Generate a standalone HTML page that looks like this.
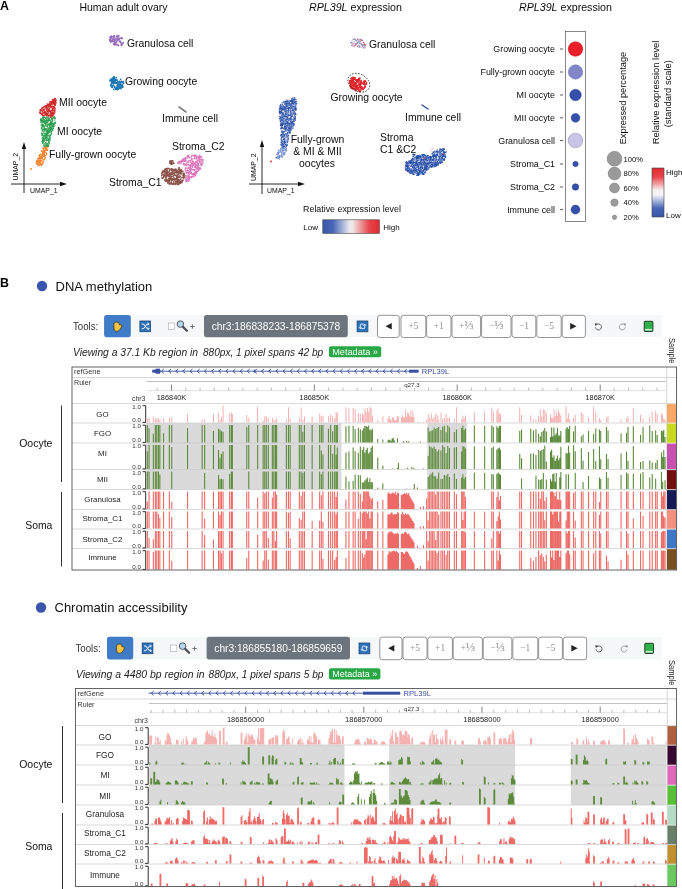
<!DOCTYPE html>
<html><head><meta charset="utf-8"><title>Figure</title>
<style>html,body{margin:0;padding:0;background:#fff}svg{display:block}text{font-family:"Liberation Sans",Arial,sans-serif}</style></head>
<body>
<svg width="682" height="889" viewBox="0 0 682 889">
<rect width="682" height="889" fill="#fff"/>
<g id="panelA">
<text x="0" y="10.3" font-size="12.4" fill="#000" font-weight="bold">A</text>
<text x="123.5" y="11.3" font-size="10.5" text-anchor="middle" fill="#0c0c0c">Human adult ovary</text>
<g fill="#9467bd"><circle cx="113.9" cy="36.7" r="0.9"/><circle cx="118.8" cy="35.8" r="0.9"/><circle cx="117.0" cy="39.0" r="0.9"/><circle cx="109.9" cy="40.6" r="0.9"/><circle cx="109.6" cy="39.8" r="0.9"/><circle cx="115.4" cy="44.1" r="0.9"/><circle cx="110.9" cy="37.5" r="0.9"/><circle cx="118.4" cy="45.4" r="0.9"/><circle cx="117.7" cy="39.4" r="0.9"/><circle cx="121.9" cy="38.2" r="0.9"/><circle cx="111.2" cy="36.3" r="0.9"/><circle cx="113.6" cy="44.0" r="0.9"/><circle cx="111.7" cy="41.4" r="0.9"/><circle cx="118.6" cy="39.1" r="0.9"/><circle cx="117.2" cy="35.7" r="0.9"/><circle cx="109.9" cy="37.3" r="0.9"/><circle cx="119.2" cy="39.7" r="0.9"/><circle cx="113.7" cy="41.4" r="0.9"/><circle cx="115.8" cy="38.3" r="0.9"/><circle cx="120.9" cy="42.7" r="0.9"/><circle cx="112.7" cy="41.3" r="0.9"/><circle cx="116.9" cy="44.6" r="0.9"/><circle cx="119.9" cy="38.2" r="0.9"/><circle cx="115.3" cy="43.3" r="0.9"/><circle cx="111.3" cy="40.4" r="0.9"/><circle cx="120.5" cy="41.3" r="0.9"/><circle cx="122.1" cy="38.5" r="0.9"/><circle cx="119.4" cy="41.5" r="0.9"/><circle cx="117.7" cy="40.0" r="0.9"/><circle cx="121.6" cy="45.4" r="0.9"/><circle cx="116.1" cy="42.3" r="0.9"/><circle cx="121.3" cy="38.1" r="0.9"/><circle cx="114.8" cy="42.4" r="0.9"/><circle cx="111.5" cy="36.3" r="0.9"/><circle cx="110.9" cy="37.7" r="0.9"/><circle cx="114.9" cy="44.6" r="0.9"/><circle cx="110.2" cy="39.9" r="0.9"/><circle cx="117.2" cy="44.7" r="0.9"/><circle cx="121.3" cy="44.5" r="0.9"/><circle cx="113.2" cy="39.6" r="0.9"/><circle cx="114.4" cy="44.7" r="0.9"/><circle cx="111.6" cy="37.6" r="0.9"/><circle cx="112.5" cy="40.3" r="0.9"/><circle cx="117.8" cy="37.9" r="0.9"/><circle cx="114.5" cy="41.2" r="0.9"/><circle cx="123.3" cy="42.6" r="0.9"/><circle cx="116.7" cy="41.8" r="0.9"/><circle cx="122.5" cy="43.6" r="0.9"/><circle cx="122.1" cy="43.8" r="0.9"/><circle cx="114.9" cy="39.4" r="0.9"/><circle cx="110.6" cy="42.0" r="0.9"/><circle cx="112.1" cy="36.8" r="0.9"/><circle cx="114.1" cy="35.6" r="0.9"/><circle cx="110.5" cy="39.0" r="0.9"/><circle cx="118.2" cy="36.6" r="0.9"/><circle cx="112.8" cy="38.8" r="0.9"/><circle cx="114.5" cy="36.4" r="0.9"/><circle cx="116.0" cy="40.3" r="0.9"/><circle cx="114.1" cy="37.9" r="0.9"/><circle cx="116.9" cy="36.6" r="0.9"/></g>
<g fill="#1f77b4"><circle cx="117.4" cy="89.7" r="0.9"/><circle cx="122.1" cy="85.4" r="0.9"/><circle cx="113.7" cy="80.5" r="0.9"/><circle cx="112.3" cy="86.6" r="0.9"/><circle cx="117.5" cy="86.7" r="0.9"/><circle cx="114.6" cy="78.3" r="0.9"/><circle cx="121.9" cy="87.1" r="0.9"/><circle cx="121.5" cy="86.1" r="0.9"/><circle cx="113.2" cy="82.8" r="0.9"/><circle cx="113.6" cy="85.4" r="0.9"/><circle cx="123.4" cy="81.7" r="0.9"/><circle cx="113.1" cy="78.4" r="0.9"/><circle cx="112.8" cy="78.1" r="0.9"/><circle cx="118.7" cy="88.5" r="0.9"/><circle cx="121.8" cy="82.2" r="0.9"/><circle cx="119.1" cy="87.0" r="0.9"/><circle cx="111.2" cy="84.9" r="0.9"/><circle cx="122.7" cy="86.7" r="0.9"/><circle cx="120.5" cy="82.2" r="0.9"/><circle cx="112.5" cy="86.8" r="0.9"/><circle cx="114.7" cy="87.0" r="0.9"/><circle cx="115.6" cy="89.2" r="0.9"/><circle cx="122.7" cy="87.1" r="0.9"/><circle cx="112.0" cy="87.4" r="0.9"/><circle cx="114.9" cy="83.2" r="0.9"/><circle cx="117.4" cy="89.0" r="0.9"/><circle cx="116.1" cy="88.1" r="0.9"/><circle cx="113.5" cy="79.4" r="0.9"/><circle cx="113.4" cy="83.8" r="0.9"/><circle cx="113.6" cy="81.3" r="0.9"/><circle cx="115.0" cy="81.9" r="0.9"/><circle cx="118.2" cy="88.6" r="0.9"/><circle cx="115.9" cy="88.8" r="0.9"/><circle cx="117.0" cy="83.0" r="0.9"/><circle cx="116.2" cy="77.7" r="0.9"/><circle cx="112.4" cy="82.1" r="0.9"/><circle cx="120.2" cy="83.3" r="0.9"/><circle cx="114.6" cy="82.8" r="0.9"/><circle cx="117.8" cy="86.8" r="0.9"/><circle cx="111.5" cy="83.4" r="0.9"/><circle cx="113.5" cy="79.2" r="0.9"/><circle cx="120.8" cy="82.6" r="0.9"/><circle cx="117.9" cy="86.4" r="0.9"/><circle cx="122.8" cy="81.6" r="0.9"/><circle cx="118.6" cy="82.6" r="0.9"/><circle cx="117.2" cy="85.4" r="0.9"/><circle cx="116.3" cy="83.0" r="0.9"/><circle cx="116.7" cy="89.1" r="0.9"/><circle cx="119.8" cy="88.1" r="0.9"/><circle cx="117.8" cy="89.1" r="0.9"/><circle cx="111.7" cy="81.6" r="0.9"/><circle cx="111.0" cy="85.0" r="0.9"/><circle cx="121.0" cy="88.5" r="0.9"/><circle cx="112.2" cy="85.7" r="0.9"/><circle cx="115.6" cy="82.3" r="0.9"/><circle cx="112.3" cy="81.5" r="0.9"/><circle cx="117.2" cy="80.1" r="0.9"/><circle cx="112.7" cy="79.8" r="0.9"/><circle cx="117.8" cy="81.6" r="0.9"/><circle cx="110.3" cy="80.0" r="0.9"/><circle cx="118.7" cy="82.7" r="0.9"/><circle cx="111.5" cy="79.0" r="0.9"/><circle cx="113.8" cy="76.9" r="0.9"/><circle cx="115.9" cy="88.7" r="0.9"/><circle cx="118.0" cy="85.5" r="0.9"/><circle cx="119.6" cy="81.4" r="0.9"/><circle cx="118.9" cy="87.0" r="0.9"/><circle cx="116.4" cy="80.1" r="0.9"/><circle cx="117.7" cy="88.9" r="0.9"/><circle cx="113.8" cy="76.9" r="0.9"/><circle cx="114.4" cy="79.6" r="0.9"/><circle cx="120.6" cy="79.3" r="0.9"/><circle cx="120.3" cy="83.3" r="0.9"/><circle cx="112.7" cy="82.1" r="0.9"/><circle cx="121.5" cy="81.5" r="0.9"/><circle cx="116.9" cy="87.5" r="0.9"/><circle cx="115.5" cy="82.6" r="0.9"/><circle cx="114.8" cy="87.5" r="0.9"/><circle cx="119.9" cy="84.5" r="0.9"/><circle cx="115.7" cy="80.2" r="0.9"/><circle cx="111.0" cy="86.1" r="0.9"/><circle cx="113.6" cy="77.4" r="0.9"/><circle cx="122.2" cy="85.1" r="0.9"/><circle cx="113.9" cy="78.6" r="0.9"/><circle cx="114.1" cy="81.9" r="0.9"/><circle cx="112.2" cy="81.7" r="0.9"/><circle cx="113.7" cy="89.4" r="0.9"/><circle cx="123.6" cy="83.2" r="0.9"/><circle cx="114.3" cy="80.3" r="0.9"/><circle cx="110.0" cy="80.7" r="0.9"/><circle cx="116.6" cy="82.5" r="0.9"/><circle cx="112.8" cy="82.6" r="0.9"/><circle cx="111.3" cy="81.0" r="0.9"/><circle cx="114.3" cy="78.5" r="0.9"/><circle cx="118.2" cy="82.9" r="0.9"/><circle cx="120.5" cy="84.9" r="0.9"/><circle cx="120.0" cy="88.2" r="0.9"/><circle cx="115.5" cy="79.9" r="0.9"/><circle cx="120.1" cy="84.6" r="0.9"/><circle cx="122.5" cy="84.4" r="0.9"/><circle cx="120.3" cy="87.2" r="0.9"/><circle cx="112.0" cy="82.9" r="0.9"/><circle cx="117.1" cy="87.5" r="0.9"/><circle cx="121.3" cy="87.4" r="0.9"/><circle cx="118.2" cy="88.4" r="0.9"/><circle cx="119.6" cy="85.4" r="0.9"/><circle cx="111.9" cy="80.4" r="0.9"/><circle cx="117.8" cy="84.4" r="0.9"/><circle cx="118.8" cy="85.2" r="0.9"/><circle cx="121.2" cy="86.2" r="0.9"/></g>
<g fill="#d02a2a"><circle cx="48.0" cy="108.4" r="0.75"/><circle cx="51.9" cy="102.9" r="0.75"/><circle cx="51.8" cy="102.0" r="0.75"/><circle cx="47.9" cy="105.5" r="0.75"/><circle cx="47.7" cy="111.3" r="0.75"/><circle cx="52.4" cy="110.0" r="0.75"/><circle cx="52.0" cy="103.9" r="0.75"/><circle cx="50.8" cy="111.5" r="0.75"/><circle cx="50.9" cy="103.7" r="0.75"/><circle cx="48.3" cy="107.1" r="0.75"/><circle cx="54.5" cy="101.9" r="0.75"/><circle cx="43.3" cy="109.3" r="0.75"/><circle cx="42.1" cy="108.2" r="0.75"/><circle cx="55.4" cy="100.6" r="0.75"/><circle cx="53.3" cy="107.9" r="0.75"/><circle cx="54.3" cy="111.7" r="0.75"/><circle cx="43.6" cy="115.5" r="0.75"/><circle cx="47.2" cy="103.9" r="0.75"/><circle cx="45.0" cy="114.4" r="0.75"/><circle cx="39.8" cy="112.6" r="0.75"/><circle cx="53.6" cy="100.3" r="0.75"/><circle cx="55.0" cy="111.9" r="0.75"/><circle cx="54.6" cy="103.7" r="0.75"/><circle cx="45.9" cy="105.7" r="0.75"/><circle cx="45.7" cy="106.3" r="0.75"/><circle cx="41.5" cy="114.3" r="0.75"/><circle cx="54.3" cy="113.8" r="0.75"/><circle cx="50.1" cy="115.8" r="0.75"/><circle cx="55.2" cy="108.7" r="0.75"/><circle cx="51.8" cy="106.8" r="0.75"/><circle cx="52.1" cy="110.6" r="0.75"/><circle cx="55.0" cy="100.5" r="0.75"/><circle cx="47.5" cy="104.7" r="0.75"/><circle cx="44.7" cy="112.4" r="0.75"/><circle cx="55.8" cy="103.1" r="0.75"/><circle cx="50.6" cy="103.9" r="0.75"/><circle cx="48.9" cy="105.7" r="0.75"/><circle cx="43.2" cy="115.7" r="0.75"/><circle cx="49.1" cy="115.3" r="0.75"/><circle cx="52.1" cy="106.0" r="0.75"/><circle cx="46.6" cy="108.2" r="0.75"/><circle cx="55.7" cy="100.5" r="0.75"/><circle cx="48.1" cy="110.3" r="0.75"/><circle cx="54.0" cy="102.2" r="0.75"/><circle cx="46.4" cy="106.7" r="0.75"/><circle cx="40.3" cy="111.8" r="0.75"/><circle cx="54.5" cy="107.2" r="0.75"/><circle cx="53.3" cy="114.7" r="0.75"/><circle cx="55.7" cy="102.8" r="0.75"/><circle cx="48.4" cy="111.3" r="0.75"/><circle cx="50.4" cy="112.9" r="0.75"/><circle cx="47.3" cy="108.8" r="0.75"/><circle cx="40.4" cy="113.3" r="0.75"/><circle cx="50.4" cy="103.9" r="0.75"/><circle cx="50.2" cy="111.6" r="0.75"/><circle cx="48.4" cy="109.4" r="0.75"/><circle cx="44.7" cy="107.0" r="0.75"/><circle cx="54.3" cy="107.3" r="0.75"/><circle cx="48.0" cy="111.2" r="0.75"/><circle cx="50.7" cy="116.0" r="0.75"/><circle cx="45.3" cy="106.2" r="0.75"/><circle cx="51.0" cy="101.9" r="0.75"/><circle cx="52.9" cy="112.4" r="0.75"/><circle cx="55.7" cy="104.1" r="0.75"/><circle cx="53.2" cy="102.5" r="0.75"/><circle cx="43.4" cy="112.8" r="0.75"/><circle cx="50.7" cy="116.5" r="0.75"/><circle cx="55.1" cy="104.4" r="0.75"/><circle cx="50.7" cy="105.4" r="0.75"/><circle cx="55.5" cy="100.4" r="0.75"/><circle cx="55.6" cy="102.0" r="0.75"/><circle cx="45.6" cy="114.0" r="0.75"/><circle cx="53.3" cy="106.4" r="0.75"/><circle cx="54.5" cy="98.6" r="0.75"/><circle cx="46.5" cy="113.8" r="0.75"/><circle cx="54.9" cy="103.0" r="0.75"/><circle cx="52.1" cy="115.5" r="0.75"/><circle cx="44.1" cy="112.0" r="0.75"/><circle cx="39.9" cy="112.7" r="0.75"/><circle cx="54.8" cy="110.4" r="0.75"/><circle cx="55.3" cy="98.5" r="0.75"/><circle cx="43.6" cy="107.3" r="0.75"/><circle cx="46.9" cy="107.6" r="0.75"/><circle cx="55.0" cy="101.6" r="0.75"/><circle cx="53.0" cy="112.4" r="0.75"/><circle cx="53.3" cy="113.1" r="0.75"/><circle cx="49.8" cy="104.4" r="0.75"/><circle cx="52.6" cy="99.5" r="0.75"/><circle cx="43.0" cy="112.7" r="0.75"/><circle cx="51.4" cy="106.7" r="0.75"/><circle cx="50.0" cy="111.1" r="0.75"/><circle cx="52.1" cy="114.5" r="0.75"/><circle cx="53.6" cy="103.7" r="0.75"/><circle cx="49.1" cy="105.3" r="0.75"/><circle cx="51.9" cy="101.9" r="0.75"/><circle cx="42.3" cy="115.2" r="0.75"/><circle cx="49.3" cy="104.4" r="0.75"/><circle cx="53.1" cy="110.7" r="0.75"/><circle cx="56.1" cy="100.0" r="0.75"/><circle cx="47.6" cy="114.0" r="0.75"/><circle cx="55.1" cy="105.3" r="0.75"/><circle cx="54.0" cy="106.8" r="0.75"/><circle cx="44.1" cy="113.2" r="0.75"/><circle cx="55.3" cy="100.1" r="0.75"/><circle cx="49.6" cy="110.1" r="0.75"/><circle cx="44.0" cy="109.7" r="0.75"/><circle cx="50.5" cy="102.0" r="0.75"/><circle cx="50.9" cy="101.6" r="0.75"/><circle cx="52.8" cy="108.7" r="0.75"/><circle cx="46.3" cy="108.7" r="0.75"/><circle cx="42.5" cy="111.6" r="0.75"/><circle cx="44.9" cy="109.0" r="0.75"/><circle cx="45.7" cy="106.1" r="0.75"/><circle cx="51.7" cy="102.0" r="0.75"/><circle cx="46.7" cy="114.0" r="0.75"/><circle cx="46.5" cy="115.2" r="0.75"/><circle cx="50.3" cy="115.7" r="0.75"/><circle cx="41.3" cy="110.1" r="0.75"/><circle cx="45.9" cy="107.8" r="0.75"/><circle cx="48.3" cy="116.0" r="0.75"/><circle cx="55.0" cy="105.6" r="0.75"/><circle cx="54.6" cy="110.1" r="0.75"/><circle cx="53.3" cy="101.1" r="0.75"/><circle cx="52.7" cy="102.3" r="0.75"/><circle cx="46.4" cy="114.5" r="0.75"/><circle cx="53.4" cy="101.6" r="0.75"/><circle cx="48.3" cy="105.5" r="0.75"/><circle cx="51.7" cy="115.5" r="0.75"/><circle cx="53.5" cy="100.3" r="0.75"/><circle cx="49.6" cy="108.7" r="0.75"/><circle cx="50.1" cy="104.0" r="0.75"/><circle cx="46.7" cy="109.4" r="0.75"/><circle cx="46.8" cy="110.8" r="0.75"/><circle cx="47.1" cy="106.5" r="0.75"/><circle cx="40.2" cy="110.1" r="0.75"/><circle cx="52.3" cy="113.2" r="0.75"/><circle cx="51.8" cy="113.2" r="0.75"/><circle cx="48.1" cy="105.4" r="0.75"/><circle cx="55.4" cy="100.7" r="0.75"/><circle cx="51.8" cy="113.9" r="0.75"/><circle cx="54.8" cy="101.2" r="0.75"/><circle cx="52.7" cy="116.1" r="0.75"/><circle cx="52.2" cy="101.1" r="0.75"/><circle cx="54.5" cy="103.4" r="0.75"/><circle cx="53.2" cy="100.8" r="0.75"/><circle cx="48.0" cy="115.9" r="0.75"/><circle cx="48.1" cy="104.2" r="0.75"/><circle cx="50.9" cy="115.5" r="0.75"/><circle cx="42.6" cy="113.3" r="0.75"/><circle cx="41.7" cy="108.3" r="0.75"/><circle cx="50.2" cy="105.0" r="0.75"/><circle cx="54.1" cy="108.8" r="0.75"/><circle cx="49.3" cy="115.2" r="0.75"/><circle cx="50.1" cy="105.7" r="0.75"/><circle cx="52.9" cy="103.2" r="0.75"/><circle cx="45.7" cy="112.9" r="0.75"/><circle cx="53.2" cy="102.9" r="0.75"/><circle cx="50.3" cy="117.2" r="0.75"/><circle cx="49.4" cy="110.9" r="0.75"/><circle cx="49.9" cy="106.4" r="0.75"/><circle cx="48.2" cy="115.5" r="0.75"/><circle cx="43.5" cy="109.4" r="0.75"/><circle cx="49.5" cy="102.0" r="0.75"/><circle cx="50.0" cy="107.3" r="0.75"/><circle cx="41.4" cy="110.4" r="0.75"/><circle cx="54.1" cy="113.3" r="0.75"/><circle cx="40.0" cy="110.6" r="0.75"/><circle cx="49.0" cy="104.8" r="0.75"/><circle cx="50.4" cy="106.7" r="0.75"/><circle cx="43.9" cy="115.6" r="0.75"/><circle cx="40.8" cy="113.2" r="0.75"/><circle cx="55.2" cy="100.8" r="0.75"/><circle cx="43.1" cy="109.9" r="0.75"/><circle cx="48.1" cy="110.5" r="0.75"/><circle cx="53.1" cy="101.4" r="0.75"/><circle cx="52.6" cy="112.0" r="0.75"/><circle cx="52.0" cy="107.1" r="0.75"/><circle cx="52.0" cy="106.8" r="0.75"/><circle cx="45.3" cy="112.6" r="0.75"/><circle cx="51.2" cy="114.5" r="0.75"/><circle cx="51.5" cy="103.2" r="0.75"/><circle cx="48.9" cy="106.5" r="0.75"/><circle cx="52.7" cy="108.2" r="0.75"/><circle cx="44.2" cy="110.5" r="0.75"/><circle cx="55.6" cy="102.2" r="0.75"/><circle cx="52.0" cy="116.4" r="0.75"/><circle cx="52.0" cy="104.4" r="0.75"/><circle cx="54.2" cy="104.4" r="0.75"/><circle cx="43.7" cy="115.7" r="0.75"/><circle cx="50.1" cy="111.5" r="0.75"/><circle cx="50.7" cy="117.1" r="0.75"/><circle cx="47.5" cy="114.4" r="0.75"/><circle cx="51.2" cy="114.7" r="0.75"/><circle cx="47.0" cy="112.1" r="0.75"/><circle cx="49.2" cy="104.0" r="0.75"/><circle cx="43.3" cy="110.1" r="0.75"/><circle cx="51.2" cy="110.4" r="0.75"/><circle cx="51.2" cy="112.4" r="0.75"/><circle cx="40.9" cy="109.5" r="0.75"/><circle cx="45.8" cy="113.9" r="0.75"/><circle cx="53.2" cy="115.4" r="0.75"/><circle cx="53.7" cy="113.8" r="0.75"/><circle cx="50.2" cy="114.1" r="0.75"/><circle cx="50.2" cy="103.6" r="0.75"/><circle cx="52.2" cy="102.0" r="0.75"/><circle cx="45.0" cy="106.3" r="0.75"/><circle cx="44.4" cy="112.0" r="0.75"/><circle cx="53.8" cy="110.1" r="0.75"/><circle cx="47.0" cy="113.1" r="0.75"/><circle cx="45.5" cy="111.7" r="0.75"/><circle cx="53.9" cy="99.8" r="0.75"/><circle cx="53.2" cy="101.3" r="0.75"/><circle cx="47.9" cy="113.5" r="0.75"/><circle cx="42.8" cy="107.6" r="0.75"/><circle cx="45.5" cy="114.2" r="0.75"/><circle cx="51.3" cy="107.7" r="0.75"/><circle cx="41.6" cy="110.4" r="0.75"/><circle cx="41.1" cy="113.4" r="0.75"/><circle cx="51.2" cy="113.3" r="0.75"/><circle cx="50.1" cy="104.9" r="0.75"/><circle cx="46.4" cy="105.7" r="0.75"/><circle cx="54.4" cy="99.7" r="0.75"/><circle cx="54.6" cy="107.8" r="0.75"/><circle cx="46.0" cy="115.2" r="0.75"/><circle cx="43.6" cy="107.0" r="0.75"/><circle cx="48.5" cy="112.7" r="0.75"/><circle cx="52.1" cy="110.6" r="0.75"/><circle cx="42.3" cy="114.4" r="0.75"/><circle cx="50.7" cy="112.5" r="0.75"/><circle cx="52.5" cy="109.3" r="0.75"/></g>
<g fill="#2ea052"><circle cx="42.3" cy="130.3" r="0.75"/><circle cx="54.2" cy="123.4" r="0.75"/><circle cx="43.3" cy="125.3" r="0.75"/><circle cx="42.7" cy="120.8" r="0.75"/><circle cx="44.2" cy="126.1" r="0.75"/><circle cx="48.5" cy="121.0" r="0.75"/><circle cx="45.5" cy="121.9" r="0.75"/><circle cx="41.9" cy="127.9" r="0.75"/><circle cx="51.8" cy="129.5" r="0.75"/><circle cx="43.4" cy="135.8" r="0.75"/><circle cx="42.0" cy="122.4" r="0.75"/><circle cx="46.4" cy="117.1" r="0.75"/><circle cx="46.6" cy="140.5" r="0.75"/><circle cx="51.2" cy="131.5" r="0.75"/><circle cx="50.2" cy="130.4" r="0.75"/><circle cx="42.5" cy="134.7" r="0.75"/><circle cx="46.7" cy="139.0" r="0.75"/><circle cx="49.3" cy="139.2" r="0.75"/><circle cx="46.9" cy="123.1" r="0.75"/><circle cx="50.4" cy="130.1" r="0.75"/><circle cx="45.2" cy="135.5" r="0.75"/><circle cx="41.8" cy="129.0" r="0.75"/><circle cx="50.2" cy="123.8" r="0.75"/><circle cx="47.0" cy="130.1" r="0.75"/><circle cx="50.1" cy="128.7" r="0.75"/><circle cx="43.2" cy="136.3" r="0.75"/><circle cx="52.5" cy="128.0" r="0.75"/><circle cx="48.0" cy="146.2" r="0.75"/><circle cx="42.8" cy="140.2" r="0.75"/><circle cx="41.9" cy="133.8" r="0.75"/><circle cx="48.8" cy="138.2" r="0.75"/><circle cx="48.3" cy="135.8" r="0.75"/><circle cx="46.7" cy="145.4" r="0.75"/><circle cx="43.6" cy="137.2" r="0.75"/><circle cx="46.5" cy="139.6" r="0.75"/><circle cx="45.9" cy="117.8" r="0.75"/><circle cx="44.6" cy="128.4" r="0.75"/><circle cx="46.9" cy="137.6" r="0.75"/><circle cx="45.8" cy="124.2" r="0.75"/><circle cx="43.8" cy="139.0" r="0.75"/><circle cx="43.7" cy="140.8" r="0.75"/><circle cx="46.5" cy="122.6" r="0.75"/><circle cx="42.3" cy="140.1" r="0.75"/><circle cx="47.7" cy="133.4" r="0.75"/><circle cx="43.8" cy="145.9" r="0.75"/><circle cx="45.8" cy="135.8" r="0.75"/><circle cx="47.6" cy="125.1" r="0.75"/><circle cx="48.9" cy="119.9" r="0.75"/><circle cx="53.4" cy="127.0" r="0.75"/><circle cx="53.7" cy="124.3" r="0.75"/><circle cx="46.2" cy="123.9" r="0.75"/><circle cx="47.0" cy="121.8" r="0.75"/><circle cx="44.7" cy="123.6" r="0.75"/><circle cx="45.0" cy="130.9" r="0.75"/><circle cx="47.0" cy="135.8" r="0.75"/><circle cx="50.7" cy="127.2" r="0.75"/><circle cx="42.5" cy="141.8" r="0.75"/><circle cx="50.6" cy="123.8" r="0.75"/><circle cx="41.9" cy="120.4" r="0.75"/><circle cx="44.0" cy="140.1" r="0.75"/><circle cx="45.7" cy="120.7" r="0.75"/><circle cx="42.9" cy="143.6" r="0.75"/><circle cx="49.9" cy="140.2" r="0.75"/><circle cx="43.4" cy="137.5" r="0.75"/><circle cx="48.6" cy="139.0" r="0.75"/><circle cx="47.2" cy="143.4" r="0.75"/><circle cx="49.0" cy="124.2" r="0.75"/><circle cx="44.0" cy="120.3" r="0.75"/><circle cx="48.0" cy="117.8" r="0.75"/><circle cx="47.6" cy="120.5" r="0.75"/><circle cx="48.0" cy="131.4" r="0.75"/><circle cx="48.8" cy="142.7" r="0.75"/><circle cx="47.6" cy="133.4" r="0.75"/><circle cx="46.2" cy="129.0" r="0.75"/><circle cx="55.4" cy="118.3" r="0.75"/><circle cx="50.3" cy="135.7" r="0.75"/><circle cx="45.5" cy="146.4" r="0.75"/><circle cx="48.3" cy="131.0" r="0.75"/><circle cx="54.4" cy="117.1" r="0.75"/><circle cx="45.6" cy="142.7" r="0.75"/><circle cx="46.0" cy="130.7" r="0.75"/><circle cx="48.6" cy="139.9" r="0.75"/><circle cx="43.6" cy="129.5" r="0.75"/><circle cx="46.9" cy="133.2" r="0.75"/><circle cx="53.3" cy="125.1" r="0.75"/><circle cx="53.3" cy="128.5" r="0.75"/><circle cx="48.2" cy="124.4" r="0.75"/><circle cx="48.3" cy="146.2" r="0.75"/><circle cx="45.5" cy="125.8" r="0.75"/><circle cx="45.0" cy="134.2" r="0.75"/><circle cx="41.1" cy="125.3" r="0.75"/><circle cx="40.4" cy="121.9" r="0.75"/><circle cx="50.0" cy="135.4" r="0.75"/><circle cx="51.2" cy="134.5" r="0.75"/><circle cx="51.0" cy="122.6" r="0.75"/><circle cx="50.8" cy="130.2" r="0.75"/><circle cx="52.3" cy="119.1" r="0.75"/><circle cx="43.1" cy="117.1" r="0.75"/><circle cx="50.6" cy="127.4" r="0.75"/><circle cx="49.1" cy="124.0" r="0.75"/><circle cx="45.0" cy="129.1" r="0.75"/><circle cx="45.3" cy="129.4" r="0.75"/><circle cx="40.9" cy="119.7" r="0.75"/><circle cx="46.8" cy="119.2" r="0.75"/><circle cx="50.4" cy="122.6" r="0.75"/><circle cx="51.6" cy="123.5" r="0.75"/><circle cx="51.8" cy="121.8" r="0.75"/><circle cx="51.8" cy="118.6" r="0.75"/><circle cx="50.2" cy="138.0" r="0.75"/><circle cx="47.5" cy="144.9" r="0.75"/><circle cx="44.3" cy="145.9" r="0.75"/><circle cx="53.1" cy="118.5" r="0.75"/><circle cx="45.2" cy="138.6" r="0.75"/><circle cx="42.9" cy="142.7" r="0.75"/><circle cx="47.9" cy="117.9" r="0.75"/><circle cx="46.1" cy="133.8" r="0.75"/><circle cx="47.2" cy="137.0" r="0.75"/><circle cx="42.6" cy="140.7" r="0.75"/><circle cx="46.0" cy="136.0" r="0.75"/><circle cx="50.2" cy="129.0" r="0.75"/><circle cx="46.4" cy="140.4" r="0.75"/><circle cx="49.2" cy="125.1" r="0.75"/><circle cx="45.5" cy="134.8" r="0.75"/><circle cx="49.7" cy="125.6" r="0.75"/><circle cx="47.0" cy="143.5" r="0.75"/><circle cx="46.2" cy="137.2" r="0.75"/><circle cx="53.0" cy="124.8" r="0.75"/><circle cx="46.9" cy="134.2" r="0.75"/><circle cx="49.3" cy="124.5" r="0.75"/><circle cx="45.7" cy="118.6" r="0.75"/><circle cx="49.0" cy="140.7" r="0.75"/><circle cx="43.4" cy="139.3" r="0.75"/><circle cx="54.9" cy="123.3" r="0.75"/><circle cx="49.8" cy="137.0" r="0.75"/><circle cx="47.6" cy="122.4" r="0.75"/><circle cx="44.3" cy="139.3" r="0.75"/><circle cx="52.7" cy="130.3" r="0.75"/><circle cx="52.4" cy="123.2" r="0.75"/><circle cx="47.8" cy="134.3" r="0.75"/><circle cx="43.3" cy="122.0" r="0.75"/><circle cx="43.1" cy="137.7" r="0.75"/><circle cx="46.0" cy="133.5" r="0.75"/><circle cx="46.6" cy="132.0" r="0.75"/><circle cx="42.6" cy="117.4" r="0.75"/><circle cx="42.0" cy="135.6" r="0.75"/><circle cx="52.7" cy="120.8" r="0.75"/><circle cx="49.7" cy="126.7" r="0.75"/><circle cx="49.2" cy="124.1" r="0.75"/><circle cx="52.5" cy="129.2" r="0.75"/><circle cx="44.3" cy="117.2" r="0.75"/><circle cx="43.5" cy="121.6" r="0.75"/><circle cx="49.1" cy="143.0" r="0.75"/><circle cx="47.5" cy="145.4" r="0.75"/><circle cx="54.6" cy="118.0" r="0.75"/><circle cx="49.7" cy="128.3" r="0.75"/><circle cx="44.3" cy="133.5" r="0.75"/><circle cx="50.8" cy="128.2" r="0.75"/><circle cx="47.3" cy="121.0" r="0.75"/><circle cx="43.8" cy="117.2" r="0.75"/><circle cx="44.3" cy="126.9" r="0.75"/><circle cx="53.4" cy="117.5" r="0.75"/><circle cx="41.2" cy="120.5" r="0.75"/><circle cx="50.9" cy="125.3" r="0.75"/><circle cx="49.6" cy="139.5" r="0.75"/><circle cx="42.0" cy="126.0" r="0.75"/><circle cx="44.3" cy="119.8" r="0.75"/><circle cx="47.9" cy="121.2" r="0.75"/><circle cx="44.0" cy="120.4" r="0.75"/><circle cx="51.6" cy="122.0" r="0.75"/><circle cx="43.8" cy="145.0" r="0.75"/><circle cx="42.5" cy="129.9" r="0.75"/><circle cx="47.4" cy="126.5" r="0.75"/><circle cx="50.2" cy="120.4" r="0.75"/><circle cx="43.8" cy="117.8" r="0.75"/><circle cx="51.5" cy="133.2" r="0.75"/><circle cx="42.6" cy="143.0" r="0.75"/><circle cx="44.5" cy="128.8" r="0.75"/><circle cx="42.7" cy="124.4" r="0.75"/><circle cx="53.5" cy="126.4" r="0.75"/><circle cx="42.9" cy="131.2" r="0.75"/><circle cx="45.3" cy="144.0" r="0.75"/><circle cx="50.8" cy="122.5" r="0.75"/><circle cx="47.8" cy="124.9" r="0.75"/><circle cx="44.3" cy="122.3" r="0.75"/><circle cx="46.0" cy="146.7" r="0.75"/><circle cx="41.8" cy="125.0" r="0.75"/><circle cx="54.4" cy="117.8" r="0.75"/><circle cx="51.7" cy="125.1" r="0.75"/><circle cx="53.0" cy="126.6" r="0.75"/><circle cx="43.2" cy="129.5" r="0.75"/><circle cx="54.6" cy="122.8" r="0.75"/><circle cx="49.3" cy="120.3" r="0.75"/><circle cx="43.1" cy="139.9" r="0.75"/><circle cx="51.5" cy="122.1" r="0.75"/><circle cx="41.5" cy="118.7" r="0.75"/><circle cx="49.9" cy="131.4" r="0.75"/><circle cx="44.6" cy="122.4" r="0.75"/><circle cx="49.9" cy="137.9" r="0.75"/><circle cx="43.5" cy="118.0" r="0.75"/><circle cx="51.8" cy="128.7" r="0.75"/><circle cx="51.6" cy="117.7" r="0.75"/><circle cx="53.0" cy="126.4" r="0.75"/><circle cx="54.0" cy="124.3" r="0.75"/><circle cx="43.2" cy="141.8" r="0.75"/><circle cx="46.1" cy="121.1" r="0.75"/><circle cx="46.1" cy="134.4" r="0.75"/><circle cx="47.3" cy="132.0" r="0.75"/><circle cx="42.2" cy="138.2" r="0.75"/><circle cx="45.3" cy="138.0" r="0.75"/><circle cx="46.3" cy="139.3" r="0.75"/><circle cx="48.4" cy="132.4" r="0.75"/><circle cx="55.5" cy="122.9" r="0.75"/><circle cx="43.2" cy="119.2" r="0.75"/><circle cx="44.2" cy="141.3" r="0.75"/><circle cx="40.8" cy="119.0" r="0.75"/><circle cx="51.3" cy="122.0" r="0.75"/><circle cx="49.4" cy="132.2" r="0.75"/><circle cx="51.3" cy="119.2" r="0.75"/><circle cx="41.0" cy="119.8" r="0.75"/><circle cx="48.0" cy="131.5" r="0.75"/><circle cx="44.7" cy="119.8" r="0.75"/><circle cx="46.7" cy="120.2" r="0.75"/><circle cx="42.6" cy="133.8" r="0.75"/><circle cx="52.0" cy="121.1" r="0.75"/><circle cx="46.4" cy="129.0" r="0.75"/><circle cx="46.5" cy="145.2" r="0.75"/><circle cx="52.5" cy="126.5" r="0.75"/><circle cx="44.1" cy="126.4" r="0.75"/><circle cx="47.1" cy="146.4" r="0.75"/><circle cx="44.2" cy="129.1" r="0.75"/><circle cx="50.2" cy="127.3" r="0.75"/><circle cx="48.6" cy="118.1" r="0.75"/><circle cx="47.1" cy="131.6" r="0.75"/><circle cx="40.6" cy="120.3" r="0.75"/><circle cx="54.2" cy="117.1" r="0.75"/><circle cx="50.4" cy="124.2" r="0.75"/><circle cx="51.0" cy="124.5" r="0.75"/><circle cx="48.8" cy="144.7" r="0.75"/><circle cx="50.1" cy="123.8" r="0.75"/><circle cx="48.5" cy="129.4" r="0.75"/><circle cx="45.1" cy="136.1" r="0.75"/><circle cx="42.2" cy="134.4" r="0.75"/><circle cx="44.5" cy="130.5" r="0.75"/><circle cx="48.7" cy="120.6" r="0.75"/><circle cx="42.2" cy="120.1" r="0.75"/><circle cx="44.9" cy="128.6" r="0.75"/><circle cx="44.8" cy="123.5" r="0.75"/><circle cx="41.7" cy="132.9" r="0.75"/><circle cx="49.3" cy="136.2" r="0.75"/><circle cx="43.5" cy="138.0" r="0.75"/><circle cx="47.5" cy="133.0" r="0.75"/><circle cx="49.9" cy="130.5" r="0.75"/><circle cx="45.2" cy="123.5" r="0.75"/><circle cx="43.8" cy="131.9" r="0.75"/><circle cx="46.3" cy="134.2" r="0.75"/><circle cx="53.8" cy="123.4" r="0.75"/><circle cx="49.0" cy="131.2" r="0.75"/><circle cx="44.8" cy="146.6" r="0.75"/><circle cx="44.9" cy="139.9" r="0.75"/><circle cx="42.8" cy="118.1" r="0.75"/><circle cx="41.3" cy="128.0" r="0.75"/><circle cx="47.2" cy="138.8" r="0.75"/><circle cx="42.0" cy="123.0" r="0.75"/><circle cx="42.7" cy="126.4" r="0.75"/><circle cx="45.8" cy="136.9" r="0.75"/><circle cx="52.2" cy="130.7" r="0.75"/><circle cx="54.7" cy="119.9" r="0.75"/><circle cx="48.1" cy="145.8" r="0.75"/><circle cx="49.3" cy="129.0" r="0.75"/><circle cx="49.8" cy="127.8" r="0.75"/><circle cx="47.4" cy="130.2" r="0.75"/><circle cx="51.7" cy="125.1" r="0.75"/><circle cx="46.4" cy="133.2" r="0.75"/><circle cx="46.3" cy="126.0" r="0.75"/><circle cx="48.1" cy="129.8" r="0.75"/><circle cx="43.2" cy="125.4" r="0.75"/><circle cx="42.6" cy="133.8" r="0.75"/><circle cx="49.4" cy="118.7" r="0.75"/><circle cx="54.7" cy="126.0" r="0.75"/><circle cx="55.4" cy="122.3" r="0.75"/><circle cx="47.0" cy="144.2" r="0.75"/><circle cx="49.2" cy="131.4" r="0.75"/><circle cx="48.4" cy="132.0" r="0.75"/><circle cx="51.1" cy="128.1" r="0.75"/><circle cx="45.9" cy="134.4" r="0.75"/><circle cx="45.8" cy="145.4" r="0.75"/><circle cx="50.9" cy="132.3" r="0.75"/><circle cx="41.9" cy="127.6" r="0.75"/><circle cx="46.6" cy="133.4" r="0.75"/><circle cx="49.3" cy="143.3" r="0.75"/><circle cx="47.2" cy="135.4" r="0.75"/><circle cx="48.6" cy="141.3" r="0.75"/><circle cx="43.0" cy="125.9" r="0.75"/><circle cx="48.3" cy="119.4" r="0.75"/><circle cx="42.8" cy="125.0" r="0.75"/><circle cx="48.3" cy="131.7" r="0.75"/><circle cx="43.3" cy="121.7" r="0.75"/><circle cx="50.2" cy="134.7" r="0.75"/><circle cx="45.8" cy="146.8" r="0.75"/><circle cx="46.8" cy="140.4" r="0.75"/><circle cx="45.1" cy="137.4" r="0.75"/><circle cx="50.8" cy="122.1" r="0.75"/><circle cx="48.1" cy="133.2" r="0.75"/><circle cx="44.5" cy="136.1" r="0.75"/><circle cx="49.3" cy="128.7" r="0.75"/><circle cx="42.2" cy="120.9" r="0.75"/><circle cx="52.2" cy="119.3" r="0.75"/><circle cx="41.9" cy="121.3" r="0.75"/><circle cx="48.5" cy="141.5" r="0.75"/><circle cx="52.4" cy="126.0" r="0.75"/><circle cx="51.5" cy="127.0" r="0.75"/><circle cx="43.0" cy="124.3" r="0.75"/><circle cx="49.4" cy="126.8" r="0.75"/><circle cx="47.4" cy="128.0" r="0.75"/><circle cx="47.2" cy="135.2" r="0.75"/><circle cx="44.2" cy="117.4" r="0.75"/><circle cx="45.2" cy="143.9" r="0.75"/><circle cx="53.1" cy="125.4" r="0.75"/><circle cx="48.1" cy="145.4" r="0.75"/><circle cx="44.1" cy="128.1" r="0.75"/><circle cx="51.6" cy="122.9" r="0.75"/><circle cx="45.2" cy="143.1" r="0.75"/><circle cx="47.9" cy="140.6" r="0.75"/><circle cx="44.1" cy="121.4" r="0.75"/><circle cx="45.9" cy="121.8" r="0.75"/><circle cx="49.1" cy="119.6" r="0.75"/><circle cx="48.7" cy="128.0" r="0.75"/><circle cx="46.6" cy="118.0" r="0.75"/><circle cx="42.2" cy="141.6" r="0.75"/><circle cx="45.8" cy="123.6" r="0.75"/></g>
<g fill="#f5822a"><circle cx="44.2" cy="154.0" r="0.75"/><circle cx="37.8" cy="161.5" r="0.75"/><circle cx="46.4" cy="149.6" r="0.75"/><circle cx="41.4" cy="164.1" r="0.75"/><circle cx="46.0" cy="150.3" r="0.75"/><circle cx="40.3" cy="161.8" r="0.75"/><circle cx="42.2" cy="151.7" r="0.75"/><circle cx="44.8" cy="152.3" r="0.75"/><circle cx="43.5" cy="151.4" r="0.75"/><circle cx="46.9" cy="149.5" r="0.75"/><circle cx="42.3" cy="158.1" r="0.75"/><circle cx="39.2" cy="162.8" r="0.75"/><circle cx="40.7" cy="160.5" r="0.75"/><circle cx="43.0" cy="153.4" r="0.75"/><circle cx="38.0" cy="164.4" r="0.75"/><circle cx="39.9" cy="160.6" r="0.75"/><circle cx="40.4" cy="157.3" r="0.75"/><circle cx="37.4" cy="161.7" r="0.75"/><circle cx="39.4" cy="155.3" r="0.75"/><circle cx="44.2" cy="154.2" r="0.75"/><circle cx="41.0" cy="160.5" r="0.75"/><circle cx="44.7" cy="152.1" r="0.75"/><circle cx="46.6" cy="154.2" r="0.75"/><circle cx="43.8" cy="150.7" r="0.75"/><circle cx="39.6" cy="154.8" r="0.75"/><circle cx="43.9" cy="150.7" r="0.75"/><circle cx="44.9" cy="152.2" r="0.75"/><circle cx="41.3" cy="161.0" r="0.75"/><circle cx="37.2" cy="163.2" r="0.75"/><circle cx="38.5" cy="165.7" r="0.75"/><circle cx="45.3" cy="148.8" r="0.75"/><circle cx="44.6" cy="155.1" r="0.75"/><circle cx="43.8" cy="156.3" r="0.75"/><circle cx="36.5" cy="161.3" r="0.75"/><circle cx="41.2" cy="157.5" r="0.75"/><circle cx="47.6" cy="149.6" r="0.75"/><circle cx="45.5" cy="147.9" r="0.75"/><circle cx="39.1" cy="158.2" r="0.75"/><circle cx="42.7" cy="152.1" r="0.75"/><circle cx="42.3" cy="156.1" r="0.75"/><circle cx="39.6" cy="165.1" r="0.75"/><circle cx="37.6" cy="158.5" r="0.75"/><circle cx="40.0" cy="163.7" r="0.75"/><circle cx="42.8" cy="162.6" r="0.75"/><circle cx="37.9" cy="160.7" r="0.75"/><circle cx="43.4" cy="156.5" r="0.75"/><circle cx="38.3" cy="161.4" r="0.75"/><circle cx="39.9" cy="156.6" r="0.75"/><circle cx="36.9" cy="161.7" r="0.75"/><circle cx="44.1" cy="152.2" r="0.75"/><circle cx="36.2" cy="162.9" r="0.75"/><circle cx="46.5" cy="153.1" r="0.75"/><circle cx="38.2" cy="160.1" r="0.75"/><circle cx="37.9" cy="163.1" r="0.75"/><circle cx="46.3" cy="153.6" r="0.75"/><circle cx="40.5" cy="158.3" r="0.75"/><circle cx="40.5" cy="164.0" r="0.75"/><circle cx="43.0" cy="159.9" r="0.75"/><circle cx="42.1" cy="157.2" r="0.75"/><circle cx="43.2" cy="148.6" r="0.75"/><circle cx="44.5" cy="150.4" r="0.75"/><circle cx="41.4" cy="150.9" r="0.75"/><circle cx="45.0" cy="147.1" r="0.75"/><circle cx="45.8" cy="155.7" r="0.75"/><circle cx="39.4" cy="160.6" r="0.75"/><circle cx="42.3" cy="155.6" r="0.75"/><circle cx="40.1" cy="156.0" r="0.75"/><circle cx="47.3" cy="150.4" r="0.75"/><circle cx="39.6" cy="156.1" r="0.75"/><circle cx="43.0" cy="154.1" r="0.75"/><circle cx="39.9" cy="156.4" r="0.75"/><circle cx="46.1" cy="148.2" r="0.75"/><circle cx="44.4" cy="159.5" r="0.75"/><circle cx="39.6" cy="158.7" r="0.75"/><circle cx="44.0" cy="153.1" r="0.75"/><circle cx="40.2" cy="165.1" r="0.75"/><circle cx="44.4" cy="156.2" r="0.75"/><circle cx="36.9" cy="160.5" r="0.75"/><circle cx="40.5" cy="158.9" r="0.75"/><circle cx="41.1" cy="157.9" r="0.75"/><circle cx="43.0" cy="155.1" r="0.75"/><circle cx="37.2" cy="164.7" r="0.75"/><circle cx="42.5" cy="152.2" r="0.75"/><circle cx="42.0" cy="158.4" r="0.75"/><circle cx="38.7" cy="158.7" r="0.75"/><circle cx="43.3" cy="148.6" r="0.75"/><circle cx="41.4" cy="164.7" r="0.75"/><circle cx="42.8" cy="161.6" r="0.75"/><circle cx="45.4" cy="149.3" r="0.75"/><circle cx="37.1" cy="164.0" r="0.75"/><circle cx="45.6" cy="149.8" r="0.75"/><circle cx="45.7" cy="148.2" r="0.75"/><circle cx="44.8" cy="155.7" r="0.75"/><circle cx="37.9" cy="162.3" r="0.75"/><circle cx="40.1" cy="162.7" r="0.75"/><circle cx="45.0" cy="147.9" r="0.75"/><circle cx="43.5" cy="149.0" r="0.75"/><circle cx="42.8" cy="163.5" r="0.75"/><circle cx="44.4" cy="152.2" r="0.75"/><circle cx="37.2" cy="163.4" r="0.75"/><circle cx="38.2" cy="158.4" r="0.75"/><circle cx="39.5" cy="161.1" r="0.75"/><circle cx="47.8" cy="147.3" r="0.75"/><circle cx="42.2" cy="164.9" r="0.75"/><circle cx="46.0" cy="147.7" r="0.75"/><circle cx="38.1" cy="163.8" r="0.75"/><circle cx="44.4" cy="155.0" r="0.75"/><circle cx="41.8" cy="150.2" r="0.75"/><circle cx="38.5" cy="165.3" r="0.75"/><circle cx="43.3" cy="147.9" r="0.75"/><circle cx="41.7" cy="158.8" r="0.75"/><circle cx="40.7" cy="154.3" r="0.75"/><circle cx="44.3" cy="152.6" r="0.75"/><circle cx="39.3" cy="157.3" r="0.75"/><circle cx="39.1" cy="158.7" r="0.75"/><circle cx="42.9" cy="162.8" r="0.75"/><circle cx="43.8" cy="160.0" r="0.75"/><circle cx="39.7" cy="162.6" r="0.75"/><circle cx="45.2" cy="157.4" r="0.75"/><circle cx="43.9" cy="154.2" r="0.75"/><circle cx="42.8" cy="155.3" r="0.75"/><circle cx="41.9" cy="154.5" r="0.75"/><circle cx="41.6" cy="156.1" r="0.75"/><circle cx="43.0" cy="153.2" r="0.75"/><circle cx="45.0" cy="158.3" r="0.75"/><circle cx="40.3" cy="162.9" r="0.75"/><circle cx="41.2" cy="164.8" r="0.75"/><circle cx="44.7" cy="151.5" r="0.75"/><circle cx="44.0" cy="151.0" r="0.75"/><circle cx="43.4" cy="148.6" r="0.75"/></g>
<circle cx="31" cy="169" r="0.9" fill="#ff7f0e"/>
<path d="M179 107 L186 112" stroke="#7f7f7f" stroke-width="1.6" stroke-linecap="round"/>
<g fill="#dc74bc"><circle cx="185.6" cy="157.9" r="0.75"/><circle cx="201.1" cy="160.0" r="0.75"/><circle cx="193.8" cy="165.6" r="0.75"/><circle cx="194.6" cy="163.6" r="0.75"/><circle cx="185.4" cy="168.1" r="0.75"/><circle cx="192.5" cy="161.3" r="0.75"/><circle cx="192.9" cy="174.6" r="0.75"/><circle cx="197.0" cy="156.6" r="0.75"/><circle cx="198.2" cy="166.1" r="0.75"/><circle cx="190.9" cy="170.8" r="0.75"/><circle cx="191.3" cy="172.7" r="0.75"/><circle cx="192.6" cy="163.4" r="0.75"/><circle cx="196.3" cy="161.3" r="0.75"/><circle cx="195.5" cy="175.8" r="0.75"/><circle cx="197.2" cy="162.8" r="0.75"/><circle cx="188.6" cy="161.9" r="0.75"/><circle cx="189.2" cy="172.7" r="0.75"/><circle cx="197.2" cy="164.3" r="0.75"/><circle cx="202.9" cy="160.5" r="0.75"/><circle cx="196.7" cy="156.6" r="0.75"/><circle cx="191.3" cy="159.2" r="0.75"/><circle cx="201.6" cy="164.4" r="0.75"/><circle cx="197.3" cy="160.9" r="0.75"/><circle cx="193.5" cy="163.8" r="0.75"/><circle cx="197.9" cy="167.1" r="0.75"/><circle cx="187.2" cy="178.6" r="0.75"/><circle cx="187.4" cy="180.2" r="0.75"/><circle cx="182.5" cy="161.2" r="0.75"/><circle cx="182.7" cy="159.8" r="0.75"/><circle cx="196.8" cy="172.3" r="0.75"/><circle cx="199.7" cy="161.6" r="0.75"/><circle cx="184.0" cy="163.4" r="0.75"/><circle cx="189.5" cy="179.4" r="0.75"/><circle cx="192.5" cy="166.9" r="0.75"/><circle cx="199.6" cy="159.2" r="0.75"/><circle cx="194.7" cy="156.6" r="0.75"/><circle cx="194.9" cy="155.1" r="0.75"/><circle cx="190.0" cy="160.6" r="0.75"/><circle cx="188.0" cy="157.0" r="0.75"/><circle cx="189.9" cy="157.2" r="0.75"/><circle cx="185.9" cy="168.1" r="0.75"/><circle cx="201.0" cy="164.0" r="0.75"/><circle cx="183.8" cy="159.1" r="0.75"/><circle cx="187.4" cy="169.9" r="0.75"/><circle cx="194.9" cy="172.6" r="0.75"/><circle cx="191.0" cy="169.6" r="0.75"/><circle cx="187.2" cy="163.1" r="0.75"/><circle cx="186.8" cy="165.0" r="0.75"/><circle cx="187.4" cy="158.1" r="0.75"/><circle cx="186.6" cy="160.9" r="0.75"/><circle cx="195.0" cy="163.2" r="0.75"/><circle cx="193.8" cy="169.6" r="0.75"/><circle cx="199.3" cy="168.5" r="0.75"/><circle cx="196.3" cy="164.8" r="0.75"/><circle cx="195.5" cy="165.2" r="0.75"/><circle cx="190.6" cy="171.5" r="0.75"/><circle cx="194.6" cy="163.2" r="0.75"/><circle cx="193.3" cy="169.5" r="0.75"/><circle cx="189.1" cy="174.6" r="0.75"/><circle cx="190.4" cy="167.6" r="0.75"/><circle cx="190.5" cy="169.0" r="0.75"/><circle cx="198.2" cy="160.8" r="0.75"/><circle cx="188.8" cy="172.3" r="0.75"/><circle cx="199.7" cy="155.2" r="0.75"/><circle cx="186.7" cy="177.7" r="0.75"/><circle cx="198.3" cy="157.5" r="0.75"/><circle cx="180.6" cy="161.2" r="0.75"/><circle cx="197.9" cy="168.9" r="0.75"/><circle cx="188.6" cy="156.5" r="0.75"/><circle cx="195.1" cy="166.8" r="0.75"/><circle cx="189.3" cy="176.8" r="0.75"/><circle cx="196.8" cy="158.3" r="0.75"/><circle cx="194.7" cy="164.5" r="0.75"/><circle cx="190.4" cy="160.8" r="0.75"/><circle cx="186.4" cy="163.7" r="0.75"/><circle cx="195.7" cy="161.8" r="0.75"/><circle cx="185.2" cy="160.9" r="0.75"/><circle cx="198.8" cy="156.6" r="0.75"/><circle cx="197.7" cy="171.6" r="0.75"/><circle cx="188.3" cy="164.5" r="0.75"/><circle cx="195.5" cy="162.4" r="0.75"/><circle cx="187.4" cy="172.5" r="0.75"/><circle cx="198.1" cy="164.0" r="0.75"/><circle cx="186.8" cy="170.5" r="0.75"/><circle cx="201.2" cy="159.5" r="0.75"/><circle cx="186.4" cy="173.0" r="0.75"/><circle cx="196.7" cy="164.8" r="0.75"/><circle cx="190.5" cy="168.2" r="0.75"/><circle cx="188.8" cy="167.2" r="0.75"/><circle cx="198.9" cy="165.8" r="0.75"/><circle cx="189.1" cy="179.4" r="0.75"/><circle cx="188.2" cy="168.0" r="0.75"/><circle cx="190.2" cy="177.5" r="0.75"/><circle cx="194.4" cy="175.1" r="0.75"/><circle cx="194.7" cy="169.8" r="0.75"/><circle cx="196.6" cy="170.1" r="0.75"/><circle cx="195.5" cy="167.8" r="0.75"/><circle cx="187.7" cy="170.6" r="0.75"/><circle cx="199.8" cy="158.1" r="0.75"/><circle cx="185.4" cy="168.8" r="0.75"/><circle cx="183.8" cy="161.5" r="0.75"/><circle cx="184.9" cy="161.3" r="0.75"/><circle cx="199.4" cy="169.8" r="0.75"/><circle cx="190.1" cy="166.0" r="0.75"/><circle cx="177.9" cy="162.7" r="0.75"/><circle cx="199.4" cy="161.3" r="0.75"/><circle cx="190.8" cy="164.7" r="0.75"/><circle cx="188.9" cy="167.9" r="0.75"/><circle cx="192.1" cy="164.4" r="0.75"/><circle cx="197.9" cy="159.7" r="0.75"/><circle cx="177.9" cy="163.0" r="0.75"/><circle cx="190.7" cy="165.7" r="0.75"/><circle cx="191.6" cy="163.2" r="0.75"/><circle cx="197.9" cy="170.9" r="0.75"/><circle cx="188.6" cy="180.6" r="0.75"/><circle cx="188.4" cy="179.0" r="0.75"/><circle cx="193.6" cy="155.4" r="0.75"/><circle cx="199.5" cy="156.0" r="0.75"/><circle cx="192.4" cy="159.1" r="0.75"/><circle cx="197.9" cy="168.2" r="0.75"/><circle cx="194.5" cy="173.2" r="0.75"/><circle cx="184.4" cy="160.0" r="0.75"/><circle cx="198.9" cy="158.2" r="0.75"/><circle cx="201.0" cy="159.9" r="0.75"/><circle cx="187.6" cy="172.8" r="0.75"/><circle cx="194.8" cy="158.4" r="0.75"/><circle cx="184.3" cy="160.6" r="0.75"/><circle cx="192.0" cy="163.1" r="0.75"/><circle cx="191.5" cy="158.4" r="0.75"/><circle cx="200.8" cy="163.2" r="0.75"/><circle cx="199.0" cy="158.3" r="0.75"/><circle cx="186.6" cy="172.3" r="0.75"/><circle cx="195.9" cy="166.3" r="0.75"/><circle cx="194.6" cy="157.3" r="0.75"/><circle cx="198.6" cy="157.5" r="0.75"/><circle cx="184.3" cy="163.9" r="0.75"/><circle cx="196.5" cy="168.2" r="0.75"/><circle cx="201.3" cy="156.7" r="0.75"/><circle cx="189.4" cy="178.6" r="0.75"/><circle cx="192.5" cy="169.4" r="0.75"/><circle cx="199.1" cy="160.5" r="0.75"/><circle cx="194.0" cy="155.4" r="0.75"/><circle cx="191.4" cy="156.7" r="0.75"/><circle cx="191.2" cy="176.5" r="0.75"/><circle cx="192.4" cy="167.1" r="0.75"/><circle cx="185.9" cy="164.7" r="0.75"/><circle cx="194.2" cy="158.7" r="0.75"/><circle cx="199.8" cy="167.7" r="0.75"/><circle cx="200.0" cy="157.3" r="0.75"/><circle cx="189.7" cy="169.3" r="0.75"/><circle cx="190.0" cy="164.5" r="0.75"/><circle cx="189.5" cy="176.5" r="0.75"/><circle cx="191.7" cy="173.6" r="0.75"/><circle cx="180.6" cy="161.5" r="0.75"/><circle cx="190.3" cy="162.3" r="0.75"/><circle cx="200.3" cy="156.4" r="0.75"/><circle cx="191.9" cy="160.7" r="0.75"/><circle cx="192.4" cy="176.3" r="0.75"/><circle cx="195.5" cy="155.8" r="0.75"/><circle cx="193.0" cy="173.7" r="0.75"/><circle cx="198.3" cy="163.7" r="0.75"/><circle cx="198.1" cy="167.2" r="0.75"/><circle cx="201.6" cy="165.7" r="0.75"/><circle cx="187.4" cy="156.5" r="0.75"/><circle cx="194.6" cy="158.3" r="0.75"/><circle cx="185.7" cy="158.0" r="0.75"/><circle cx="181.8" cy="160.3" r="0.75"/><circle cx="189.3" cy="168.2" r="0.75"/><circle cx="196.6" cy="172.1" r="0.75"/><circle cx="185.8" cy="158.6" r="0.75"/><circle cx="196.4" cy="157.8" r="0.75"/><circle cx="192.3" cy="166.4" r="0.75"/><circle cx="199.8" cy="162.5" r="0.75"/><circle cx="201.8" cy="157.3" r="0.75"/><circle cx="182.7" cy="159.6" r="0.75"/><circle cx="188.7" cy="160.7" r="0.75"/><circle cx="194.8" cy="174.2" r="0.75"/><circle cx="187.0" cy="176.3" r="0.75"/><circle cx="187.3" cy="156.5" r="0.75"/><circle cx="185.6" cy="171.0" r="0.75"/><circle cx="198.2" cy="165.9" r="0.75"/><circle cx="192.6" cy="167.0" r="0.75"/><circle cx="185.5" cy="160.1" r="0.75"/><circle cx="185.9" cy="178.1" r="0.75"/><circle cx="193.0" cy="162.3" r="0.75"/><circle cx="178.8" cy="161.7" r="0.75"/><circle cx="195.2" cy="166.6" r="0.75"/><circle cx="194.1" cy="177.0" r="0.75"/><circle cx="181.4" cy="161.7" r="0.75"/><circle cx="202.1" cy="164.3" r="0.75"/><circle cx="187.0" cy="168.2" r="0.75"/><circle cx="202.9" cy="159.4" r="0.75"/><circle cx="198.7" cy="158.6" r="0.75"/><circle cx="188.6" cy="177.1" r="0.75"/><circle cx="183.2" cy="164.0" r="0.75"/><circle cx="199.5" cy="168.6" r="0.75"/><circle cx="186.6" cy="180.5" r="0.75"/><circle cx="188.4" cy="181.3" r="0.75"/><circle cx="186.2" cy="172.8" r="0.75"/><circle cx="193.4" cy="164.7" r="0.75"/><circle cx="190.4" cy="173.3" r="0.75"/><circle cx="200.7" cy="168.2" r="0.75"/><circle cx="186.2" cy="181.8" r="0.75"/><circle cx="194.8" cy="169.9" r="0.75"/><circle cx="188.5" cy="175.4" r="0.75"/><circle cx="185.2" cy="157.9" r="0.75"/><circle cx="191.9" cy="155.3" r="0.75"/><circle cx="187.0" cy="175.3" r="0.75"/><circle cx="193.6" cy="162.0" r="0.75"/><circle cx="196.9" cy="162.3" r="0.75"/><circle cx="191.0" cy="166.0" r="0.75"/><circle cx="186.7" cy="181.4" r="0.75"/><circle cx="195.4" cy="173.7" r="0.75"/><circle cx="183.9" cy="158.6" r="0.75"/><circle cx="191.9" cy="177.5" r="0.75"/><circle cx="197.7" cy="163.9" r="0.75"/><circle cx="199.9" cy="158.6" r="0.75"/><circle cx="196.2" cy="158.9" r="0.75"/><circle cx="184.4" cy="164.9" r="0.75"/><circle cx="181.5" cy="162.8" r="0.75"/><circle cx="201.7" cy="159.6" r="0.75"/><circle cx="179.4" cy="161.4" r="0.75"/><circle cx="187.0" cy="165.0" r="0.75"/><circle cx="202.2" cy="161.6" r="0.75"/><circle cx="188.5" cy="177.9" r="0.75"/><circle cx="193.5" cy="176.2" r="0.75"/><circle cx="184.9" cy="158.3" r="0.75"/><circle cx="196.7" cy="167.4" r="0.75"/><circle cx="191.4" cy="173.1" r="0.75"/><circle cx="196.6" cy="161.8" r="0.75"/><circle cx="186.2" cy="180.1" r="0.75"/><circle cx="190.6" cy="162.2" r="0.75"/><circle cx="193.3" cy="161.4" r="0.75"/><circle cx="198.6" cy="170.1" r="0.75"/><circle cx="185.9" cy="180.8" r="0.75"/><circle cx="183.6" cy="160.9" r="0.75"/><circle cx="196.6" cy="173.3" r="0.75"/><circle cx="187.5" cy="177.0" r="0.75"/><circle cx="179.5" cy="162.7" r="0.75"/><circle cx="193.4" cy="173.7" r="0.75"/><circle cx="197.2" cy="165.2" r="0.75"/><circle cx="185.6" cy="165.2" r="0.75"/><circle cx="198.0" cy="164.0" r="0.75"/><circle cx="190.7" cy="168.9" r="0.75"/><circle cx="180.1" cy="163.7" r="0.75"/><circle cx="194.3" cy="170.5" r="0.75"/><circle cx="187.3" cy="170.4" r="0.75"/><circle cx="196.6" cy="168.3" r="0.75"/><circle cx="195.3" cy="171.5" r="0.75"/><circle cx="183.8" cy="160.1" r="0.75"/><circle cx="197.9" cy="164.3" r="0.75"/><circle cx="195.2" cy="156.1" r="0.75"/><circle cx="198.9" cy="163.3" r="0.75"/><circle cx="180.2" cy="161.8" r="0.75"/><circle cx="191.3" cy="177.0" r="0.75"/><circle cx="193.3" cy="163.7" r="0.75"/><circle cx="185.3" cy="170.2" r="0.75"/><circle cx="198.1" cy="169.3" r="0.75"/><circle cx="187.8" cy="155.8" r="0.75"/><circle cx="193.3" cy="174.6" r="0.75"/><circle cx="192.1" cy="165.4" r="0.75"/><circle cx="190.2" cy="170.8" r="0.75"/><circle cx="202.2" cy="163.4" r="0.75"/><circle cx="189.3" cy="157.8" r="0.75"/><circle cx="188.6" cy="173.5" r="0.75"/><circle cx="195.4" cy="167.0" r="0.75"/><circle cx="185.6" cy="159.4" r="0.75"/><circle cx="187.3" cy="162.1" r="0.75"/><circle cx="190.3" cy="166.5" r="0.75"/><circle cx="181.8" cy="161.6" r="0.75"/><circle cx="191.5" cy="174.0" r="0.75"/><circle cx="195.8" cy="174.5" r="0.75"/><circle cx="195.8" cy="172.0" r="0.75"/><circle cx="183.5" cy="164.1" r="0.75"/><circle cx="203.0" cy="162.7" r="0.75"/><circle cx="186.0" cy="179.6" r="0.75"/><circle cx="198.0" cy="167.0" r="0.75"/><circle cx="189.2" cy="177.4" r="0.75"/><circle cx="191.5" cy="168.5" r="0.75"/><circle cx="182.1" cy="161.2" r="0.75"/><circle cx="196.1" cy="164.9" r="0.75"/><circle cx="188.9" cy="155.2" r="0.75"/><circle cx="200.2" cy="169.2" r="0.75"/><circle cx="178.4" cy="163.2" r="0.75"/><circle cx="189.4" cy="172.2" r="0.75"/><circle cx="182.0" cy="160.9" r="0.75"/><circle cx="200.7" cy="164.9" r="0.75"/><circle cx="188.7" cy="170.7" r="0.75"/><circle cx="193.5" cy="174.1" r="0.75"/><circle cx="188.2" cy="155.9" r="0.75"/><circle cx="195.8" cy="155.5" r="0.75"/><circle cx="189.1" cy="165.4" r="0.75"/><circle cx="194.5" cy="174.3" r="0.75"/><circle cx="195.0" cy="167.4" r="0.75"/><circle cx="192.5" cy="155.8" r="0.75"/><circle cx="193.4" cy="175.1" r="0.75"/><circle cx="201.0" cy="161.5" r="0.75"/><circle cx="196.7" cy="157.0" r="0.75"/><circle cx="191.3" cy="177.4" r="0.75"/><circle cx="189.9" cy="171.7" r="0.75"/></g>
<g fill="#8c5248"><circle cx="175.6" cy="181.5" r="0.78"/><circle cx="174.4" cy="172.6" r="0.78"/><circle cx="179.3" cy="167.9" r="0.78"/><circle cx="181.3" cy="181.7" r="0.78"/><circle cx="172.2" cy="169.6" r="0.78"/><circle cx="176.9" cy="171.1" r="0.78"/><circle cx="171.5" cy="169.4" r="0.78"/><circle cx="169.6" cy="169.1" r="0.78"/><circle cx="178.9" cy="182.4" r="0.78"/><circle cx="170.0" cy="172.8" r="0.78"/><circle cx="179.7" cy="170.1" r="0.78"/><circle cx="175.9" cy="184.6" r="0.78"/><circle cx="178.0" cy="178.0" r="0.78"/><circle cx="173.7" cy="175.5" r="0.78"/><circle cx="171.0" cy="178.2" r="0.78"/><circle cx="176.9" cy="183.5" r="0.78"/><circle cx="179.0" cy="181.4" r="0.78"/><circle cx="178.6" cy="168.0" r="0.78"/><circle cx="177.7" cy="182.4" r="0.78"/><circle cx="171.6" cy="182.9" r="0.78"/><circle cx="171.8" cy="179.9" r="0.78"/><circle cx="167.2" cy="172.8" r="0.78"/><circle cx="169.5" cy="173.2" r="0.78"/><circle cx="163.3" cy="175.3" r="0.78"/><circle cx="179.4" cy="172.3" r="0.78"/><circle cx="167.1" cy="174.7" r="0.78"/><circle cx="169.1" cy="181.0" r="0.78"/><circle cx="180.0" cy="183.1" r="0.78"/><circle cx="180.5" cy="176.8" r="0.78"/><circle cx="168.7" cy="178.5" r="0.78"/><circle cx="170.0" cy="176.9" r="0.78"/><circle cx="174.0" cy="178.9" r="0.78"/><circle cx="174.2" cy="183.9" r="0.78"/><circle cx="171.0" cy="183.5" r="0.78"/><circle cx="177.9" cy="184.4" r="0.78"/><circle cx="163.2" cy="171.2" r="0.78"/><circle cx="168.0" cy="183.4" r="0.78"/><circle cx="165.3" cy="175.2" r="0.78"/><circle cx="177.8" cy="179.6" r="0.78"/><circle cx="179.3" cy="180.7" r="0.78"/><circle cx="167.1" cy="172.0" r="0.78"/><circle cx="166.1" cy="172.0" r="0.78"/><circle cx="175.5" cy="179.0" r="0.78"/><circle cx="175.6" cy="179.7" r="0.78"/><circle cx="168.4" cy="168.6" r="0.78"/><circle cx="169.9" cy="170.0" r="0.78"/><circle cx="163.8" cy="176.1" r="0.78"/><circle cx="167.7" cy="181.0" r="0.78"/><circle cx="165.4" cy="169.3" r="0.78"/><circle cx="168.4" cy="174.7" r="0.78"/><circle cx="177.9" cy="175.3" r="0.78"/><circle cx="178.8" cy="169.2" r="0.78"/><circle cx="183.8" cy="173.5" r="0.78"/><circle cx="181.3" cy="171.5" r="0.78"/><circle cx="181.9" cy="181.6" r="0.78"/><circle cx="177.4" cy="172.4" r="0.78"/><circle cx="177.2" cy="177.8" r="0.78"/><circle cx="177.2" cy="170.7" r="0.78"/><circle cx="177.0" cy="177.5" r="0.78"/><circle cx="166.5" cy="168.6" r="0.78"/><circle cx="169.9" cy="180.1" r="0.78"/><circle cx="167.2" cy="173.9" r="0.78"/><circle cx="173.8" cy="169.5" r="0.78"/><circle cx="167.1" cy="181.4" r="0.78"/><circle cx="168.0" cy="174.2" r="0.78"/><circle cx="179.7" cy="171.4" r="0.78"/><circle cx="165.8" cy="171.3" r="0.78"/><circle cx="170.4" cy="173.9" r="0.78"/><circle cx="176.7" cy="175.8" r="0.78"/><circle cx="177.3" cy="182.1" r="0.78"/><circle cx="171.7" cy="169.5" r="0.78"/><circle cx="172.3" cy="180.0" r="0.78"/><circle cx="172.7" cy="170.5" r="0.78"/><circle cx="166.7" cy="175.2" r="0.78"/><circle cx="169.8" cy="175.7" r="0.78"/><circle cx="183.9" cy="177.2" r="0.78"/><circle cx="162.8" cy="171.4" r="0.78"/><circle cx="179.2" cy="177.4" r="0.78"/><circle cx="184.1" cy="176.7" r="0.78"/><circle cx="166.9" cy="170.5" r="0.78"/><circle cx="182.2" cy="171.2" r="0.78"/><circle cx="163.0" cy="172.1" r="0.78"/><circle cx="183.6" cy="175.6" r="0.78"/><circle cx="178.9" cy="168.8" r="0.78"/><circle cx="172.1" cy="173.1" r="0.78"/><circle cx="166.0" cy="179.1" r="0.78"/><circle cx="169.9" cy="169.6" r="0.78"/><circle cx="185.1" cy="175.9" r="0.78"/><circle cx="177.0" cy="176.5" r="0.78"/><circle cx="161.6" cy="175.7" r="0.78"/><circle cx="179.1" cy="176.9" r="0.78"/><circle cx="166.7" cy="176.2" r="0.78"/><circle cx="175.8" cy="178.9" r="0.78"/><circle cx="182.0" cy="173.9" r="0.78"/><circle cx="166.6" cy="178.0" r="0.78"/><circle cx="171.8" cy="170.0" r="0.78"/><circle cx="165.7" cy="180.6" r="0.78"/><circle cx="175.3" cy="183.9" r="0.78"/><circle cx="170.8" cy="179.4" r="0.78"/><circle cx="166.7" cy="175.8" r="0.78"/><circle cx="173.5" cy="184.1" r="0.78"/><circle cx="176.2" cy="171.3" r="0.78"/><circle cx="181.4" cy="171.0" r="0.78"/><circle cx="168.9" cy="174.6" r="0.78"/><circle cx="169.4" cy="179.2" r="0.78"/><circle cx="161.6" cy="174.0" r="0.78"/><circle cx="167.3" cy="175.4" r="0.78"/><circle cx="174.8" cy="180.0" r="0.78"/><circle cx="164.4" cy="171.7" r="0.78"/><circle cx="164.7" cy="169.9" r="0.78"/><circle cx="173.8" cy="177.7" r="0.78"/><circle cx="166.7" cy="170.4" r="0.78"/><circle cx="175.3" cy="175.4" r="0.78"/><circle cx="171.0" cy="183.0" r="0.78"/><circle cx="177.2" cy="182.6" r="0.78"/><circle cx="184.1" cy="174.6" r="0.78"/><circle cx="168.1" cy="172.6" r="0.78"/><circle cx="171.3" cy="176.8" r="0.78"/><circle cx="181.8" cy="181.6" r="0.78"/><circle cx="177.0" cy="176.5" r="0.78"/><circle cx="163.9" cy="171.8" r="0.78"/><circle cx="177.1" cy="177.8" r="0.78"/><circle cx="180.6" cy="183.2" r="0.78"/><circle cx="175.0" cy="170.7" r="0.78"/><circle cx="178.0" cy="172.0" r="0.78"/><circle cx="166.8" cy="173.9" r="0.78"/><circle cx="173.8" cy="179.4" r="0.78"/><circle cx="176.3" cy="175.8" r="0.78"/><circle cx="177.5" cy="181.5" r="0.78"/><circle cx="177.6" cy="179.9" r="0.78"/><circle cx="176.9" cy="170.7" r="0.78"/><circle cx="166.7" cy="175.0" r="0.78"/><circle cx="171.0" cy="184.3" r="0.78"/><circle cx="183.1" cy="171.6" r="0.78"/><circle cx="179.0" cy="173.8" r="0.78"/><circle cx="177.3" cy="180.9" r="0.78"/><circle cx="164.1" cy="171.4" r="0.78"/><circle cx="166.3" cy="172.2" r="0.78"/><circle cx="171.0" cy="174.9" r="0.78"/><circle cx="162.9" cy="177.7" r="0.78"/><circle cx="184.1" cy="177.6" r="0.78"/><circle cx="169.7" cy="179.8" r="0.78"/><circle cx="171.7" cy="170.6" r="0.78"/><circle cx="177.6" cy="170.3" r="0.78"/><circle cx="179.8" cy="182.1" r="0.78"/><circle cx="176.7" cy="178.6" r="0.78"/><circle cx="178.3" cy="184.4" r="0.78"/><circle cx="165.8" cy="180.9" r="0.78"/><circle cx="168.4" cy="172.0" r="0.78"/><circle cx="181.1" cy="178.0" r="0.78"/><circle cx="181.8" cy="182.8" r="0.78"/><circle cx="175.4" cy="171.0" r="0.78"/><circle cx="178.8" cy="172.3" r="0.78"/><circle cx="165.2" cy="179.7" r="0.78"/><circle cx="167.5" cy="179.9" r="0.78"/><circle cx="169.2" cy="176.6" r="0.78"/><circle cx="168.8" cy="174.8" r="0.78"/><circle cx="172.7" cy="172.0" r="0.78"/><circle cx="165.0" cy="169.1" r="0.78"/><circle cx="176.3" cy="179.7" r="0.78"/><circle cx="167.4" cy="181.4" r="0.78"/><circle cx="178.9" cy="173.5" r="0.78"/><circle cx="173.0" cy="170.8" r="0.78"/><circle cx="183.8" cy="177.3" r="0.78"/><circle cx="178.0" cy="174.2" r="0.78"/><circle cx="178.6" cy="171.5" r="0.78"/><circle cx="180.5" cy="181.5" r="0.78"/><circle cx="163.3" cy="177.8" r="0.78"/><circle cx="165.7" cy="179.9" r="0.78"/><circle cx="180.7" cy="181.3" r="0.78"/><circle cx="166.7" cy="169.1" r="0.78"/><circle cx="177.3" cy="177.4" r="0.78"/><circle cx="164.4" cy="170.9" r="0.78"/><circle cx="175.3" cy="169.4" r="0.78"/><circle cx="176.5" cy="171.7" r="0.78"/><circle cx="167.3" cy="174.9" r="0.78"/><circle cx="174.1" cy="180.2" r="0.78"/><circle cx="166.4" cy="172.6" r="0.78"/><circle cx="176.7" cy="179.6" r="0.78"/><circle cx="176.1" cy="183.3" r="0.78"/><circle cx="166.0" cy="172.9" r="0.78"/><circle cx="177.2" cy="172.1" r="0.78"/><circle cx="164.9" cy="171.5" r="0.78"/><circle cx="179.9" cy="182.0" r="0.78"/><circle cx="178.5" cy="184.3" r="0.78"/><circle cx="180.5" cy="172.9" r="0.78"/><circle cx="168.7" cy="180.1" r="0.78"/><circle cx="162.4" cy="178.2" r="0.78"/><circle cx="173.6" cy="170.1" r="0.78"/><circle cx="172.3" cy="171.0" r="0.78"/><circle cx="163.9" cy="176.4" r="0.78"/><circle cx="173.8" cy="173.8" r="0.78"/><circle cx="178.5" cy="176.8" r="0.78"/><circle cx="180.0" cy="169.4" r="0.78"/><circle cx="162.7" cy="174.3" r="0.78"/><circle cx="172.8" cy="171.9" r="0.78"/><circle cx="177.4" cy="171.4" r="0.78"/><circle cx="168.8" cy="175.8" r="0.78"/><circle cx="178.5" cy="181.0" r="0.78"/><circle cx="170.1" cy="175.3" r="0.78"/><circle cx="176.2" cy="169.3" r="0.78"/><circle cx="172.2" cy="178.6" r="0.78"/><circle cx="167.8" cy="168.2" r="0.78"/><circle cx="164.2" cy="175.7" r="0.78"/><circle cx="176.2" cy="172.7" r="0.78"/><circle cx="179.9" cy="175.2" r="0.78"/><circle cx="163.1" cy="174.4" r="0.78"/><circle cx="162.3" cy="172.5" r="0.78"/><circle cx="179.8" cy="169.9" r="0.78"/><circle cx="165.0" cy="176.8" r="0.78"/><circle cx="181.4" cy="170.5" r="0.78"/><circle cx="165.3" cy="180.9" r="0.78"/><circle cx="171.4" cy="173.4" r="0.78"/><circle cx="164.0" cy="171.7" r="0.78"/><circle cx="167.4" cy="180.5" r="0.78"/><circle cx="172.6" cy="184.2" r="0.78"/><circle cx="175.8" cy="172.6" r="0.78"/><circle cx="172.4" cy="180.0" r="0.78"/><circle cx="179.0" cy="169.8" r="0.78"/><circle cx="169.3" cy="171.8" r="0.78"/><circle cx="167.3" cy="175.7" r="0.78"/><circle cx="181.9" cy="173.1" r="0.78"/><circle cx="165.2" cy="180.5" r="0.78"/><circle cx="169.4" cy="170.8" r="0.78"/><circle cx="171.3" cy="181.9" r="0.78"/><circle cx="182.1" cy="177.6" r="0.78"/><circle cx="175.9" cy="183.2" r="0.78"/><circle cx="184.3" cy="173.2" r="0.78"/><circle cx="181.8" cy="181.8" r="0.78"/><circle cx="167.5" cy="173.9" r="0.78"/><circle cx="170.2" cy="173.7" r="0.78"/><circle cx="170.3" cy="169.4" r="0.78"/><circle cx="171.1" cy="178.6" r="0.78"/><circle cx="182.7" cy="180.7" r="0.78"/><circle cx="178.8" cy="180.7" r="0.78"/><circle cx="180.9" cy="171.9" r="0.78"/><circle cx="177.1" cy="174.2" r="0.78"/><circle cx="181.6" cy="169.8" r="0.78"/><circle cx="174.2" cy="173.4" r="0.78"/><circle cx="181.1" cy="173.5" r="0.78"/><circle cx="181.7" cy="182.3" r="0.78"/><circle cx="177.6" cy="178.9" r="0.78"/><circle cx="174.4" cy="175.5" r="0.78"/><circle cx="169.3" cy="181.2" r="0.78"/><circle cx="180.2" cy="182.7" r="0.78"/><circle cx="166.2" cy="173.5" r="0.78"/><circle cx="167.1" cy="169.3" r="0.78"/><circle cx="180.5" cy="171.5" r="0.78"/><circle cx="179.2" cy="171.0" r="0.78"/><circle cx="172.3" cy="174.5" r="0.78"/><circle cx="168.6" cy="178.6" r="0.78"/><circle cx="182.9" cy="175.7" r="0.78"/><circle cx="183.0" cy="180.3" r="0.78"/><circle cx="168.6" cy="182.8" r="0.78"/><circle cx="175.0" cy="169.4" r="0.78"/><circle cx="175.4" cy="182.0" r="0.78"/><circle cx="173.7" cy="176.0" r="0.78"/><circle cx="171.2" cy="182.9" r="0.78"/><circle cx="177.3" cy="171.1" r="0.78"/><circle cx="169.9" cy="173.9" r="0.78"/><circle cx="161.9" cy="177.8" r="0.78"/><circle cx="171.6" cy="180.1" r="0.78"/><circle cx="171.5" cy="169.1" r="0.78"/><circle cx="173.8" cy="181.9" r="0.78"/><circle cx="180.3" cy="173.7" r="0.78"/><circle cx="166.4" cy="180.5" r="0.78"/><circle cx="180.6" cy="171.3" r="0.78"/><circle cx="171.6" cy="174.2" r="0.78"/><circle cx="178.4" cy="183.8" r="0.78"/><circle cx="165.9" cy="172.8" r="0.78"/><circle cx="169.1" cy="180.3" r="0.78"/><circle cx="165.6" cy="177.1" r="0.78"/><circle cx="173.3" cy="179.2" r="0.78"/><circle cx="180.5" cy="170.7" r="0.78"/><circle cx="183.3" cy="177.1" r="0.78"/><circle cx="179.6" cy="182.7" r="0.78"/><circle cx="169.9" cy="183.7" r="0.78"/><circle cx="173.3" cy="183.2" r="0.78"/><circle cx="173.5" cy="183.8" r="0.78"/><circle cx="174.7" cy="170.0" r="0.78"/><circle cx="176.5" cy="181.6" r="0.78"/><circle cx="171.4" cy="178.0" r="0.78"/><circle cx="167.3" cy="172.3" r="0.78"/><circle cx="171.3" cy="176.5" r="0.78"/><circle cx="172.5" cy="169.1" r="0.78"/><circle cx="178.6" cy="180.6" r="0.78"/><circle cx="166.8" cy="172.0" r="0.78"/><circle cx="173.7" cy="170.6" r="0.78"/><circle cx="175.8" cy="183.3" r="0.78"/><circle cx="165.9" cy="177.7" r="0.78"/><circle cx="178.7" cy="180.6" r="0.78"/><circle cx="178.4" cy="179.9" r="0.78"/><circle cx="167.7" cy="182.2" r="0.78"/><circle cx="184.1" cy="175.2" r="0.78"/><circle cx="180.5" cy="179.4" r="0.78"/><circle cx="164.5" cy="175.5" r="0.78"/><circle cx="169.2" cy="180.9" r="0.78"/><circle cx="167.0" cy="171.0" r="0.78"/><circle cx="165.0" cy="174.7" r="0.78"/><circle cx="176.1" cy="172.8" r="0.78"/><circle cx="165.0" cy="171.3" r="0.78"/><circle cx="163.1" cy="170.9" r="0.78"/><circle cx="168.7" cy="176.3" r="0.78"/><circle cx="165.5" cy="175.9" r="0.78"/><circle cx="172.9" cy="184.0" r="0.78"/><circle cx="172.5" cy="171.0" r="0.78"/><circle cx="175.5" cy="170.0" r="0.78"/><circle cx="178.2" cy="184.4" r="0.78"/><circle cx="170.9" cy="173.7" r="0.78"/><circle cx="171.4" cy="173.7" r="0.78"/><circle cx="177.9" cy="174.4" r="0.78"/><circle cx="181.8" cy="180.2" r="0.78"/><circle cx="169.7" cy="178.5" r="0.78"/><circle cx="183.5" cy="174.5" r="0.78"/><circle cx="171.6" cy="172.7" r="0.78"/><circle cx="174.6" cy="179.1" r="0.78"/><circle cx="179.0" cy="184.1" r="0.78"/><circle cx="164.6" cy="173.9" r="0.78"/><circle cx="181.9" cy="181.3" r="0.78"/><circle cx="175.5" cy="179.4" r="0.78"/><circle cx="169.3" cy="184.0" r="0.78"/><circle cx="174.5" cy="174.5" r="0.78"/><circle cx="165.5" cy="169.5" r="0.78"/><circle cx="161.7" cy="173.2" r="0.78"/><circle cx="172.8" cy="176.2" r="0.78"/><circle cx="169.9" cy="183.2" r="0.78"/><circle cx="169.6" cy="176.8" r="0.78"/><circle cx="183.8" cy="178.7" r="0.78"/><circle cx="172.7" cy="173.3" r="0.78"/><circle cx="170.5" cy="178.2" r="0.78"/><circle cx="180.3" cy="172.1" r="0.78"/><circle cx="170.1" cy="174.3" r="0.78"/><circle cx="169.9" cy="183.5" r="0.78"/><circle cx="174.2" cy="172.3" r="0.78"/><circle cx="169.1" cy="181.9" r="0.78"/><circle cx="164.9" cy="179.6" r="0.78"/><circle cx="164.6" cy="171.5" r="0.78"/><circle cx="162.4" cy="172.1" r="0.78"/><circle cx="179.0" cy="180.1" r="0.78"/><circle cx="174.5" cy="183.6" r="0.78"/></g>
<g fill="#8c5248"><circle cx="171.4" cy="161.4" r="0.78"/><circle cx="171.2" cy="160.9" r="0.78"/><circle cx="172.8" cy="163.5" r="0.78"/><circle cx="169.9" cy="161.3" r="0.78"/><circle cx="170.2" cy="163.4" r="0.78"/><circle cx="171.4" cy="162.4" r="0.78"/><circle cx="170.5" cy="161.6" r="0.78"/><circle cx="172.8" cy="161.3" r="0.78"/><circle cx="170.2" cy="161.2" r="0.78"/><circle cx="171.0" cy="164.0" r="0.78"/><circle cx="169.6" cy="163.0" r="0.78"/><circle cx="172.6" cy="160.7" r="0.78"/><circle cx="171.5" cy="164.3" r="0.78"/><circle cx="172.1" cy="162.7" r="0.78"/><circle cx="173.6" cy="163.4" r="0.78"/><circle cx="171.0" cy="162.4" r="0.78"/><circle cx="173.8" cy="163.2" r="0.78"/><circle cx="170.0" cy="161.3" r="0.78"/><circle cx="171.2" cy="163.8" r="0.78"/><circle cx="173.2" cy="163.0" r="0.78"/><circle cx="171.3" cy="163.7" r="0.78"/><circle cx="172.1" cy="164.0" r="0.78"/></g>
<text x="127" y="46.9" font-size="10.4" fill="#0c0c0c">Granulosa cell</text>
<text x="125" y="84.9" font-size="10.4" fill="#0c0c0c">Growing oocyte</text>
<text x="59" y="106" font-size="10.4" fill="#0c0c0c">MII oocyte</text>
<text x="57" y="135" font-size="10.4" fill="#0c0c0c">MI oocyte</text>
<text x="49" y="158" font-size="10.4" fill="#0c0c0c">Fully-grown oocyte</text>
<text x="162" y="121.5" font-size="10.4" fill="#0c0c0c">Immune cell</text>
<text x="172" y="150" font-size="10.4" fill="#0c0c0c">Stroma_C2</text>
<text x="109" y="186" font-size="10.4" fill="#0c0c0c">Stroma_C1</text>
<path d="M24 147 V193 M11 184 H62" stroke="#111" stroke-width="0.9" fill="none"/>
<path d="M24 142 l-2.2 7 h4.4z M67 184 l-7 -2.2 v4.4z" fill="#111"/>
<text x="17.5" y="180.5" font-size="6.9" fill="#0c0c0c" transform="rotate(-90 17.5 180.5)">UMAP_2</text>
<text x="30" y="193" font-size="6.9" fill="#0c0c0c">UMAP_1</text>
<text x="355.5" y="11.3" font-size="10.65" text-anchor="middle" fill="#0c0c0c"><tspan font-style="italic">RPL39L</tspan> expression</text>
<g fill="#9aa6cc"><circle cx="365.1" cy="47.3" r="0.75"/><circle cx="359.8" cy="41.2" r="0.75"/><circle cx="360.1" cy="41.8" r="0.75"/><circle cx="353.1" cy="43.0" r="0.75"/><circle cx="357.5" cy="42.9" r="0.75"/><circle cx="358.8" cy="45.6" r="0.75"/><circle cx="358.1" cy="39.2" r="0.75"/><circle cx="355.9" cy="44.6" r="0.75"/></g>
<g fill="#5a70b5"><circle cx="356.1" cy="40.7" r="0.75"/><circle cx="359.1" cy="47.1" r="0.75"/><circle cx="358.8" cy="42.1" r="0.75"/><circle cx="358.7" cy="41.1" r="0.75"/><circle cx="355.8" cy="44.0" r="0.75"/><circle cx="351.9" cy="45.5" r="0.75"/></g>
<g fill="#e08aa0"><circle cx="364.3" cy="45.9" r="0.75"/><circle cx="362.5" cy="46.2" r="0.75"/><circle cx="365.7" cy="44.9" r="0.75"/><circle cx="355.2" cy="45.6" r="0.75"/><circle cx="354.3" cy="44.1" r="0.75"/><circle cx="352.5" cy="45.6" r="0.75"/><circle cx="364.9" cy="48.0" r="0.75"/><circle cx="361.8" cy="40.3" r="0.75"/><circle cx="360.1" cy="43.4" r="0.75"/><circle cx="363.7" cy="44.7" r="0.75"/><circle cx="365.7" cy="44.8" r="0.75"/><circle cx="358.2" cy="41.2" r="0.75"/></g>
<g fill="#c9c6e0"><circle cx="357.8" cy="40.8" r="0.75"/><circle cx="364.7" cy="45.6" r="0.75"/><circle cx="359.3" cy="42.3" r="0.75"/><circle cx="350.7" cy="42.8" r="0.75"/><circle cx="352.7" cy="44.8" r="0.75"/><circle cx="352.8" cy="39.4" r="0.75"/><circle cx="354.4" cy="41.7" r="0.75"/><circle cx="359.4" cy="39.6" r="0.75"/><circle cx="352.1" cy="40.8" r="0.75"/><circle cx="363.3" cy="44.7" r="0.75"/><circle cx="353.0" cy="46.3" r="0.75"/><circle cx="361.5" cy="43.5" r="0.75"/></g>
<g fill="#8a97c4"><circle cx="354.5" cy="39.1" r="0.75"/><circle cx="361.5" cy="40.6" r="0.75"/><circle cx="357.4" cy="42.7" r="0.75"/><circle cx="355.4" cy="39.6" r="0.75"/><circle cx="360.0" cy="43.3" r="0.75"/><circle cx="360.0" cy="43.6" r="0.75"/><circle cx="359.4" cy="46.2" r="0.75"/></g>
<g fill="#d8a8bc"><circle cx="363.8" cy="42.4" r="0.75"/><circle cx="360.4" cy="40.8" r="0.75"/><circle cx="361.4" cy="45.3" r="0.75"/><circle cx="353.1" cy="39.4" r="0.75"/><circle cx="352.4" cy="43.8" r="0.75"/><circle cx="358.8" cy="40.1" r="0.75"/><circle cx="360.9" cy="47.3" r="0.75"/></g>
<g fill="#7f8fc0"><circle cx="361.6" cy="44.5" r="0.75"/><circle cx="351.7" cy="42.9" r="0.75"/><circle cx="362.8" cy="45.6" r="0.75"/><circle cx="362.5" cy="40.5" r="0.75"/><circle cx="365.3" cy="45.7" r="0.75"/><circle cx="362.8" cy="44.8" r="0.75"/><circle cx="351.0" cy="42.3" r="0.75"/><circle cx="363.2" cy="47.8" r="0.75"/><circle cx="354.4" cy="39.5" r="0.75"/><circle cx="360.4" cy="39.6" r="0.75"/></g>
<g fill="#d9555f"><circle cx="361.5" cy="40.1" r="0.75"/><circle cx="356.9" cy="43.7" r="0.75"/><circle cx="357.6" cy="39.2" r="0.75"/><circle cx="354.1" cy="46.1" r="0.75"/><circle cx="364.3" cy="44.1" r="0.75"/><circle cx="363.5" cy="42.4" r="0.75"/><circle cx="357.4" cy="46.2" r="0.75"/><circle cx="365.0" cy="44.9" r="0.75"/></g>
<g fill="#e0262c"><circle cx="358.4" cy="88.0" r="0.9"/><circle cx="352.4" cy="82.5" r="0.9"/><circle cx="353.1" cy="79.4" r="0.9"/><circle cx="353.7" cy="83.3" r="0.9"/><circle cx="353.3" cy="83.5" r="0.9"/><circle cx="361.6" cy="86.6" r="0.9"/><circle cx="350.8" cy="82.5" r="0.9"/><circle cx="358.7" cy="80.6" r="0.9"/><circle cx="355.6" cy="80.0" r="0.9"/><circle cx="360.9" cy="81.3" r="0.9"/><circle cx="349.7" cy="82.7" r="0.9"/><circle cx="352.5" cy="80.2" r="0.9"/><circle cx="360.3" cy="82.1" r="0.9"/><circle cx="359.1" cy="83.2" r="0.9"/><circle cx="350.1" cy="85.4" r="0.9"/><circle cx="350.2" cy="83.0" r="0.9"/><circle cx="362.0" cy="88.6" r="0.9"/><circle cx="353.8" cy="78.7" r="0.9"/><circle cx="363.9" cy="82.5" r="0.9"/><circle cx="351.4" cy="84.7" r="0.9"/><circle cx="356.8" cy="79.8" r="0.9"/><circle cx="365.3" cy="86.5" r="0.9"/><circle cx="353.7" cy="77.9" r="0.9"/><circle cx="353.0" cy="78.4" r="0.9"/><circle cx="354.5" cy="85.4" r="0.9"/><circle cx="364.2" cy="88.0" r="0.9"/><circle cx="359.1" cy="91.0" r="0.9"/><circle cx="363.1" cy="89.4" r="0.9"/><circle cx="358.6" cy="81.0" r="0.9"/><circle cx="352.7" cy="87.6" r="0.9"/><circle cx="351.3" cy="81.7" r="0.9"/><circle cx="360.2" cy="86.6" r="0.9"/><circle cx="356.7" cy="85.6" r="0.9"/><circle cx="349.8" cy="80.7" r="0.9"/><circle cx="351.1" cy="86.1" r="0.9"/><circle cx="357.0" cy="82.0" r="0.9"/><circle cx="357.6" cy="87.3" r="0.9"/><circle cx="364.7" cy="84.7" r="0.9"/><circle cx="358.8" cy="80.7" r="0.9"/><circle cx="353.6" cy="81.1" r="0.9"/><circle cx="361.3" cy="87.7" r="0.9"/><circle cx="364.5" cy="87.3" r="0.9"/><circle cx="355.5" cy="86.5" r="0.9"/><circle cx="356.8" cy="87.8" r="0.9"/><circle cx="353.6" cy="81.9" r="0.9"/><circle cx="355.2" cy="82.6" r="0.9"/><circle cx="356.9" cy="85.7" r="0.9"/><circle cx="354.5" cy="88.7" r="0.9"/><circle cx="355.1" cy="83.6" r="0.9"/><circle cx="362.0" cy="87.8" r="0.9"/><circle cx="352.3" cy="77.6" r="0.9"/><circle cx="355.1" cy="82.7" r="0.9"/><circle cx="351.8" cy="78.5" r="0.9"/><circle cx="360.5" cy="87.4" r="0.9"/><circle cx="350.0" cy="82.8" r="0.9"/><circle cx="353.9" cy="84.2" r="0.9"/><circle cx="352.3" cy="88.5" r="0.9"/><circle cx="354.8" cy="78.0" r="0.9"/><circle cx="352.7" cy="85.3" r="0.9"/><circle cx="359.3" cy="79.7" r="0.9"/><circle cx="350.8" cy="87.3" r="0.9"/><circle cx="357.5" cy="88.4" r="0.9"/><circle cx="359.3" cy="84.3" r="0.9"/><circle cx="357.3" cy="79.8" r="0.9"/><circle cx="353.1" cy="81.3" r="0.9"/><circle cx="356.2" cy="86.5" r="0.9"/><circle cx="356.6" cy="81.3" r="0.9"/><circle cx="353.3" cy="86.1" r="0.9"/><circle cx="358.4" cy="84.8" r="0.9"/><circle cx="354.5" cy="83.5" r="0.9"/><circle cx="361.9" cy="83.5" r="0.9"/><circle cx="357.3" cy="85.6" r="0.9"/><circle cx="352.2" cy="85.6" r="0.9"/><circle cx="364.8" cy="81.0" r="0.9"/><circle cx="364.7" cy="87.1" r="0.9"/><circle cx="356.4" cy="83.3" r="0.9"/><circle cx="365.5" cy="81.6" r="0.9"/><circle cx="355.6" cy="87.4" r="0.9"/><circle cx="350.8" cy="84.4" r="0.9"/><circle cx="351.1" cy="80.6" r="0.9"/><circle cx="358.7" cy="79.5" r="0.9"/><circle cx="356.0" cy="89.6" r="0.9"/><circle cx="359.8" cy="84.9" r="0.9"/><circle cx="353.9" cy="88.2" r="0.9"/><circle cx="360.1" cy="87.5" r="0.9"/><circle cx="364.2" cy="81.9" r="0.9"/><circle cx="351.5" cy="86.8" r="0.9"/><circle cx="351.1" cy="78.6" r="0.9"/><circle cx="358.6" cy="81.8" r="0.9"/><circle cx="353.7" cy="78.8" r="0.9"/><circle cx="350.0" cy="82.0" r="0.9"/><circle cx="365.0" cy="81.1" r="0.9"/><circle cx="358.8" cy="88.8" r="0.9"/><circle cx="352.1" cy="79.0" r="0.9"/><circle cx="363.6" cy="84.0" r="0.9"/><circle cx="361.6" cy="88.3" r="0.9"/><circle cx="360.9" cy="89.9" r="0.9"/><circle cx="354.2" cy="84.5" r="0.9"/><circle cx="361.9" cy="87.7" r="0.9"/><circle cx="351.0" cy="80.4" r="0.9"/><circle cx="354.4" cy="79.2" r="0.9"/><circle cx="361.1" cy="87.9" r="0.9"/><circle cx="354.8" cy="78.0" r="0.9"/><circle cx="364.3" cy="83.9" r="0.9"/><circle cx="358.9" cy="78.6" r="0.9"/><circle cx="350.5" cy="86.0" r="0.9"/><circle cx="359.7" cy="87.0" r="0.9"/><circle cx="353.1" cy="77.4" r="0.9"/><circle cx="363.9" cy="83.3" r="0.9"/><circle cx="353.3" cy="78.9" r="0.9"/><circle cx="354.7" cy="86.1" r="0.9"/><circle cx="359.9" cy="78.1" r="0.9"/><circle cx="355.7" cy="90.6" r="0.9"/><circle cx="361.1" cy="80.8" r="0.9"/><circle cx="359.9" cy="91.5" r="0.9"/><circle cx="350.1" cy="80.6" r="0.9"/><circle cx="360.9" cy="83.7" r="0.9"/><circle cx="359.8" cy="90.1" r="0.9"/><circle cx="355.9" cy="84.7" r="0.9"/><circle cx="355.8" cy="88.9" r="0.9"/><circle cx="353.0" cy="80.3" r="0.9"/><circle cx="366.2" cy="84.2" r="0.9"/><circle cx="351.4" cy="80.9" r="0.9"/><circle cx="356.9" cy="88.7" r="0.9"/><circle cx="357.3" cy="81.6" r="0.9"/><circle cx="357.7" cy="86.0" r="0.9"/><circle cx="362.8" cy="88.8" r="0.9"/><circle cx="361.7" cy="82.4" r="0.9"/><circle cx="351.9" cy="83.9" r="0.9"/><circle cx="351.8" cy="88.2" r="0.9"/><circle cx="353.5" cy="85.1" r="0.9"/><circle cx="354.1" cy="85.5" r="0.9"/><circle cx="364.2" cy="81.1" r="0.9"/><circle cx="354.4" cy="88.7" r="0.9"/><circle cx="351.5" cy="84.8" r="0.9"/><circle cx="359.1" cy="90.4" r="0.9"/><circle cx="366.5" cy="83.0" r="0.9"/><circle cx="357.4" cy="89.4" r="0.9"/><circle cx="361.8" cy="83.0" r="0.9"/><circle cx="354.7" cy="86.3" r="0.9"/><circle cx="356.8" cy="80.4" r="0.9"/><circle cx="350.8" cy="87.6" r="0.9"/><circle cx="359.6" cy="79.1" r="0.9"/><circle cx="360.6" cy="83.8" r="0.9"/><circle cx="364.7" cy="83.1" r="0.9"/><circle cx="365.0" cy="86.3" r="0.9"/><circle cx="350.8" cy="83.0" r="0.9"/><circle cx="360.3" cy="85.5" r="0.9"/><circle cx="351.8" cy="80.9" r="0.9"/><circle cx="353.5" cy="89.0" r="0.9"/></g>
<ellipse cx="358.8" cy="82.7" rx="11.6" ry="8.5" transform="rotate(30 358.8 82.7)" fill="none" stroke="#222" stroke-width="0.8" stroke-dasharray="1.6 1.4"/>
<g fill="#2c4fa4"><circle cx="293.4" cy="99.9" r="0.7"/><circle cx="282.6" cy="107.3" r="0.7"/><circle cx="283.6" cy="139.5" r="0.7"/><circle cx="283.7" cy="106.1" r="0.7"/><circle cx="283.0" cy="109.2" r="0.7"/><circle cx="294.8" cy="118.0" r="0.7"/><circle cx="281.1" cy="135.2" r="0.7"/><circle cx="287.1" cy="121.9" r="0.7"/><circle cx="279.4" cy="108.3" r="0.7"/><circle cx="288.6" cy="108.3" r="0.7"/><circle cx="286.5" cy="128.5" r="0.7"/><circle cx="291.2" cy="126.7" r="0.7"/><circle cx="288.6" cy="135.6" r="0.7"/><circle cx="283.9" cy="139.2" r="0.7"/><circle cx="282.9" cy="145.6" r="0.7"/><circle cx="288.2" cy="102.9" r="0.7"/><circle cx="283.7" cy="121.8" r="0.7"/><circle cx="281.8" cy="106.7" r="0.7"/><circle cx="286.8" cy="129.3" r="0.7"/><circle cx="284.3" cy="116.4" r="0.7"/><circle cx="292.0" cy="123.4" r="0.7"/><circle cx="279.8" cy="111.9" r="0.7"/><circle cx="284.4" cy="136.7" r="0.7"/><circle cx="290.1" cy="129.4" r="0.7"/><circle cx="281.1" cy="120.6" r="0.7"/><circle cx="287.8" cy="119.5" r="0.7"/><circle cx="285.8" cy="107.0" r="0.7"/><circle cx="287.6" cy="133.3" r="0.7"/><circle cx="285.8" cy="123.4" r="0.7"/><circle cx="289.6" cy="130.2" r="0.7"/><circle cx="283.7" cy="144.1" r="0.7"/><circle cx="281.8" cy="116.8" r="0.7"/><circle cx="290.0" cy="115.3" r="0.7"/><circle cx="281.7" cy="110.8" r="0.7"/><circle cx="294.1" cy="103.1" r="0.7"/><circle cx="285.6" cy="137.7" r="0.7"/><circle cx="288.1" cy="129.5" r="0.7"/><circle cx="293.7" cy="125.1" r="0.7"/><circle cx="289.9" cy="100.4" r="0.7"/><circle cx="284.2" cy="146.4" r="0.7"/><circle cx="286.9" cy="126.8" r="0.7"/><circle cx="284.6" cy="146.2" r="0.7"/><circle cx="288.8" cy="130.4" r="0.7"/><circle cx="289.3" cy="107.8" r="0.7"/><circle cx="291.2" cy="111.6" r="0.7"/><circle cx="287.2" cy="113.5" r="0.7"/><circle cx="288.2" cy="101.6" r="0.7"/><circle cx="288.3" cy="114.2" r="0.7"/><circle cx="285.6" cy="113.0" r="0.7"/><circle cx="284.5" cy="109.5" r="0.7"/><circle cx="289.7" cy="127.4" r="0.7"/><circle cx="283.3" cy="119.0" r="0.7"/><circle cx="281.4" cy="124.8" r="0.7"/><circle cx="281.3" cy="138.3" r="0.7"/><circle cx="279.3" cy="110.0" r="0.7"/><circle cx="286.2" cy="105.7" r="0.7"/><circle cx="290.7" cy="112.2" r="0.7"/><circle cx="293.4" cy="106.2" r="0.7"/><circle cx="290.6" cy="123.9" r="0.7"/><circle cx="291.0" cy="125.6" r="0.7"/><circle cx="290.9" cy="117.3" r="0.7"/><circle cx="286.1" cy="116.8" r="0.7"/><circle cx="281.5" cy="123.0" r="0.7"/><circle cx="285.1" cy="125.3" r="0.7"/><circle cx="291.3" cy="100.7" r="0.7"/><circle cx="289.1" cy="105.6" r="0.7"/><circle cx="295.1" cy="120.3" r="0.7"/><circle cx="285.0" cy="127.6" r="0.7"/><circle cx="282.3" cy="124.7" r="0.7"/><circle cx="287.6" cy="141.1" r="0.7"/><circle cx="288.4" cy="104.1" r="0.7"/><circle cx="282.7" cy="143.9" r="0.7"/><circle cx="296.1" cy="108.1" r="0.7"/><circle cx="287.4" cy="119.4" r="0.7"/><circle cx="289.6" cy="129.0" r="0.7"/><circle cx="287.7" cy="104.3" r="0.7"/><circle cx="286.2" cy="142.6" r="0.7"/><circle cx="286.8" cy="106.7" r="0.7"/><circle cx="284.2" cy="131.8" r="0.7"/><circle cx="283.6" cy="134.9" r="0.7"/><circle cx="296.0" cy="110.1" r="0.7"/><circle cx="283.9" cy="118.8" r="0.7"/><circle cx="287.4" cy="125.8" r="0.7"/><circle cx="291.7" cy="107.5" r="0.7"/><circle cx="282.4" cy="113.9" r="0.7"/><circle cx="292.1" cy="121.5" r="0.7"/><circle cx="293.6" cy="99.8" r="0.7"/><circle cx="287.0" cy="100.2" r="0.7"/><circle cx="292.4" cy="122.6" r="0.7"/><circle cx="280.6" cy="108.7" r="0.7"/><circle cx="286.4" cy="114.2" r="0.7"/><circle cx="290.3" cy="118.1" r="0.7"/><circle cx="293.2" cy="118.9" r="0.7"/><circle cx="283.0" cy="147.3" r="0.7"/><circle cx="287.8" cy="122.0" r="0.7"/><circle cx="285.7" cy="101.9" r="0.7"/><circle cx="285.8" cy="113.0" r="0.7"/><circle cx="286.4" cy="145.9" r="0.7"/><circle cx="288.0" cy="123.8" r="0.7"/><circle cx="290.9" cy="122.3" r="0.7"/><circle cx="286.8" cy="122.6" r="0.7"/><circle cx="287.5" cy="136.1" r="0.7"/><circle cx="294.3" cy="112.4" r="0.7"/><circle cx="289.9" cy="118.4" r="0.7"/><circle cx="289.7" cy="131.0" r="0.7"/><circle cx="295.2" cy="114.8" r="0.7"/><circle cx="287.4" cy="102.1" r="0.7"/><circle cx="290.3" cy="127.7" r="0.7"/><circle cx="279.9" cy="112.5" r="0.7"/><circle cx="283.2" cy="139.1" r="0.7"/><circle cx="286.2" cy="142.2" r="0.7"/><circle cx="290.4" cy="126.5" r="0.7"/><circle cx="281.6" cy="134.4" r="0.7"/><circle cx="284.5" cy="143.0" r="0.7"/><circle cx="279.8" cy="111.6" r="0.7"/><circle cx="291.0" cy="104.4" r="0.7"/><circle cx="295.4" cy="105.2" r="0.7"/><circle cx="283.7" cy="134.3" r="0.7"/><circle cx="292.9" cy="128.3" r="0.7"/><circle cx="293.7" cy="102.0" r="0.7"/><circle cx="286.9" cy="142.2" r="0.7"/><circle cx="296.1" cy="104.7" r="0.7"/><circle cx="287.1" cy="140.0" r="0.7"/><circle cx="285.7" cy="123.8" r="0.7"/><circle cx="293.3" cy="99.5" r="0.7"/><circle cx="281.2" cy="139.7" r="0.7"/><circle cx="285.8" cy="144.4" r="0.7"/><circle cx="287.8" cy="139.7" r="0.7"/><circle cx="281.2" cy="142.2" r="0.7"/><circle cx="281.8" cy="112.5" r="0.7"/><circle cx="295.2" cy="99.6" r="0.7"/><circle cx="295.4" cy="110.0" r="0.7"/><circle cx="286.9" cy="123.5" r="0.7"/><circle cx="296.6" cy="103.4" r="0.7"/><circle cx="282.3" cy="133.0" r="0.7"/><circle cx="286.1" cy="104.2" r="0.7"/><circle cx="291.2" cy="119.7" r="0.7"/><circle cx="282.3" cy="128.3" r="0.7"/><circle cx="294.7" cy="107.1" r="0.7"/><circle cx="284.8" cy="134.7" r="0.7"/><circle cx="293.5" cy="124.5" r="0.7"/><circle cx="287.0" cy="101.6" r="0.7"/><circle cx="286.2" cy="106.0" r="0.7"/><circle cx="282.7" cy="144.6" r="0.7"/><circle cx="286.2" cy="103.2" r="0.7"/><circle cx="281.1" cy="117.1" r="0.7"/><circle cx="282.6" cy="126.9" r="0.7"/><circle cx="286.8" cy="114.6" r="0.7"/><circle cx="280.2" cy="118.2" r="0.7"/><circle cx="286.9" cy="119.6" r="0.7"/><circle cx="282.4" cy="141.6" r="0.7"/><circle cx="293.3" cy="112.3" r="0.7"/><circle cx="290.2" cy="101.4" r="0.7"/><circle cx="287.0" cy="118.7" r="0.7"/><circle cx="287.9" cy="117.0" r="0.7"/><circle cx="283.2" cy="132.7" r="0.7"/><circle cx="290.5" cy="123.0" r="0.7"/><circle cx="292.0" cy="101.1" r="0.7"/><circle cx="286.1" cy="104.8" r="0.7"/><circle cx="286.4" cy="103.4" r="0.7"/><circle cx="284.8" cy="139.3" r="0.7"/><circle cx="284.2" cy="141.4" r="0.7"/><circle cx="290.0" cy="128.6" r="0.7"/><circle cx="282.1" cy="109.8" r="0.7"/><circle cx="283.9" cy="124.3" r="0.7"/><circle cx="294.7" cy="118.7" r="0.7"/><circle cx="291.3" cy="101.5" r="0.7"/><circle cx="284.6" cy="107.2" r="0.7"/><circle cx="285.7" cy="130.7" r="0.7"/><circle cx="291.3" cy="120.1" r="0.7"/><circle cx="286.8" cy="116.7" r="0.7"/><circle cx="283.1" cy="112.6" r="0.7"/><circle cx="281.1" cy="135.2" r="0.7"/><circle cx="290.9" cy="126.0" r="0.7"/><circle cx="290.4" cy="109.1" r="0.7"/><circle cx="292.2" cy="98.7" r="0.7"/><circle cx="288.0" cy="123.0" r="0.7"/><circle cx="280.0" cy="112.1" r="0.7"/><circle cx="280.4" cy="107.8" r="0.7"/><circle cx="288.0" cy="112.1" r="0.7"/><circle cx="295.2" cy="117.8" r="0.7"/><circle cx="282.1" cy="107.4" r="0.7"/><circle cx="280.7" cy="104.6" r="0.7"/><circle cx="288.5" cy="135.1" r="0.7"/><circle cx="285.5" cy="104.1" r="0.7"/><circle cx="284.8" cy="118.7" r="0.7"/><circle cx="284.8" cy="140.9" r="0.7"/><circle cx="286.3" cy="134.0" r="0.7"/><circle cx="285.7" cy="147.2" r="0.7"/><circle cx="283.8" cy="120.7" r="0.7"/><circle cx="281.9" cy="135.8" r="0.7"/><circle cx="292.7" cy="103.7" r="0.7"/><circle cx="292.7" cy="100.1" r="0.7"/><circle cx="284.5" cy="115.4" r="0.7"/><circle cx="283.9" cy="108.9" r="0.7"/><circle cx="293.6" cy="125.2" r="0.7"/><circle cx="285.9" cy="128.5" r="0.7"/><circle cx="291.4" cy="118.9" r="0.7"/><circle cx="290.4" cy="115.8" r="0.7"/><circle cx="290.4" cy="125.5" r="0.7"/><circle cx="287.6" cy="115.0" r="0.7"/><circle cx="289.6" cy="132.3" r="0.7"/><circle cx="290.3" cy="130.0" r="0.7"/><circle cx="288.0" cy="119.1" r="0.7"/><circle cx="290.7" cy="127.4" r="0.7"/><circle cx="282.8" cy="147.1" r="0.7"/><circle cx="287.5" cy="142.3" r="0.7"/><circle cx="291.4" cy="103.8" r="0.7"/><circle cx="282.3" cy="143.3" r="0.7"/><circle cx="279.4" cy="112.0" r="0.7"/><circle cx="295.5" cy="106.7" r="0.7"/><circle cx="281.6" cy="118.0" r="0.7"/><circle cx="284.5" cy="135.7" r="0.7"/><circle cx="287.2" cy="142.5" r="0.7"/><circle cx="295.6" cy="114.4" r="0.7"/><circle cx="292.1" cy="108.2" r="0.7"/><circle cx="283.1" cy="136.7" r="0.7"/><circle cx="293.4" cy="110.3" r="0.7"/><circle cx="285.2" cy="134.2" r="0.7"/><circle cx="290.6" cy="111.2" r="0.7"/><circle cx="281.5" cy="115.5" r="0.7"/><circle cx="290.5" cy="114.3" r="0.7"/><circle cx="288.1" cy="118.7" r="0.7"/><circle cx="288.0" cy="115.5" r="0.7"/><circle cx="288.3" cy="138.8" r="0.7"/><circle cx="279.8" cy="118.3" r="0.7"/><circle cx="282.3" cy="122.3" r="0.7"/><circle cx="295.4" cy="109.3" r="0.7"/><circle cx="283.6" cy="132.1" r="0.7"/><circle cx="283.2" cy="109.5" r="0.7"/><circle cx="283.4" cy="106.9" r="0.7"/><circle cx="288.4" cy="103.5" r="0.7"/><circle cx="291.3" cy="122.1" r="0.7"/><circle cx="294.5" cy="115.9" r="0.7"/><circle cx="283.2" cy="123.3" r="0.7"/><circle cx="285.2" cy="101.2" r="0.7"/><circle cx="285.8" cy="112.3" r="0.7"/><circle cx="280.4" cy="121.3" r="0.7"/><circle cx="287.8" cy="121.8" r="0.7"/><circle cx="282.6" cy="122.5" r="0.7"/><circle cx="283.0" cy="135.9" r="0.7"/><circle cx="285.1" cy="104.5" r="0.7"/><circle cx="282.4" cy="125.4" r="0.7"/><circle cx="290.6" cy="115.3" r="0.7"/><circle cx="287.3" cy="110.6" r="0.7"/><circle cx="294.0" cy="106.4" r="0.7"/><circle cx="282.2" cy="107.3" r="0.7"/><circle cx="285.2" cy="126.6" r="0.7"/><circle cx="282.4" cy="134.0" r="0.7"/><circle cx="288.5" cy="121.8" r="0.7"/><circle cx="283.6" cy="143.7" r="0.7"/><circle cx="286.4" cy="125.8" r="0.7"/><circle cx="288.5" cy="110.7" r="0.7"/><circle cx="294.5" cy="109.2" r="0.7"/><circle cx="291.1" cy="110.6" r="0.7"/><circle cx="287.8" cy="115.3" r="0.7"/><circle cx="295.2" cy="119.1" r="0.7"/><circle cx="291.6" cy="122.7" r="0.7"/><circle cx="281.4" cy="136.3" r="0.7"/><circle cx="282.1" cy="136.6" r="0.7"/><circle cx="286.3" cy="141.7" r="0.7"/><circle cx="281.1" cy="144.3" r="0.7"/><circle cx="285.6" cy="101.8" r="0.7"/><circle cx="282.3" cy="123.3" r="0.7"/><circle cx="283.2" cy="108.5" r="0.7"/><circle cx="280.7" cy="121.3" r="0.7"/><circle cx="294.8" cy="107.6" r="0.7"/><circle cx="286.3" cy="135.2" r="0.7"/><circle cx="290.4" cy="104.1" r="0.7"/><circle cx="291.3" cy="120.5" r="0.7"/><circle cx="289.0" cy="107.5" r="0.7"/><circle cx="285.0" cy="143.1" r="0.7"/><circle cx="281.1" cy="135.1" r="0.7"/><circle cx="285.0" cy="123.4" r="0.7"/><circle cx="281.7" cy="131.8" r="0.7"/><circle cx="279.9" cy="110.6" r="0.7"/><circle cx="284.9" cy="129.0" r="0.7"/><circle cx="280.2" cy="109.1" r="0.7"/><circle cx="288.3" cy="123.3" r="0.7"/><circle cx="281.7" cy="110.2" r="0.7"/><circle cx="284.4" cy="128.0" r="0.7"/><circle cx="282.1" cy="102.9" r="0.7"/><circle cx="295.4" cy="108.8" r="0.7"/><circle cx="291.0" cy="119.8" r="0.7"/><circle cx="281.1" cy="106.3" r="0.7"/><circle cx="285.6" cy="114.7" r="0.7"/><circle cx="282.9" cy="133.9" r="0.7"/><circle cx="292.8" cy="103.5" r="0.7"/><circle cx="286.4" cy="122.6" r="0.7"/><circle cx="289.6" cy="119.3" r="0.7"/><circle cx="292.1" cy="100.1" r="0.7"/><circle cx="294.7" cy="97.8" r="0.7"/><circle cx="283.5" cy="144.7" r="0.7"/><circle cx="282.2" cy="122.4" r="0.7"/><circle cx="294.2" cy="119.7" r="0.7"/><circle cx="284.8" cy="107.3" r="0.7"/><circle cx="291.3" cy="119.7" r="0.7"/><circle cx="291.6" cy="107.7" r="0.7"/><circle cx="289.9" cy="126.9" r="0.7"/><circle cx="287.0" cy="141.7" r="0.7"/><circle cx="292.1" cy="105.7" r="0.7"/><circle cx="293.7" cy="112.4" r="0.7"/><circle cx="281.8" cy="115.5" r="0.7"/><circle cx="290.6" cy="105.8" r="0.7"/><circle cx="295.5" cy="113.9" r="0.7"/><circle cx="282.7" cy="147.0" r="0.7"/><circle cx="293.9" cy="103.4" r="0.7"/><circle cx="293.7" cy="123.1" r="0.7"/><circle cx="289.8" cy="103.8" r="0.7"/><circle cx="292.9" cy="110.4" r="0.7"/><circle cx="289.2" cy="130.5" r="0.7"/><circle cx="287.8" cy="124.7" r="0.7"/><circle cx="293.5" cy="120.1" r="0.7"/><circle cx="294.3" cy="112.4" r="0.7"/><circle cx="286.2" cy="136.7" r="0.7"/><circle cx="289.9" cy="133.2" r="0.7"/><circle cx="284.8" cy="110.8" r="0.7"/><circle cx="293.0" cy="101.1" r="0.7"/><circle cx="285.9" cy="126.2" r="0.7"/><circle cx="290.8" cy="114.2" r="0.7"/><circle cx="283.8" cy="128.8" r="0.7"/><circle cx="288.3" cy="111.9" r="0.7"/><circle cx="285.6" cy="123.1" r="0.7"/><circle cx="281.4" cy="145.5" r="0.7"/><circle cx="282.0" cy="115.9" r="0.7"/><circle cx="294.1" cy="98.1" r="0.7"/><circle cx="280.1" cy="106.2" r="0.7"/><circle cx="284.5" cy="138.8" r="0.7"/><circle cx="288.1" cy="104.9" r="0.7"/><circle cx="288.8" cy="111.9" r="0.7"/><circle cx="282.2" cy="119.8" r="0.7"/><circle cx="287.0" cy="106.0" r="0.7"/><circle cx="284.5" cy="103.7" r="0.7"/><circle cx="284.8" cy="109.1" r="0.7"/><circle cx="288.5" cy="127.8" r="0.7"/><circle cx="287.2" cy="135.0" r="0.7"/><circle cx="289.0" cy="128.9" r="0.7"/><circle cx="290.0" cy="104.6" r="0.7"/><circle cx="284.9" cy="141.0" r="0.7"/><circle cx="282.2" cy="144.8" r="0.7"/><circle cx="286.6" cy="145.3" r="0.7"/><circle cx="292.5" cy="110.8" r="0.7"/><circle cx="287.2" cy="130.2" r="0.7"/><circle cx="279.8" cy="112.4" r="0.7"/><circle cx="291.8" cy="102.0" r="0.7"/><circle cx="291.8" cy="124.0" r="0.7"/><circle cx="291.3" cy="115.0" r="0.7"/><circle cx="289.0" cy="127.0" r="0.7"/><circle cx="287.1" cy="103.9" r="0.7"/><circle cx="290.3" cy="132.3" r="0.7"/><circle cx="290.8" cy="118.8" r="0.7"/><circle cx="284.1" cy="143.7" r="0.7"/><circle cx="282.3" cy="143.6" r="0.7"/><circle cx="288.7" cy="103.6" r="0.7"/><circle cx="283.5" cy="131.6" r="0.7"/><circle cx="285.8" cy="141.9" r="0.7"/><circle cx="281.7" cy="140.4" r="0.7"/><circle cx="281.3" cy="128.7" r="0.7"/><circle cx="281.3" cy="127.5" r="0.7"/><circle cx="290.9" cy="113.8" r="0.7"/><circle cx="288.9" cy="125.0" r="0.7"/><circle cx="293.9" cy="117.2" r="0.7"/><circle cx="287.4" cy="101.3" r="0.7"/><circle cx="286.2" cy="108.7" r="0.7"/><circle cx="290.8" cy="130.0" r="0.7"/><circle cx="289.4" cy="124.0" r="0.7"/><circle cx="282.9" cy="118.9" r="0.7"/><circle cx="286.4" cy="122.9" r="0.7"/><circle cx="291.8" cy="124.6" r="0.7"/><circle cx="282.8" cy="109.0" r="0.7"/><circle cx="283.3" cy="114.3" r="0.7"/><circle cx="286.2" cy="111.5" r="0.7"/><circle cx="286.0" cy="134.0" r="0.7"/><circle cx="292.7" cy="126.2" r="0.7"/><circle cx="290.4" cy="105.5" r="0.7"/><circle cx="286.2" cy="101.8" r="0.7"/><circle cx="283.2" cy="115.7" r="0.7"/><circle cx="284.9" cy="126.6" r="0.7"/><circle cx="295.5" cy="116.6" r="0.7"/><circle cx="294.9" cy="113.7" r="0.7"/><circle cx="281.6" cy="137.3" r="0.7"/><circle cx="283.0" cy="122.5" r="0.7"/><circle cx="285.0" cy="124.2" r="0.7"/><circle cx="280.4" cy="124.1" r="0.7"/><circle cx="291.8" cy="116.4" r="0.7"/><circle cx="279.4" cy="111.9" r="0.7"/><circle cx="288.5" cy="120.3" r="0.7"/><circle cx="288.6" cy="109.8" r="0.7"/><circle cx="294.3" cy="119.8" r="0.7"/><circle cx="283.2" cy="105.9" r="0.7"/><circle cx="295.8" cy="114.2" r="0.7"/><circle cx="293.8" cy="121.1" r="0.7"/><circle cx="293.0" cy="109.6" r="0.7"/><circle cx="294.4" cy="99.7" r="0.7"/><circle cx="294.2" cy="112.0" r="0.7"/><circle cx="282.5" cy="131.7" r="0.7"/><circle cx="293.8" cy="124.7" r="0.7"/><circle cx="281.3" cy="119.5" r="0.7"/><circle cx="289.7" cy="131.6" r="0.7"/><circle cx="294.2" cy="113.2" r="0.7"/><circle cx="283.3" cy="102.2" r="0.7"/><circle cx="290.5" cy="108.6" r="0.7"/><circle cx="289.5" cy="102.6" r="0.7"/><circle cx="285.8" cy="119.7" r="0.7"/><circle cx="280.7" cy="125.5" r="0.7"/><circle cx="287.9" cy="100.6" r="0.7"/><circle cx="294.4" cy="101.1" r="0.7"/><circle cx="281.5" cy="141.1" r="0.7"/><circle cx="284.2" cy="101.7" r="0.7"/><circle cx="288.1" cy="122.1" r="0.7"/><circle cx="288.7" cy="137.1" r="0.7"/><circle cx="281.6" cy="108.5" r="0.7"/><circle cx="294.0" cy="113.8" r="0.7"/><circle cx="282.2" cy="120.5" r="0.7"/><circle cx="287.4" cy="117.4" r="0.7"/><circle cx="289.4" cy="123.5" r="0.7"/><circle cx="282.4" cy="147.2" r="0.7"/><circle cx="295.9" cy="103.3" r="0.7"/><circle cx="292.6" cy="114.4" r="0.7"/><circle cx="284.9" cy="107.5" r="0.7"/><circle cx="290.7" cy="106.7" r="0.7"/><circle cx="295.8" cy="107.1" r="0.7"/><circle cx="294.2" cy="99.8" r="0.7"/><circle cx="292.4" cy="115.0" r="0.7"/><circle cx="290.4" cy="128.7" r="0.7"/><circle cx="287.1" cy="126.9" r="0.7"/><circle cx="294.6" cy="120.8" r="0.7"/><circle cx="284.2" cy="142.4" r="0.7"/><circle cx="280.3" cy="119.4" r="0.7"/><circle cx="293.1" cy="123.6" r="0.7"/><circle cx="283.8" cy="116.7" r="0.7"/><circle cx="286.1" cy="108.1" r="0.7"/><circle cx="291.4" cy="127.9" r="0.7"/><circle cx="291.4" cy="123.4" r="0.7"/><circle cx="289.2" cy="105.3" r="0.7"/><circle cx="288.5" cy="129.3" r="0.7"/><circle cx="282.2" cy="108.7" r="0.7"/><circle cx="285.2" cy="130.9" r="0.7"/><circle cx="288.0" cy="139.0" r="0.7"/><circle cx="282.6" cy="112.4" r="0.7"/><circle cx="287.1" cy="144.7" r="0.7"/><circle cx="285.1" cy="116.7" r="0.7"/><circle cx="283.1" cy="144.5" r="0.7"/><circle cx="285.9" cy="101.5" r="0.7"/><circle cx="280.9" cy="124.5" r="0.7"/><circle cx="287.8" cy="141.0" r="0.7"/><circle cx="281.3" cy="142.1" r="0.7"/><circle cx="288.5" cy="128.6" r="0.7"/><circle cx="286.6" cy="109.0" r="0.7"/><circle cx="285.2" cy="129.7" r="0.7"/><circle cx="285.1" cy="120.2" r="0.7"/><circle cx="294.4" cy="108.0" r="0.7"/><circle cx="288.9" cy="130.1" r="0.7"/><circle cx="292.1" cy="100.6" r="0.7"/><circle cx="288.8" cy="115.5" r="0.7"/><circle cx="293.7" cy="121.6" r="0.7"/><circle cx="283.7" cy="113.5" r="0.7"/><circle cx="281.6" cy="122.7" r="0.7"/><circle cx="284.6" cy="127.2" r="0.7"/><circle cx="290.9" cy="130.1" r="0.7"/><circle cx="280.4" cy="121.0" r="0.7"/><circle cx="287.7" cy="103.8" r="0.7"/><circle cx="282.3" cy="124.5" r="0.7"/><circle cx="282.4" cy="127.6" r="0.7"/><circle cx="293.6" cy="124.0" r="0.7"/><circle cx="290.8" cy="106.8" r="0.7"/><circle cx="284.4" cy="142.2" r="0.7"/><circle cx="281.1" cy="119.5" r="0.7"/><circle cx="281.1" cy="125.7" r="0.7"/><circle cx="282.6" cy="117.5" r="0.7"/><circle cx="281.1" cy="118.1" r="0.7"/><circle cx="286.6" cy="123.9" r="0.7"/><circle cx="281.9" cy="141.0" r="0.7"/><circle cx="281.6" cy="136.7" r="0.7"/><circle cx="282.7" cy="106.3" r="0.7"/><circle cx="286.0" cy="120.8" r="0.7"/><circle cx="291.5" cy="113.1" r="0.7"/><circle cx="292.6" cy="102.2" r="0.7"/><circle cx="285.7" cy="144.7" r="0.7"/><circle cx="286.6" cy="146.1" r="0.7"/><circle cx="289.2" cy="125.5" r="0.7"/><circle cx="281.9" cy="131.7" r="0.7"/><circle cx="284.4" cy="107.3" r="0.7"/><circle cx="282.0" cy="117.2" r="0.7"/><circle cx="295.4" cy="118.9" r="0.7"/><circle cx="286.4" cy="110.5" r="0.7"/><circle cx="284.4" cy="146.4" r="0.7"/><circle cx="286.9" cy="134.6" r="0.7"/><circle cx="291.5" cy="99.0" r="0.7"/><circle cx="288.0" cy="122.4" r="0.7"/><circle cx="290.8" cy="105.2" r="0.7"/><circle cx="294.9" cy="119.3" r="0.7"/><circle cx="284.0" cy="114.1" r="0.7"/><circle cx="290.3" cy="101.2" r="0.7"/><circle cx="285.6" cy="104.5" r="0.7"/><circle cx="293.0" cy="113.2" r="0.7"/><circle cx="286.4" cy="127.8" r="0.7"/><circle cx="293.8" cy="104.4" r="0.7"/><circle cx="283.0" cy="113.7" r="0.7"/><circle cx="281.4" cy="125.7" r="0.7"/><circle cx="289.5" cy="123.4" r="0.7"/><circle cx="294.0" cy="108.9" r="0.7"/><circle cx="288.1" cy="107.1" r="0.7"/><circle cx="288.3" cy="108.7" r="0.7"/><circle cx="287.7" cy="105.9" r="0.7"/><circle cx="292.4" cy="124.8" r="0.7"/><circle cx="288.1" cy="132.1" r="0.7"/><circle cx="292.8" cy="101.9" r="0.7"/><circle cx="287.9" cy="108.3" r="0.7"/><circle cx="295.4" cy="103.3" r="0.7"/><circle cx="289.8" cy="108.3" r="0.7"/><circle cx="292.1" cy="108.8" r="0.7"/><circle cx="294.3" cy="111.4" r="0.7"/><circle cx="280.9" cy="111.7" r="0.7"/><circle cx="294.3" cy="109.6" r="0.7"/><circle cx="290.6" cy="128.3" r="0.7"/><circle cx="282.8" cy="137.1" r="0.7"/><circle cx="285.2" cy="111.4" r="0.7"/><circle cx="295.8" cy="99.4" r="0.7"/><circle cx="283.1" cy="109.8" r="0.7"/><circle cx="281.8" cy="136.7" r="0.7"/><circle cx="294.7" cy="102.6" r="0.7"/><circle cx="283.4" cy="146.7" r="0.7"/><circle cx="282.9" cy="141.3" r="0.7"/><circle cx="282.0" cy="112.9" r="0.7"/><circle cx="284.8" cy="116.2" r="0.7"/><circle cx="282.3" cy="104.6" r="0.7"/><circle cx="292.9" cy="121.5" r="0.7"/><circle cx="292.3" cy="102.2" r="0.7"/><circle cx="293.8" cy="103.2" r="0.7"/><circle cx="288.2" cy="121.1" r="0.7"/><circle cx="280.7" cy="113.6" r="0.7"/><circle cx="280.5" cy="117.3" r="0.7"/><circle cx="285.1" cy="108.9" r="0.7"/><circle cx="289.7" cy="125.3" r="0.7"/><circle cx="279.8" cy="113.8" r="0.7"/><circle cx="285.4" cy="128.9" r="0.7"/><circle cx="296.2" cy="109.3" r="0.7"/><circle cx="287.8" cy="107.8" r="0.7"/><circle cx="280.4" cy="105.8" r="0.7"/><circle cx="289.3" cy="107.5" r="0.7"/><circle cx="295.5" cy="101.6" r="0.7"/><circle cx="285.1" cy="109.0" r="0.7"/><circle cx="286.6" cy="122.8" r="0.7"/><circle cx="292.3" cy="111.6" r="0.7"/><circle cx="292.2" cy="116.2" r="0.7"/><circle cx="286.2" cy="121.2" r="0.7"/><circle cx="280.3" cy="119.9" r="0.7"/><circle cx="287.3" cy="116.3" r="0.7"/><circle cx="289.8" cy="118.5" r="0.7"/><circle cx="283.7" cy="124.1" r="0.7"/><circle cx="295.4" cy="101.5" r="0.7"/><circle cx="283.3" cy="113.7" r="0.7"/><circle cx="281.5" cy="112.2" r="0.7"/><circle cx="291.2" cy="115.8" r="0.7"/><circle cx="284.6" cy="126.8" r="0.7"/><circle cx="294.9" cy="112.2" r="0.7"/><circle cx="290.1" cy="110.3" r="0.7"/><circle cx="284.4" cy="116.2" r="0.7"/><circle cx="287.3" cy="137.0" r="0.7"/><circle cx="281.1" cy="123.2" r="0.7"/><circle cx="294.4" cy="112.3" r="0.7"/><circle cx="290.6" cy="121.8" r="0.7"/><circle cx="287.7" cy="132.7" r="0.7"/><circle cx="286.1" cy="113.3" r="0.7"/><circle cx="296.3" cy="101.2" r="0.7"/><circle cx="285.4" cy="109.6" r="0.7"/><circle cx="285.7" cy="116.3" r="0.7"/><circle cx="280.8" cy="128.6" r="0.7"/><circle cx="279.8" cy="116.4" r="0.7"/><circle cx="281.6" cy="114.5" r="0.7"/><circle cx="291.2" cy="101.4" r="0.7"/><circle cx="293.0" cy="106.7" r="0.7"/><circle cx="291.1" cy="106.1" r="0.7"/><circle cx="289.4" cy="115.2" r="0.7"/><circle cx="286.9" cy="145.0" r="0.7"/></g>
<g fill="#6f8fd0"><circle cx="285.3" cy="112.8" r="0.7"/><circle cx="286.0" cy="130.2" r="0.7"/><circle cx="295.8" cy="104.1" r="0.7"/><circle cx="289.9" cy="105.6" r="0.7"/><circle cx="290.1" cy="130.8" r="0.7"/><circle cx="286.9" cy="135.9" r="0.7"/><circle cx="286.3" cy="122.7" r="0.7"/><circle cx="281.0" cy="118.7" r="0.7"/><circle cx="288.9" cy="129.5" r="0.7"/><circle cx="294.0" cy="111.7" r="0.7"/><circle cx="291.7" cy="115.3" r="0.7"/><circle cx="286.6" cy="142.7" r="0.7"/><circle cx="291.3" cy="106.8" r="0.7"/><circle cx="286.3" cy="109.1" r="0.7"/><circle cx="289.7" cy="120.5" r="0.7"/><circle cx="286.6" cy="130.9" r="0.7"/><circle cx="280.6" cy="119.8" r="0.7"/><circle cx="287.3" cy="114.5" r="0.7"/><circle cx="290.9" cy="114.0" r="0.7"/><circle cx="288.4" cy="119.8" r="0.7"/><circle cx="282.8" cy="131.0" r="0.7"/><circle cx="292.8" cy="109.3" r="0.7"/><circle cx="281.6" cy="138.0" r="0.7"/><circle cx="287.3" cy="135.2" r="0.7"/><circle cx="295.2" cy="106.1" r="0.7"/><circle cx="285.7" cy="104.6" r="0.7"/><circle cx="287.2" cy="115.3" r="0.7"/><circle cx="284.3" cy="102.8" r="0.7"/><circle cx="290.5" cy="125.3" r="0.7"/><circle cx="292.9" cy="127.0" r="0.7"/><circle cx="290.3" cy="122.8" r="0.7"/><circle cx="288.0" cy="126.1" r="0.7"/><circle cx="283.0" cy="107.5" r="0.7"/><circle cx="284.9" cy="136.6" r="0.7"/><circle cx="291.5" cy="111.8" r="0.7"/><circle cx="284.1" cy="122.0" r="0.7"/><circle cx="284.1" cy="115.9" r="0.7"/><circle cx="286.4" cy="129.7" r="0.7"/><circle cx="290.2" cy="110.2" r="0.7"/><circle cx="285.3" cy="121.7" r="0.7"/><circle cx="288.3" cy="104.4" r="0.7"/><circle cx="289.5" cy="113.9" r="0.7"/><circle cx="293.1" cy="107.4" r="0.7"/><circle cx="292.9" cy="97.8" r="0.7"/><circle cx="288.7" cy="112.0" r="0.7"/><circle cx="285.2" cy="138.5" r="0.7"/><circle cx="287.3" cy="107.4" r="0.7"/><circle cx="294.7" cy="117.5" r="0.7"/><circle cx="294.3" cy="124.2" r="0.7"/><circle cx="279.8" cy="106.1" r="0.7"/><circle cx="292.2" cy="119.4" r="0.7"/><circle cx="286.9" cy="113.4" r="0.7"/><circle cx="281.1" cy="122.2" r="0.7"/><circle cx="295.3" cy="119.5" r="0.7"/><circle cx="287.0" cy="126.5" r="0.7"/><circle cx="282.9" cy="142.5" r="0.7"/><circle cx="294.5" cy="124.2" r="0.7"/><circle cx="281.7" cy="147.0" r="0.7"/><circle cx="283.8" cy="143.5" r="0.7"/><circle cx="282.4" cy="146.1" r="0.7"/><circle cx="284.3" cy="122.4" r="0.7"/><circle cx="294.6" cy="106.7" r="0.7"/><circle cx="293.1" cy="125.1" r="0.7"/><circle cx="290.0" cy="108.8" r="0.7"/><circle cx="286.5" cy="126.5" r="0.7"/><circle cx="285.7" cy="137.2" r="0.7"/><circle cx="283.1" cy="133.8" r="0.7"/><circle cx="294.1" cy="108.7" r="0.7"/><circle cx="284.7" cy="125.4" r="0.7"/><circle cx="287.0" cy="124.4" r="0.7"/><circle cx="287.2" cy="140.7" r="0.7"/><circle cx="290.5" cy="122.8" r="0.7"/><circle cx="290.0" cy="127.6" r="0.7"/><circle cx="294.5" cy="120.4" r="0.7"/><circle cx="286.4" cy="110.0" r="0.7"/><circle cx="291.5" cy="129.6" r="0.7"/><circle cx="292.6" cy="114.5" r="0.7"/><circle cx="290.1" cy="126.2" r="0.7"/><circle cx="293.7" cy="101.1" r="0.7"/><circle cx="285.2" cy="117.7" r="0.7"/><circle cx="280.1" cy="110.3" r="0.7"/><circle cx="287.1" cy="144.5" r="0.7"/><circle cx="287.5" cy="104.9" r="0.7"/><circle cx="288.6" cy="131.6" r="0.7"/><circle cx="283.3" cy="137.5" r="0.7"/><circle cx="291.2" cy="117.9" r="0.7"/><circle cx="281.9" cy="115.9" r="0.7"/><circle cx="283.3" cy="119.6" r="0.7"/><circle cx="294.1" cy="97.6" r="0.7"/><circle cx="281.8" cy="139.5" r="0.7"/><circle cx="287.6" cy="139.7" r="0.7"/><circle cx="283.1" cy="112.2" r="0.7"/><circle cx="292.2" cy="124.6" r="0.7"/><circle cx="281.9" cy="105.0" r="0.7"/><circle cx="294.4" cy="103.7" r="0.7"/><circle cx="283.6" cy="117.8" r="0.7"/><circle cx="281.7" cy="130.7" r="0.7"/><circle cx="285.7" cy="134.2" r="0.7"/><circle cx="295.7" cy="99.1" r="0.7"/><circle cx="287.4" cy="134.5" r="0.7"/><circle cx="287.8" cy="100.6" r="0.7"/><circle cx="290.1" cy="120.3" r="0.7"/><circle cx="284.6" cy="118.1" r="0.7"/><circle cx="287.8" cy="116.0" r="0.7"/><circle cx="285.6" cy="140.4" r="0.7"/><circle cx="282.6" cy="122.3" r="0.7"/><circle cx="286.2" cy="133.8" r="0.7"/><circle cx="284.7" cy="120.5" r="0.7"/><circle cx="283.2" cy="113.4" r="0.7"/><circle cx="281.4" cy="136.1" r="0.7"/><circle cx="282.3" cy="106.8" r="0.7"/><circle cx="281.7" cy="141.3" r="0.7"/><circle cx="281.9" cy="116.8" r="0.7"/><circle cx="281.1" cy="144.7" r="0.7"/></g>
<g fill="#c8c8e8"><circle cx="285.5" cy="136.8" r="0.7"/><circle cx="286.7" cy="142.0" r="0.7"/><circle cx="292.1" cy="111.8" r="0.7"/><circle cx="281.2" cy="114.6" r="0.7"/><circle cx="288.7" cy="121.7" r="0.7"/><circle cx="289.7" cy="114.1" r="0.7"/><circle cx="291.9" cy="120.6" r="0.7"/><circle cx="286.0" cy="140.8" r="0.7"/><circle cx="294.0" cy="112.1" r="0.7"/><circle cx="285.9" cy="138.4" r="0.7"/></g>
<g fill="#5575c0"><circle cx="280.4" cy="149.0" r="0.7"/><circle cx="278.4" cy="153.3" r="0.7"/><circle cx="279.6" cy="159.1" r="0.7"/><circle cx="284.3" cy="153.0" r="0.7"/><circle cx="279.5" cy="155.5" r="0.7"/><circle cx="283.2" cy="148.2" r="0.7"/><circle cx="279.2" cy="156.6" r="0.7"/><circle cx="282.6" cy="150.2" r="0.7"/><circle cx="278.2" cy="157.5" r="0.7"/><circle cx="277.4" cy="156.1" r="0.7"/><circle cx="277.9" cy="152.4" r="0.7"/><circle cx="283.3" cy="150.0" r="0.7"/><circle cx="284.8" cy="148.0" r="0.7"/><circle cx="283.6" cy="148.0" r="0.7"/><circle cx="281.3" cy="149.0" r="0.7"/><circle cx="279.3" cy="155.8" r="0.7"/><circle cx="280.5" cy="151.8" r="0.7"/><circle cx="284.2" cy="154.3" r="0.7"/><circle cx="283.5" cy="153.0" r="0.7"/><circle cx="282.8" cy="150.2" r="0.7"/><circle cx="277.1" cy="157.7" r="0.7"/><circle cx="281.9" cy="157.2" r="0.7"/><circle cx="276.7" cy="154.4" r="0.7"/><circle cx="283.9" cy="154.7" r="0.7"/><circle cx="277.0" cy="158.0" r="0.7"/><circle cx="286.2" cy="149.7" r="0.7"/><circle cx="284.0" cy="148.4" r="0.7"/><circle cx="278.7" cy="150.4" r="0.7"/><circle cx="277.8" cy="153.7" r="0.7"/><circle cx="283.1" cy="151.1" r="0.7"/><circle cx="279.5" cy="157.4" r="0.7"/></g>
<g fill="#c8c8e8"><circle cx="281.7" cy="152.6" r="0.7"/><circle cx="277.4" cy="154.7" r="0.7"/><circle cx="284.4" cy="149.3" r="0.7"/><circle cx="279.9" cy="156.4" r="0.7"/><circle cx="279.7" cy="150.9" r="0.7"/><circle cx="283.9" cy="151.0" r="0.7"/><circle cx="284.6" cy="153.8" r="0.7"/><circle cx="280.8" cy="151.8" r="0.7"/><circle cx="285.3" cy="149.2" r="0.7"/><circle cx="282.1" cy="155.2" r="0.7"/><circle cx="283.4" cy="149.4" r="0.7"/><circle cx="280.2" cy="149.5" r="0.7"/><circle cx="277.2" cy="153.5" r="0.7"/><circle cx="284.2" cy="150.1" r="0.7"/><circle cx="284.7" cy="147.9" r="0.7"/><circle cx="278.6" cy="158.3" r="0.7"/><circle cx="278.2" cy="156.2" r="0.7"/><circle cx="281.1" cy="157.2" r="0.7"/><circle cx="281.0" cy="149.8" r="0.7"/><circle cx="281.9" cy="148.4" r="0.7"/><circle cx="281.4" cy="148.2" r="0.7"/><circle cx="286.1" cy="151.2" r="0.7"/></g>
<g fill="#6f8fd0"><circle cx="283.5" cy="154.1" r="0.7"/><circle cx="281.1" cy="155.9" r="0.7"/><circle cx="280.3" cy="150.4" r="0.7"/><circle cx="278.6" cy="153.9" r="0.7"/><circle cx="280.8" cy="151.3" r="0.7"/><circle cx="276.3" cy="157.7" r="0.7"/><circle cx="283.0" cy="153.2" r="0.7"/><circle cx="281.9" cy="152.8" r="0.7"/><circle cx="279.8" cy="152.2" r="0.7"/><circle cx="280.7" cy="156.1" r="0.7"/><circle cx="282.3" cy="156.3" r="0.7"/><circle cx="283.9" cy="150.2" r="0.7"/><circle cx="286.4" cy="148.6" r="0.7"/><circle cx="282.7" cy="148.5" r="0.7"/><circle cx="282.1" cy="151.1" r="0.7"/><circle cx="278.3" cy="158.2" r="0.7"/><circle cx="283.9" cy="154.6" r="0.7"/><circle cx="285.1" cy="149.1" r="0.7"/><circle cx="277.4" cy="157.2" r="0.7"/><circle cx="280.9" cy="148.5" r="0.7"/><circle cx="285.3" cy="152.9" r="0.7"/><circle cx="280.7" cy="148.6" r="0.7"/><circle cx="281.4" cy="154.5" r="0.7"/><circle cx="278.1" cy="156.8" r="0.7"/><circle cx="278.5" cy="152.3" r="0.7"/><circle cx="286.1" cy="151.1" r="0.7"/><circle cx="276.0" cy="157.3" r="0.7"/><circle cx="283.7" cy="154.0" r="0.7"/><circle cx="279.4" cy="156.3" r="0.7"/><circle cx="285.7" cy="149.7" r="0.7"/><circle cx="281.7" cy="156.1" r="0.7"/><circle cx="281.8" cy="154.1" r="0.7"/><circle cx="285.7" cy="150.5" r="0.7"/><circle cx="284.4" cy="154.4" r="0.7"/><circle cx="278.2" cy="152.3" r="0.7"/><circle cx="283.4" cy="150.4" r="0.7"/><circle cx="277.7" cy="154.3" r="0.7"/></g>
<circle cx="271" cy="161.5" r="0.9" fill="#e0262c"/>
<path d="M422 105 L428 109" stroke="#2f55a8" stroke-width="1.5" stroke-linecap="round"/>
<g fill="#2850a8"><circle cx="417.3" cy="158.3" r="0.72"/><circle cx="430.9" cy="164.6" r="0.72"/><circle cx="435.7" cy="163.5" r="0.72"/><circle cx="406.6" cy="167.3" r="0.72"/><circle cx="422.2" cy="155.9" r="0.72"/><circle cx="417.1" cy="164.7" r="0.72"/><circle cx="417.6" cy="175.1" r="0.72"/><circle cx="407.3" cy="166.8" r="0.72"/><circle cx="414.1" cy="170.2" r="0.72"/><circle cx="436.2" cy="159.9" r="0.72"/><circle cx="411.3" cy="160.5" r="0.72"/><circle cx="421.5" cy="171.4" r="0.72"/><circle cx="409.3" cy="168.0" r="0.72"/><circle cx="422.8" cy="167.3" r="0.72"/><circle cx="445.5" cy="156.7" r="0.72"/><circle cx="423.6" cy="174.0" r="0.72"/><circle cx="440.1" cy="153.9" r="0.72"/><circle cx="441.5" cy="151.4" r="0.72"/><circle cx="418.4" cy="155.9" r="0.72"/><circle cx="418.2" cy="163.0" r="0.72"/><circle cx="433.9" cy="162.3" r="0.72"/><circle cx="427.8" cy="156.3" r="0.72"/><circle cx="418.1" cy="158.2" r="0.72"/><circle cx="427.1" cy="155.4" r="0.72"/><circle cx="434.1" cy="154.7" r="0.72"/><circle cx="420.2" cy="169.2" r="0.72"/><circle cx="432.3" cy="153.9" r="0.72"/><circle cx="410.1" cy="160.9" r="0.72"/><circle cx="406.2" cy="167.6" r="0.72"/><circle cx="431.5" cy="166.2" r="0.72"/><circle cx="410.0" cy="162.5" r="0.72"/><circle cx="407.9" cy="169.0" r="0.72"/><circle cx="444.1" cy="155.2" r="0.72"/><circle cx="424.5" cy="161.6" r="0.72"/><circle cx="420.7" cy="163.5" r="0.72"/><circle cx="409.7" cy="169.8" r="0.72"/><circle cx="430.7" cy="157.2" r="0.72"/><circle cx="433.8" cy="157.1" r="0.72"/><circle cx="416.4" cy="167.1" r="0.72"/><circle cx="430.9" cy="158.8" r="0.72"/><circle cx="423.8" cy="157.8" r="0.72"/><circle cx="415.0" cy="165.7" r="0.72"/><circle cx="438.7" cy="156.4" r="0.72"/><circle cx="412.3" cy="172.2" r="0.72"/><circle cx="417.4" cy="157.1" r="0.72"/><circle cx="432.3" cy="159.8" r="0.72"/><circle cx="433.9" cy="163.0" r="0.72"/><circle cx="416.8" cy="158.9" r="0.72"/><circle cx="424.6" cy="165.1" r="0.72"/><circle cx="446.2" cy="151.5" r="0.72"/><circle cx="417.7" cy="156.4" r="0.72"/><circle cx="420.3" cy="165.2" r="0.72"/><circle cx="419.2" cy="158.7" r="0.72"/><circle cx="425.1" cy="171.2" r="0.72"/><circle cx="428.6" cy="162.8" r="0.72"/><circle cx="413.5" cy="161.0" r="0.72"/><circle cx="433.9" cy="166.9" r="0.72"/><circle cx="406.5" cy="167.4" r="0.72"/><circle cx="435.3" cy="156.5" r="0.72"/><circle cx="445.4" cy="157.1" r="0.72"/><circle cx="433.6" cy="156.5" r="0.72"/><circle cx="438.3" cy="159.1" r="0.72"/><circle cx="437.5" cy="153.9" r="0.72"/><circle cx="434.3" cy="164.5" r="0.72"/><circle cx="423.7" cy="170.3" r="0.72"/><circle cx="410.0" cy="171.2" r="0.72"/><circle cx="414.8" cy="167.9" r="0.72"/><circle cx="439.5" cy="158.2" r="0.72"/><circle cx="419.6" cy="170.9" r="0.72"/><circle cx="416.8" cy="169.5" r="0.72"/><circle cx="423.2" cy="156.3" r="0.72"/><circle cx="418.1" cy="170.2" r="0.72"/><circle cx="410.2" cy="163.8" r="0.72"/><circle cx="417.0" cy="163.9" r="0.72"/><circle cx="424.1" cy="164.3" r="0.72"/><circle cx="412.5" cy="166.9" r="0.72"/><circle cx="428.0" cy="168.9" r="0.72"/><circle cx="415.7" cy="162.5" r="0.72"/><circle cx="412.7" cy="158.3" r="0.72"/><circle cx="422.8" cy="165.2" r="0.72"/><circle cx="411.9" cy="163.2" r="0.72"/><circle cx="429.6" cy="161.0" r="0.72"/><circle cx="438.1" cy="160.1" r="0.72"/><circle cx="424.4" cy="154.9" r="0.72"/><circle cx="431.5" cy="157.3" r="0.72"/><circle cx="428.7" cy="168.6" r="0.72"/><circle cx="424.5" cy="159.0" r="0.72"/><circle cx="422.7" cy="173.9" r="0.72"/><circle cx="414.0" cy="170.3" r="0.72"/><circle cx="415.9" cy="173.4" r="0.72"/><circle cx="432.2" cy="153.4" r="0.72"/><circle cx="406.9" cy="169.9" r="0.72"/><circle cx="425.4" cy="163.5" r="0.72"/><circle cx="443.9" cy="152.1" r="0.72"/><circle cx="408.8" cy="162.8" r="0.72"/><circle cx="425.0" cy="168.3" r="0.72"/><circle cx="405.7" cy="168.0" r="0.72"/><circle cx="444.0" cy="153.6" r="0.72"/><circle cx="433.5" cy="159.7" r="0.72"/><circle cx="421.7" cy="162.7" r="0.72"/><circle cx="421.5" cy="164.0" r="0.72"/><circle cx="439.0" cy="152.8" r="0.72"/><circle cx="439.8" cy="161.5" r="0.72"/><circle cx="408.1" cy="170.0" r="0.72"/><circle cx="416.5" cy="157.1" r="0.72"/><circle cx="437.3" cy="162.9" r="0.72"/><circle cx="439.9" cy="157.1" r="0.72"/><circle cx="417.9" cy="155.9" r="0.72"/><circle cx="420.8" cy="167.8" r="0.72"/><circle cx="441.2" cy="149.4" r="0.72"/><circle cx="423.0" cy="157.0" r="0.72"/><circle cx="427.7" cy="162.9" r="0.72"/><circle cx="418.3" cy="157.6" r="0.72"/><circle cx="434.7" cy="166.0" r="0.72"/><circle cx="430.3" cy="165.9" r="0.72"/><circle cx="413.8" cy="165.6" r="0.72"/><circle cx="439.8" cy="161.6" r="0.72"/><circle cx="444.1" cy="156.0" r="0.72"/><circle cx="434.8" cy="165.4" r="0.72"/><circle cx="424.6" cy="169.6" r="0.72"/><circle cx="426.2" cy="169.2" r="0.72"/><circle cx="430.8" cy="159.2" r="0.72"/><circle cx="441.9" cy="161.9" r="0.72"/><circle cx="415.7" cy="168.4" r="0.72"/><circle cx="414.2" cy="172.0" r="0.72"/><circle cx="407.9" cy="165.0" r="0.72"/><circle cx="412.3" cy="171.7" r="0.72"/><circle cx="443.5" cy="151.2" r="0.72"/><circle cx="405.7" cy="166.6" r="0.72"/><circle cx="440.1" cy="154.7" r="0.72"/><circle cx="411.6" cy="170.5" r="0.72"/><circle cx="412.7" cy="167.8" r="0.72"/><circle cx="419.9" cy="168.9" r="0.72"/><circle cx="407.8" cy="171.6" r="0.72"/><circle cx="445.5" cy="157.0" r="0.72"/><circle cx="418.1" cy="162.2" r="0.72"/><circle cx="419.2" cy="170.7" r="0.72"/><circle cx="438.2" cy="151.6" r="0.72"/><circle cx="444.5" cy="152.3" r="0.72"/><circle cx="429.3" cy="163.4" r="0.72"/><circle cx="440.3" cy="149.4" r="0.72"/><circle cx="414.5" cy="162.4" r="0.72"/><circle cx="443.9" cy="153.1" r="0.72"/><circle cx="412.5" cy="166.3" r="0.72"/><circle cx="425.8" cy="168.6" r="0.72"/><circle cx="415.7" cy="169.0" r="0.72"/><circle cx="425.1" cy="164.6" r="0.72"/><circle cx="430.6" cy="156.5" r="0.72"/><circle cx="433.1" cy="152.1" r="0.72"/><circle cx="436.6" cy="151.7" r="0.72"/><circle cx="417.3" cy="156.1" r="0.72"/><circle cx="422.8" cy="173.1" r="0.72"/><circle cx="439.9" cy="159.2" r="0.72"/><circle cx="411.0" cy="170.2" r="0.72"/><circle cx="420.6" cy="156.8" r="0.72"/><circle cx="439.6" cy="157.0" r="0.72"/><circle cx="418.4" cy="164.8" r="0.72"/><circle cx="410.1" cy="173.5" r="0.72"/><circle cx="415.5" cy="162.8" r="0.72"/><circle cx="417.0" cy="171.8" r="0.72"/><circle cx="430.2" cy="159.5" r="0.72"/><circle cx="429.1" cy="160.8" r="0.72"/><circle cx="405.8" cy="170.1" r="0.72"/><circle cx="440.7" cy="161.4" r="0.72"/><circle cx="442.6" cy="156.6" r="0.72"/><circle cx="412.2" cy="163.2" r="0.72"/><circle cx="420.6" cy="170.9" r="0.72"/><circle cx="406.8" cy="162.2" r="0.72"/><circle cx="408.5" cy="167.0" r="0.72"/><circle cx="427.8" cy="169.1" r="0.72"/><circle cx="419.0" cy="168.9" r="0.72"/><circle cx="439.8" cy="156.3" r="0.72"/><circle cx="432.9" cy="163.0" r="0.72"/><circle cx="421.8" cy="166.1" r="0.72"/><circle cx="425.3" cy="159.5" r="0.72"/><circle cx="427.1" cy="163.2" r="0.72"/><circle cx="422.3" cy="168.2" r="0.72"/><circle cx="409.9" cy="162.7" r="0.72"/><circle cx="411.9" cy="169.1" r="0.72"/><circle cx="425.8" cy="159.0" r="0.72"/><circle cx="436.2" cy="165.2" r="0.72"/><circle cx="420.5" cy="171.9" r="0.72"/><circle cx="420.2" cy="171.7" r="0.72"/><circle cx="428.8" cy="162.7" r="0.72"/><circle cx="420.8" cy="161.8" r="0.72"/><circle cx="421.7" cy="172.6" r="0.72"/><circle cx="420.6" cy="157.2" r="0.72"/><circle cx="437.5" cy="152.3" r="0.72"/><circle cx="428.9" cy="167.4" r="0.72"/><circle cx="424.5" cy="159.1" r="0.72"/><circle cx="435.9" cy="165.0" r="0.72"/><circle cx="436.1" cy="155.9" r="0.72"/><circle cx="411.6" cy="162.2" r="0.72"/><circle cx="418.1" cy="157.5" r="0.72"/><circle cx="437.7" cy="155.4" r="0.72"/><circle cx="419.3" cy="164.3" r="0.72"/><circle cx="421.8" cy="159.9" r="0.72"/><circle cx="428.4" cy="161.0" r="0.72"/><circle cx="405.7" cy="168.3" r="0.72"/><circle cx="410.0" cy="172.3" r="0.72"/><circle cx="407.2" cy="168.4" r="0.72"/><circle cx="431.1" cy="166.5" r="0.72"/><circle cx="414.6" cy="157.4" r="0.72"/><circle cx="421.7" cy="171.7" r="0.72"/><circle cx="439.5" cy="161.6" r="0.72"/><circle cx="431.1" cy="166.6" r="0.72"/><circle cx="423.9" cy="173.9" r="0.72"/><circle cx="436.8" cy="163.5" r="0.72"/><circle cx="424.3" cy="172.6" r="0.72"/><circle cx="407.0" cy="163.8" r="0.72"/><circle cx="426.6" cy="156.9" r="0.72"/><circle cx="414.4" cy="164.6" r="0.72"/><circle cx="432.5" cy="165.2" r="0.72"/><circle cx="407.7" cy="170.8" r="0.72"/><circle cx="418.0" cy="156.7" r="0.72"/><circle cx="407.0" cy="170.6" r="0.72"/><circle cx="413.3" cy="154.3" r="0.72"/><circle cx="445.8" cy="152.6" r="0.72"/><circle cx="414.8" cy="167.6" r="0.72"/><circle cx="442.8" cy="149.8" r="0.72"/><circle cx="440.0" cy="161.2" r="0.72"/><circle cx="433.8" cy="152.7" r="0.72"/><circle cx="414.9" cy="154.8" r="0.72"/><circle cx="411.9" cy="170.4" r="0.72"/><circle cx="412.2" cy="168.6" r="0.72"/><circle cx="431.8" cy="157.9" r="0.72"/><circle cx="423.5" cy="163.8" r="0.72"/><circle cx="434.8" cy="154.9" r="0.72"/><circle cx="416.6" cy="159.3" r="0.72"/><circle cx="431.7" cy="162.2" r="0.72"/><circle cx="423.0" cy="170.8" r="0.72"/><circle cx="435.1" cy="161.3" r="0.72"/><circle cx="406.5" cy="161.8" r="0.72"/><circle cx="421.6" cy="162.7" r="0.72"/><circle cx="420.7" cy="161.5" r="0.72"/><circle cx="421.9" cy="166.9" r="0.72"/><circle cx="432.3" cy="160.3" r="0.72"/><circle cx="422.6" cy="171.7" r="0.72"/><circle cx="444.0" cy="149.1" r="0.72"/><circle cx="420.9" cy="156.9" r="0.72"/><circle cx="425.2" cy="163.6" r="0.72"/><circle cx="416.7" cy="163.8" r="0.72"/><circle cx="441.7" cy="162.5" r="0.72"/><circle cx="422.4" cy="160.4" r="0.72"/><circle cx="442.2" cy="157.8" r="0.72"/><circle cx="438.6" cy="163.1" r="0.72"/><circle cx="412.9" cy="156.1" r="0.72"/><circle cx="407.9" cy="170.8" r="0.72"/><circle cx="412.6" cy="166.5" r="0.72"/><circle cx="418.3" cy="166.8" r="0.72"/><circle cx="421.1" cy="158.4" r="0.72"/><circle cx="413.6" cy="165.2" r="0.72"/><circle cx="440.9" cy="160.5" r="0.72"/><circle cx="410.8" cy="162.1" r="0.72"/><circle cx="426.0" cy="168.2" r="0.72"/><circle cx="432.5" cy="166.3" r="0.72"/><circle cx="422.0" cy="160.5" r="0.72"/><circle cx="407.3" cy="170.7" r="0.72"/><circle cx="413.1" cy="154.5" r="0.72"/><circle cx="407.4" cy="165.9" r="0.72"/><circle cx="422.2" cy="154.8" r="0.72"/><circle cx="433.9" cy="158.5" r="0.72"/><circle cx="432.6" cy="164.7" r="0.72"/><circle cx="416.3" cy="158.5" r="0.72"/><circle cx="430.7" cy="159.9" r="0.72"/><circle cx="409.2" cy="161.3" r="0.72"/><circle cx="430.0" cy="156.5" r="0.72"/><circle cx="432.5" cy="159.4" r="0.72"/><circle cx="422.6" cy="161.4" r="0.72"/><circle cx="430.5" cy="156.4" r="0.72"/><circle cx="424.1" cy="169.0" r="0.72"/><circle cx="424.6" cy="167.5" r="0.72"/><circle cx="406.0" cy="162.4" r="0.72"/><circle cx="435.5" cy="156.6" r="0.72"/><circle cx="413.7" cy="160.2" r="0.72"/><circle cx="422.2" cy="154.8" r="0.72"/><circle cx="436.7" cy="164.6" r="0.72"/><circle cx="442.4" cy="150.8" r="0.72"/><circle cx="423.4" cy="171.1" r="0.72"/><circle cx="423.3" cy="170.6" r="0.72"/><circle cx="440.0" cy="153.4" r="0.72"/><circle cx="441.4" cy="149.6" r="0.72"/><circle cx="416.0" cy="165.5" r="0.72"/><circle cx="417.8" cy="174.8" r="0.72"/><circle cx="440.5" cy="163.2" r="0.72"/><circle cx="413.3" cy="170.8" r="0.72"/><circle cx="437.7" cy="151.6" r="0.72"/><circle cx="408.1" cy="170.6" r="0.72"/><circle cx="435.0" cy="158.3" r="0.72"/><circle cx="434.4" cy="154.5" r="0.72"/><circle cx="414.9" cy="169.6" r="0.72"/><circle cx="408.3" cy="167.4" r="0.72"/><circle cx="408.8" cy="165.5" r="0.72"/><circle cx="420.1" cy="173.8" r="0.72"/><circle cx="443.3" cy="155.1" r="0.72"/><circle cx="427.8" cy="160.7" r="0.72"/><circle cx="418.3" cy="174.7" r="0.72"/><circle cx="405.4" cy="169.7" r="0.72"/><circle cx="416.5" cy="163.2" r="0.72"/><circle cx="425.7" cy="166.0" r="0.72"/><circle cx="411.0" cy="170.0" r="0.72"/><circle cx="444.0" cy="156.3" r="0.72"/><circle cx="422.2" cy="172.7" r="0.72"/><circle cx="412.4" cy="159.8" r="0.72"/><circle cx="430.4" cy="156.8" r="0.72"/><circle cx="418.9" cy="174.7" r="0.72"/><circle cx="419.5" cy="156.4" r="0.72"/><circle cx="438.3" cy="162.7" r="0.72"/><circle cx="414.1" cy="172.8" r="0.72"/><circle cx="443.3" cy="159.6" r="0.72"/><circle cx="418.4" cy="173.5" r="0.72"/><circle cx="410.2" cy="162.1" r="0.72"/><circle cx="425.8" cy="169.0" r="0.72"/><circle cx="435.7" cy="152.1" r="0.72"/><circle cx="418.9" cy="157.5" r="0.72"/><circle cx="434.5" cy="158.8" r="0.72"/><circle cx="435.3" cy="164.1" r="0.72"/><circle cx="417.1" cy="160.6" r="0.72"/><circle cx="433.9" cy="160.9" r="0.72"/><circle cx="427.3" cy="163.8" r="0.72"/><circle cx="426.5" cy="168.3" r="0.72"/><circle cx="422.7" cy="160.1" r="0.72"/><circle cx="421.6" cy="162.8" r="0.72"/><circle cx="430.5" cy="162.5" r="0.72"/><circle cx="418.9" cy="163.0" r="0.72"/><circle cx="444.2" cy="154.7" r="0.72"/><circle cx="423.1" cy="174.2" r="0.72"/><circle cx="426.0" cy="168.1" r="0.72"/><circle cx="436.3" cy="154.8" r="0.72"/><circle cx="415.5" cy="162.8" r="0.72"/><circle cx="416.8" cy="170.7" r="0.72"/><circle cx="411.4" cy="162.2" r="0.72"/><circle cx="439.6" cy="157.9" r="0.72"/><circle cx="411.4" cy="160.0" r="0.72"/><circle cx="413.4" cy="156.6" r="0.72"/><circle cx="436.6" cy="155.0" r="0.72"/><circle cx="410.3" cy="162.0" r="0.72"/><circle cx="424.2" cy="154.7" r="0.72"/><circle cx="412.6" cy="171.8" r="0.72"/><circle cx="427.4" cy="166.3" r="0.72"/><circle cx="413.4" cy="162.6" r="0.72"/><circle cx="424.6" cy="162.8" r="0.72"/><circle cx="411.3" cy="160.4" r="0.72"/><circle cx="433.6" cy="160.1" r="0.72"/><circle cx="420.9" cy="159.3" r="0.72"/><circle cx="421.9" cy="159.3" r="0.72"/><circle cx="413.2" cy="159.3" r="0.72"/><circle cx="435.5" cy="162.8" r="0.72"/><circle cx="426.6" cy="160.7" r="0.72"/><circle cx="405.8" cy="165.7" r="0.72"/><circle cx="410.8" cy="166.3" r="0.72"/><circle cx="410.8" cy="163.2" r="0.72"/><circle cx="443.1" cy="150.1" r="0.72"/><circle cx="429.1" cy="157.1" r="0.72"/><circle cx="421.5" cy="165.9" r="0.72"/><circle cx="434.3" cy="163.3" r="0.72"/><circle cx="422.3" cy="168.5" r="0.72"/><circle cx="430.8" cy="166.8" r="0.72"/><circle cx="440.7" cy="153.3" r="0.72"/><circle cx="436.1" cy="155.7" r="0.72"/><circle cx="425.0" cy="162.4" r="0.72"/><circle cx="434.8" cy="151.3" r="0.72"/><circle cx="421.4" cy="170.1" r="0.72"/><circle cx="423.7" cy="157.5" r="0.72"/><circle cx="437.4" cy="161.7" r="0.72"/><circle cx="407.1" cy="166.5" r="0.72"/><circle cx="420.5" cy="160.9" r="0.72"/><circle cx="431.4" cy="159.7" r="0.72"/><circle cx="406.8" cy="165.0" r="0.72"/><circle cx="444.5" cy="149.6" r="0.72"/><circle cx="419.8" cy="171.4" r="0.72"/><circle cx="442.6" cy="156.4" r="0.72"/><circle cx="428.4" cy="164.8" r="0.72"/><circle cx="420.4" cy="155.6" r="0.72"/><circle cx="416.6" cy="169.6" r="0.72"/><circle cx="443.4" cy="159.8" r="0.72"/><circle cx="418.5" cy="167.2" r="0.72"/><circle cx="421.3" cy="170.4" r="0.72"/><circle cx="425.2" cy="160.2" r="0.72"/><circle cx="429.9" cy="166.9" r="0.72"/><circle cx="417.1" cy="163.1" r="0.72"/><circle cx="421.2" cy="159.8" r="0.72"/><circle cx="414.1" cy="168.8" r="0.72"/><circle cx="418.3" cy="169.7" r="0.72"/><circle cx="431.3" cy="164.4" r="0.72"/><circle cx="444.0" cy="158.2" r="0.72"/><circle cx="428.4" cy="164.4" r="0.72"/><circle cx="419.0" cy="173.2" r="0.72"/><circle cx="424.6" cy="161.2" r="0.72"/><circle cx="442.6" cy="148.9" r="0.72"/><circle cx="426.2" cy="168.3" r="0.72"/><circle cx="405.8" cy="168.5" r="0.72"/><circle cx="415.4" cy="162.1" r="0.72"/><circle cx="434.1" cy="165.6" r="0.72"/><circle cx="440.2" cy="161.1" r="0.72"/><circle cx="422.7" cy="162.7" r="0.72"/><circle cx="409.2" cy="165.1" r="0.72"/><circle cx="423.3" cy="169.9" r="0.72"/><circle cx="418.2" cy="175.3" r="0.72"/><circle cx="418.2" cy="155.8" r="0.72"/><circle cx="419.5" cy="164.5" r="0.72"/><circle cx="439.7" cy="150.5" r="0.72"/><circle cx="422.1" cy="157.1" r="0.72"/><circle cx="426.7" cy="164.7" r="0.72"/><circle cx="422.8" cy="156.3" r="0.72"/><circle cx="441.3" cy="162.6" r="0.72"/><circle cx="432.6" cy="156.4" r="0.72"/><circle cx="436.0" cy="156.5" r="0.72"/><circle cx="433.9" cy="157.6" r="0.72"/><circle cx="407.9" cy="167.5" r="0.72"/><circle cx="444.5" cy="159.3" r="0.72"/><circle cx="440.2" cy="163.2" r="0.72"/><circle cx="438.1" cy="165.1" r="0.72"/><circle cx="441.7" cy="153.4" r="0.72"/><circle cx="423.8" cy="161.8" r="0.72"/><circle cx="407.1" cy="166.9" r="0.72"/><circle cx="417.2" cy="173.5" r="0.72"/><circle cx="411.7" cy="171.8" r="0.72"/><circle cx="417.8" cy="174.7" r="0.72"/><circle cx="436.7" cy="154.2" r="0.72"/><circle cx="443.6" cy="155.7" r="0.72"/><circle cx="426.4" cy="158.7" r="0.72"/><circle cx="421.4" cy="170.2" r="0.72"/><circle cx="417.2" cy="158.2" r="0.72"/><circle cx="419.4" cy="162.4" r="0.72"/><circle cx="417.7" cy="156.0" r="0.72"/><circle cx="406.2" cy="162.9" r="0.72"/><circle cx="436.8" cy="162.0" r="0.72"/><circle cx="431.9" cy="166.1" r="0.72"/><circle cx="433.4" cy="152.1" r="0.72"/><circle cx="443.2" cy="155.0" r="0.72"/><circle cx="425.1" cy="156.3" r="0.72"/><circle cx="416.6" cy="165.3" r="0.72"/><circle cx="442.3" cy="158.3" r="0.72"/><circle cx="432.1" cy="160.6" r="0.72"/><circle cx="435.9" cy="166.5" r="0.72"/><circle cx="420.1" cy="171.5" r="0.72"/><circle cx="416.6" cy="157.1" r="0.72"/><circle cx="433.4" cy="155.2" r="0.72"/><circle cx="424.3" cy="168.8" r="0.72"/><circle cx="426.2" cy="165.3" r="0.72"/><circle cx="414.2" cy="157.8" r="0.72"/><circle cx="438.1" cy="159.7" r="0.72"/><circle cx="428.9" cy="164.9" r="0.72"/><circle cx="428.7" cy="157.7" r="0.72"/><circle cx="436.5" cy="161.6" r="0.72"/><circle cx="414.3" cy="165.7" r="0.72"/><circle cx="437.7" cy="154.8" r="0.72"/><circle cx="441.5" cy="158.2" r="0.72"/><circle cx="413.4" cy="174.0" r="0.72"/><circle cx="443.4" cy="153.2" r="0.72"/><circle cx="409.0" cy="169.9" r="0.72"/><circle cx="444.1" cy="152.2" r="0.72"/><circle cx="438.1" cy="163.8" r="0.72"/><circle cx="433.5" cy="157.6" r="0.72"/><circle cx="426.1" cy="167.2" r="0.72"/><circle cx="429.2" cy="157.5" r="0.72"/><circle cx="413.8" cy="155.6" r="0.72"/><circle cx="420.2" cy="162.9" r="0.72"/><circle cx="413.3" cy="159.4" r="0.72"/><circle cx="436.3" cy="163.0" r="0.72"/><circle cx="425.5" cy="166.4" r="0.72"/><circle cx="433.7" cy="165.2" r="0.72"/><circle cx="417.9" cy="166.0" r="0.72"/><circle cx="414.4" cy="167.2" r="0.72"/><circle cx="408.7" cy="168.0" r="0.72"/><circle cx="436.7" cy="151.5" r="0.72"/><circle cx="416.9" cy="171.6" r="0.72"/><circle cx="412.1" cy="159.0" r="0.72"/><circle cx="444.2" cy="160.3" r="0.72"/><circle cx="442.0" cy="162.3" r="0.72"/><circle cx="425.0" cy="169.9" r="0.72"/><circle cx="439.7" cy="162.3" r="0.72"/><circle cx="412.8" cy="169.5" r="0.72"/><circle cx="406.5" cy="166.0" r="0.72"/><circle cx="416.1" cy="162.3" r="0.72"/><circle cx="424.8" cy="162.3" r="0.72"/><circle cx="419.1" cy="174.6" r="0.72"/><circle cx="409.2" cy="172.2" r="0.72"/><circle cx="421.9" cy="164.2" r="0.72"/><circle cx="440.4" cy="151.5" r="0.72"/><circle cx="425.4" cy="159.4" r="0.72"/><circle cx="430.6" cy="163.2" r="0.72"/><circle cx="442.6" cy="154.5" r="0.72"/><circle cx="416.5" cy="162.5" r="0.72"/><circle cx="408.9" cy="161.3" r="0.72"/><circle cx="441.5" cy="154.0" r="0.72"/><circle cx="428.1" cy="167.4" r="0.72"/><circle cx="435.7" cy="157.4" r="0.72"/><circle cx="418.9" cy="160.0" r="0.72"/><circle cx="416.4" cy="156.1" r="0.72"/><circle cx="423.0" cy="162.6" r="0.72"/><circle cx="440.6" cy="152.2" r="0.72"/><circle cx="435.6" cy="162.5" r="0.72"/><circle cx="426.3" cy="159.3" r="0.72"/><circle cx="415.6" cy="165.5" r="0.72"/><circle cx="410.1" cy="162.8" r="0.72"/><circle cx="443.7" cy="149.0" r="0.72"/><circle cx="437.0" cy="161.1" r="0.72"/><circle cx="436.3" cy="159.8" r="0.72"/><circle cx="413.5" cy="164.9" r="0.72"/><circle cx="432.9" cy="155.3" r="0.72"/><circle cx="420.6" cy="164.8" r="0.72"/><circle cx="431.9" cy="160.3" r="0.72"/><circle cx="418.1" cy="172.2" r="0.72"/><circle cx="413.1" cy="166.7" r="0.72"/><circle cx="408.2" cy="163.4" r="0.72"/><circle cx="425.1" cy="155.5" r="0.72"/><circle cx="407.2" cy="165.1" r="0.72"/><circle cx="417.6" cy="165.1" r="0.72"/><circle cx="422.8" cy="173.5" r="0.72"/><circle cx="418.2" cy="165.5" r="0.72"/><circle cx="429.0" cy="159.5" r="0.72"/><circle cx="422.4" cy="160.0" r="0.72"/><circle cx="432.0" cy="163.2" r="0.72"/><circle cx="423.3" cy="165.0" r="0.72"/><circle cx="420.9" cy="160.6" r="0.72"/><circle cx="432.3" cy="162.4" r="0.72"/><circle cx="445.1" cy="154.6" r="0.72"/><circle cx="426.7" cy="158.2" r="0.72"/><circle cx="423.5" cy="155.1" r="0.72"/><circle cx="426.6" cy="165.4" r="0.72"/><circle cx="415.6" cy="157.2" r="0.72"/><circle cx="419.7" cy="173.6" r="0.72"/><circle cx="418.3" cy="157.3" r="0.72"/><circle cx="407.2" cy="170.2" r="0.72"/><circle cx="427.3" cy="159.1" r="0.72"/><circle cx="416.3" cy="162.2" r="0.72"/><circle cx="412.6" cy="168.6" r="0.72"/><circle cx="437.4" cy="164.7" r="0.72"/><circle cx="407.4" cy="162.6" r="0.72"/><circle cx="418.6" cy="173.6" r="0.72"/><circle cx="416.6" cy="156.5" r="0.72"/><circle cx="430.2" cy="160.5" r="0.72"/><circle cx="418.6" cy="157.6" r="0.72"/><circle cx="421.0" cy="167.9" r="0.72"/><circle cx="413.5" cy="174.2" r="0.72"/><circle cx="422.8" cy="156.7" r="0.72"/><circle cx="426.5" cy="166.4" r="0.72"/><circle cx="425.0" cy="166.4" r="0.72"/><circle cx="414.0" cy="171.8" r="0.72"/><circle cx="428.0" cy="155.8" r="0.72"/><circle cx="416.0" cy="170.6" r="0.72"/><circle cx="421.7" cy="172.8" r="0.72"/><circle cx="440.8" cy="158.9" r="0.72"/><circle cx="414.7" cy="162.5" r="0.72"/><circle cx="438.9" cy="160.2" r="0.72"/><circle cx="425.5" cy="172.4" r="0.72"/><circle cx="425.7" cy="159.0" r="0.72"/><circle cx="445.5" cy="155.0" r="0.72"/><circle cx="405.8" cy="164.6" r="0.72"/><circle cx="438.2" cy="164.9" r="0.72"/><circle cx="417.2" cy="167.5" r="0.72"/><circle cx="428.8" cy="167.8" r="0.72"/><circle cx="437.2" cy="150.0" r="0.72"/><circle cx="434.3" cy="155.9" r="0.72"/><circle cx="423.6" cy="174.0" r="0.72"/><circle cx="427.4" cy="166.8" r="0.72"/><circle cx="431.0" cy="166.4" r="0.72"/><circle cx="410.5" cy="164.0" r="0.72"/><circle cx="405.7" cy="167.9" r="0.72"/><circle cx="423.6" cy="154.6" r="0.72"/><circle cx="414.4" cy="157.8" r="0.72"/><circle cx="418.2" cy="166.2" r="0.72"/><circle cx="422.2" cy="155.1" r="0.72"/><circle cx="413.4" cy="173.7" r="0.72"/><circle cx="413.6" cy="160.0" r="0.72"/><circle cx="430.2" cy="165.2" r="0.72"/><circle cx="426.3" cy="168.2" r="0.72"/><circle cx="413.5" cy="164.6" r="0.72"/><circle cx="428.3" cy="164.0" r="0.72"/><circle cx="419.4" cy="172.3" r="0.72"/><circle cx="406.9" cy="169.8" r="0.72"/><circle cx="444.8" cy="156.4" r="0.72"/><circle cx="416.6" cy="161.3" r="0.72"/><circle cx="412.1" cy="161.1" r="0.72"/><circle cx="439.9" cy="151.7" r="0.72"/><circle cx="435.4" cy="160.9" r="0.72"/><circle cx="426.8" cy="170.2" r="0.72"/><circle cx="413.7" cy="165.9" r="0.72"/><circle cx="424.6" cy="159.2" r="0.72"/><circle cx="414.1" cy="160.2" r="0.72"/><circle cx="433.6" cy="155.4" r="0.72"/><circle cx="430.1" cy="158.3" r="0.72"/><circle cx="422.3" cy="167.3" r="0.72"/><circle cx="412.8" cy="160.9" r="0.72"/><circle cx="425.2" cy="165.7" r="0.72"/><circle cx="410.7" cy="161.1" r="0.72"/><circle cx="416.7" cy="157.6" r="0.72"/><circle cx="419.8" cy="167.1" r="0.72"/><circle cx="429.4" cy="161.9" r="0.72"/><circle cx="416.8" cy="159.6" r="0.72"/><circle cx="418.7" cy="165.6" r="0.72"/><circle cx="444.3" cy="153.7" r="0.72"/><circle cx="442.7" cy="155.1" r="0.72"/><circle cx="418.4" cy="168.7" r="0.72"/><circle cx="407.3" cy="166.4" r="0.72"/><circle cx="441.8" cy="157.2" r="0.72"/><circle cx="435.7" cy="162.6" r="0.72"/><circle cx="444.2" cy="156.0" r="0.72"/><circle cx="444.4" cy="159.1" r="0.72"/><circle cx="410.1" cy="170.8" r="0.72"/><circle cx="424.8" cy="168.3" r="0.72"/><circle cx="412.0" cy="166.6" r="0.72"/><circle cx="426.3" cy="163.1" r="0.72"/><circle cx="425.3" cy="169.0" r="0.72"/><circle cx="407.4" cy="163.4" r="0.72"/><circle cx="443.6" cy="149.6" r="0.72"/><circle cx="419.5" cy="155.7" r="0.72"/><circle cx="407.0" cy="165.9" r="0.72"/><circle cx="418.8" cy="164.4" r="0.72"/><circle cx="422.0" cy="159.7" r="0.72"/><circle cx="428.9" cy="163.5" r="0.72"/><circle cx="434.9" cy="155.9" r="0.72"/><circle cx="413.0" cy="162.5" r="0.72"/><circle cx="410.0" cy="168.6" r="0.72"/><circle cx="440.0" cy="148.9" r="0.72"/><circle cx="434.7" cy="154.0" r="0.72"/><circle cx="425.1" cy="157.7" r="0.72"/><circle cx="443.4" cy="152.9" r="0.72"/><circle cx="420.0" cy="163.2" r="0.72"/><circle cx="431.0" cy="157.3" r="0.72"/><circle cx="418.7" cy="158.4" r="0.72"/><circle cx="441.9" cy="161.4" r="0.72"/><circle cx="420.7" cy="167.3" r="0.72"/><circle cx="436.3" cy="157.6" r="0.72"/><circle cx="413.6" cy="160.1" r="0.72"/><circle cx="427.2" cy="169.4" r="0.72"/><circle cx="413.6" cy="163.7" r="0.72"/><circle cx="415.6" cy="172.0" r="0.72"/><circle cx="431.8" cy="162.4" r="0.72"/><circle cx="422.6" cy="167.3" r="0.72"/><circle cx="441.9" cy="159.7" r="0.72"/><circle cx="440.6" cy="156.2" r="0.72"/><circle cx="445.0" cy="152.1" r="0.72"/><circle cx="414.3" cy="158.0" r="0.72"/><circle cx="424.8" cy="158.3" r="0.72"/><circle cx="440.3" cy="162.9" r="0.72"/><circle cx="428.0" cy="164.6" r="0.72"/><circle cx="414.4" cy="154.7" r="0.72"/><circle cx="434.4" cy="157.7" r="0.72"/><circle cx="423.5" cy="159.7" r="0.72"/><circle cx="420.4" cy="167.1" r="0.72"/><circle cx="427.1" cy="157.5" r="0.72"/><circle cx="421.1" cy="161.8" r="0.72"/><circle cx="409.0" cy="171.5" r="0.72"/><circle cx="426.9" cy="169.9" r="0.72"/><circle cx="410.1" cy="172.5" r="0.72"/><circle cx="406.6" cy="168.7" r="0.72"/><circle cx="409.4" cy="169.6" r="0.72"/><circle cx="429.1" cy="164.3" r="0.72"/><circle cx="440.4" cy="151.0" r="0.72"/><circle cx="434.8" cy="163.8" r="0.72"/><circle cx="417.8" cy="160.4" r="0.72"/><circle cx="408.6" cy="168.9" r="0.72"/><circle cx="415.6" cy="164.5" r="0.72"/><circle cx="417.4" cy="164.8" r="0.72"/><circle cx="427.5" cy="163.7" r="0.72"/><circle cx="415.5" cy="172.8" r="0.72"/><circle cx="415.4" cy="170.5" r="0.72"/><circle cx="431.5" cy="161.9" r="0.72"/><circle cx="428.5" cy="158.2" r="0.72"/><circle cx="436.0" cy="165.5" r="0.72"/><circle cx="416.8" cy="175.2" r="0.72"/><circle cx="414.1" cy="174.0" r="0.72"/><circle cx="411.2" cy="165.2" r="0.72"/><circle cx="417.5" cy="160.7" r="0.72"/><circle cx="431.8" cy="167.3" r="0.72"/><circle cx="427.0" cy="162.9" r="0.72"/><circle cx="425.3" cy="155.4" r="0.72"/><circle cx="426.3" cy="157.0" r="0.72"/><circle cx="413.1" cy="162.1" r="0.72"/><circle cx="423.2" cy="160.4" r="0.72"/><circle cx="433.6" cy="159.1" r="0.72"/><circle cx="416.5" cy="158.8" r="0.72"/><circle cx="444.4" cy="153.2" r="0.72"/><circle cx="428.2" cy="162.7" r="0.72"/><circle cx="438.8" cy="156.6" r="0.72"/><circle cx="412.1" cy="164.6" r="0.72"/><circle cx="413.2" cy="168.3" r="0.72"/><circle cx="417.6" cy="172.8" r="0.72"/><circle cx="441.3" cy="155.6" r="0.72"/><circle cx="410.5" cy="171.3" r="0.72"/><circle cx="434.9" cy="155.3" r="0.72"/><circle cx="417.5" cy="165.2" r="0.72"/><circle cx="419.1" cy="156.4" r="0.72"/><circle cx="412.4" cy="173.7" r="0.72"/><circle cx="434.3" cy="155.9" r="0.72"/><circle cx="411.3" cy="173.1" r="0.72"/><circle cx="444.2" cy="149.3" r="0.72"/><circle cx="443.0" cy="160.1" r="0.72"/><circle cx="410.7" cy="172.7" r="0.72"/><circle cx="427.5" cy="160.5" r="0.72"/><circle cx="436.1" cy="159.0" r="0.72"/><circle cx="434.1" cy="152.1" r="0.72"/><circle cx="435.0" cy="164.0" r="0.72"/></g>
<g fill="#6f8fd0"><circle cx="421.5" cy="170.7" r="0.72"/><circle cx="418.9" cy="164.9" r="0.72"/><circle cx="428.1" cy="169.2" r="0.72"/><circle cx="420.5" cy="165.2" r="0.72"/><circle cx="428.8" cy="168.0" r="0.72"/><circle cx="405.5" cy="164.4" r="0.72"/><circle cx="415.6" cy="173.2" r="0.72"/><circle cx="410.2" cy="171.9" r="0.72"/><circle cx="416.0" cy="160.0" r="0.72"/><circle cx="433.4" cy="162.7" r="0.72"/><circle cx="441.3" cy="150.5" r="0.72"/><circle cx="431.7" cy="160.6" r="0.72"/><circle cx="414.7" cy="157.9" r="0.72"/><circle cx="424.5" cy="158.7" r="0.72"/><circle cx="431.4" cy="160.3" r="0.72"/><circle cx="438.1" cy="157.0" r="0.72"/><circle cx="435.1" cy="151.2" r="0.72"/><circle cx="409.0" cy="167.8" r="0.72"/><circle cx="425.2" cy="173.1" r="0.72"/><circle cx="408.7" cy="169.4" r="0.72"/><circle cx="417.4" cy="167.1" r="0.72"/><circle cx="422.4" cy="166.5" r="0.72"/><circle cx="440.8" cy="153.7" r="0.72"/><circle cx="413.9" cy="164.7" r="0.72"/><circle cx="415.3" cy="159.8" r="0.72"/><circle cx="439.8" cy="161.1" r="0.72"/><circle cx="434.3" cy="161.9" r="0.72"/><circle cx="417.4" cy="170.0" r="0.72"/><circle cx="427.8" cy="165.2" r="0.72"/><circle cx="442.4" cy="148.7" r="0.72"/><circle cx="419.6" cy="155.2" r="0.72"/><circle cx="413.0" cy="168.9" r="0.72"/><circle cx="416.2" cy="165.9" r="0.72"/><circle cx="418.7" cy="163.9" r="0.72"/><circle cx="427.5" cy="162.2" r="0.72"/><circle cx="440.9" cy="158.6" r="0.72"/><circle cx="436.3" cy="158.4" r="0.72"/><circle cx="429.6" cy="166.4" r="0.72"/><circle cx="421.3" cy="173.9" r="0.72"/><circle cx="442.1" cy="161.6" r="0.72"/><circle cx="406.2" cy="169.7" r="0.72"/><circle cx="424.1" cy="157.4" r="0.72"/><circle cx="422.5" cy="160.7" r="0.72"/><circle cx="440.4" cy="151.8" r="0.72"/><circle cx="440.4" cy="153.7" r="0.72"/><circle cx="413.5" cy="173.0" r="0.72"/><circle cx="405.2" cy="167.8" r="0.72"/><circle cx="422.0" cy="156.8" r="0.72"/><circle cx="440.7" cy="161.2" r="0.72"/></g>
<g fill="#c8c8e8"><circle cx="410.3" cy="164.8" r="0.72"/><circle cx="414.8" cy="173.1" r="0.72"/><circle cx="445.7" cy="151.4" r="0.72"/><circle cx="413.2" cy="157.3" r="0.72"/><circle cx="413.9" cy="160.2" r="0.72"/><circle cx="428.6" cy="161.0" r="0.72"/><circle cx="434.5" cy="157.7" r="0.72"/><circle cx="444.9" cy="154.8" r="0.72"/><circle cx="436.2" cy="161.5" r="0.72"/><circle cx="406.1" cy="167.8" r="0.72"/><circle cx="422.0" cy="161.8" r="0.72"/><circle cx="430.0" cy="164.2" r="0.72"/><circle cx="412.4" cy="169.0" r="0.72"/></g>
<g fill="#d9363a"><circle cx="443.7" cy="153.7" r="0.72"/><circle cx="424.1" cy="158.3" r="0.72"/></g>
<g fill="#e6c4d4"><circle cx="430.5" cy="149" r="0.8"/><circle cx="432.5" cy="148.6" r="0.8"/><circle cx="431" cy="151" r="0.8"/></g>
<text x="369" y="48.4" font-size="10.4" fill="#0c0c0c">Granulosa cell</text>
<text x="366.5" y="101.2" font-size="10.4" text-anchor="middle" fill="#0c0c0c">Growing oocyte</text>
<text x="405" y="121.3" font-size="10.4" fill="#0c0c0c">Immune cell</text>
<text x="317.5" y="142.6" font-size="10.4" text-anchor="middle" fill="#0c0c0c">Fully-grown</text>
<text x="317.5" y="154.5" font-size="10.4" text-anchor="middle" fill="#0c0c0c">&amp; MI &amp; MII</text>
<text x="317" y="166.6" font-size="10.4" text-anchor="middle" fill="#0c0c0c">oocytes</text>
<text x="380" y="141" font-size="10.4" fill="#0c0c0c">Stroma</text>
<text x="380" y="152.8" font-size="10.4" fill="#0c0c0c">C1 &amp;C2</text>
<path d="M262 145 V194 M249 184 H300" stroke="#111" stroke-width="0.9" fill="none"/>
<path d="M262 140 l-2.2 7 h4.4z M305 184 l-7 -2.2 v4.4z" fill="#111"/>
<text x="255.5" y="181" font-size="6.9" fill="#0c0c0c" transform="rotate(-90 255.5 181)">UMAP_2</text>
<text x="267" y="193" font-size="6.9" fill="#0c0c0c">UMAP_1</text>
</g>
<defs><linearGradient id="gh" x1="0" x2="1" y1="0" y2="0"><stop offset="0" stop-color="#3a55a8"/><stop offset="0.18" stop-color="#4866b8"/><stop offset="0.47" stop-color="#e8e8ee"/><stop offset="0.53" stop-color="#f2e4e4"/><stop offset="0.82" stop-color="#e8454a"/><stop offset="1" stop-color="#e02a30"/></linearGradient>
<linearGradient id="gv" x1="0" x2="0" y1="1" y2="0"><stop offset="0" stop-color="#3a55a8"/><stop offset="0.18" stop-color="#4866b8"/><stop offset="0.45" stop-color="#f4f4f8"/><stop offset="0.55" stop-color="#f8eeee"/><stop offset="0.82" stop-color="#e8454a"/><stop offset="1" stop-color="#e02a30"/></linearGradient></defs>
<text x="352" y="212.3" font-size="8.85" text-anchor="middle" fill="#0c0c0c">Relative expression level</text>
<rect x="322.8" y="219.8" width="56.6" height="13.6" fill="url(#gh)" stroke="#444" stroke-width="0.6"/>
<text x="303.3" y="229.6" font-size="8" fill="#0c0c0c">Low</text>
<text x="383.2" y="229.6" font-size="8" fill="#0c0c0c">High</text>
<text x="565.5" y="11.3" font-size="10.65" text-anchor="middle" fill="#0c0c0c"><tspan font-style="italic">RPL39L</tspan> expression</text>
<rect x="565.5" y="31.5" width="20" height="190" fill="#fff" stroke="#555" stroke-width="0.7"/>
<text x="555" y="52.2" font-size="8.9" text-anchor="end" fill="#0c0c0c">Growing oocyte</text>
<path d="M560 49 h3" stroke="#333" stroke-width="0.8"/>
<circle cx="575.5" cy="49" r="7.3" fill="#ea1f27" stroke="#c01820" stroke-width="0.5"/>
<text x="555" y="75.2" font-size="8.9" text-anchor="end" fill="#0c0c0c">Fully-grown oocyte</text>
<path d="M560 72 h3" stroke="#333" stroke-width="0.8"/>
<circle cx="575.5" cy="72" r="7.2" fill="#8285c8" stroke="#6a6cae" stroke-width="0.5"/>
<text x="555" y="98.2" font-size="8.9" text-anchor="end" fill="#0c0c0c">MI oocyte</text>
<path d="M560 95 h3" stroke="#333" stroke-width="0.8"/>
<circle cx="575.5" cy="95" r="5.8" fill="#3550aa" stroke="#2a4090" stroke-width="0.5"/>
<text x="555" y="121.0" font-size="8.9" text-anchor="end" fill="#0c0c0c">MII oocyte</text>
<path d="M560 117.8 h3" stroke="#333" stroke-width="0.8"/>
<circle cx="575.5" cy="117.8" r="4.4" fill="#3550aa" stroke="#2a4090" stroke-width="0.5"/>
<text x="555" y="143.7" font-size="8.9" text-anchor="end" fill="#0c0c0c">Granulosa cell</text>
<path d="M560 140.5 h3" stroke="#333" stroke-width="0.8"/>
<circle cx="575.5" cy="140.5" r="7.3" fill="#c9c5e6" stroke="#8a88a8" stroke-width="0.5"/>
<text x="555" y="167.2" font-size="8.9" text-anchor="end" fill="#0c0c0c">Stroma_C1</text>
<path d="M560 164 h3" stroke="#333" stroke-width="0.8"/>
<circle cx="575.5" cy="164" r="2.7" fill="#3550aa" stroke="#2a4090" stroke-width="0.5"/>
<text x="555" y="190.2" font-size="8.9" text-anchor="end" fill="#0c0c0c">Stroma_C2</text>
<path d="M560 187 h3" stroke="#333" stroke-width="0.8"/>
<circle cx="575.5" cy="187" r="3.3" fill="#3550aa" stroke="#2a4090" stroke-width="0.5"/>
<text x="555" y="212.79999999999998" font-size="8.9" text-anchor="end" fill="#0c0c0c">Immune cell</text>
<path d="M560 209.6 h3" stroke="#333" stroke-width="0.8"/>
<circle cx="575.5" cy="209.6" r="4.5" fill="#3550aa" stroke="#2a4090" stroke-width="0.5"/>
<circle cx="614.5" cy="158.7" r="7.4" fill="#9a9a9a" stroke="#777" stroke-width="0.5"/>
<text x="623.5" y="161.5" font-size="7.6" fill="#0c0c0c">100%</text>
<circle cx="614.5" cy="173.5" r="6.4" fill="#9a9a9a" stroke="#777" stroke-width="0.5"/>
<text x="623.5" y="176.3" font-size="7.6" fill="#0c0c0c">80%</text>
<circle cx="614.5" cy="188" r="5" fill="#9a9a9a" stroke="#777" stroke-width="0.5"/>
<text x="623.5" y="190.8" font-size="7.6" fill="#0c0c0c">60%</text>
<circle cx="614.5" cy="202.6" r="3.7" fill="#9a9a9a" stroke="#777" stroke-width="0.5"/>
<text x="623.5" y="205.4" font-size="7.6" fill="#0c0c0c">40%</text>
<circle cx="614.5" cy="217.3" r="2.2" fill="#9a9a9a" stroke="#777" stroke-width="0.5"/>
<text x="623.5" y="220.10000000000002" font-size="7.6" fill="#0c0c0c">20%</text>
<text x="626.2" y="144.3" font-size="9.25" fill="#0c0c0c" transform="rotate(-90 626.2 144.3)">Expressed percentage</text>
<text x="659.2" y="144.3" font-size="9.4" fill="#0c0c0c" transform="rotate(-90 659.2 144.3)">Relative expression level</text>
<text x="671.4" y="127.3" font-size="9.4" fill="#0c0c0c" transform="rotate(-90 671.4 127.3)">(standard scale)</text>
<rect x="652" y="168" width="12" height="49" fill="url(#gv)" stroke="#444" stroke-width="0.6"/>
<text x="666" y="175" font-size="8" fill="#0c0c0c">High</text>
<text x="666" y="217.6" font-size="8" fill="#0c0c0c">Low</text>
<text x="0" y="287.2" font-size="12.4" fill="#000" font-weight="bold">B</text>
<circle cx="42" cy="286" r="5.2" fill="#3b55ae"/>
<text x="55.5" y="291" font-size="13" fill="#111">DNA methylation</text>
<rect x="104.1" y="315" width="558.1" height="22.2" fill="#f6f7f8"/>
<text x="73" y="329.70000000000005" font-size="10.6" fill="#333" textLength="25.2" lengthAdjust="spacingAndGlyphs">Tools:</text>
<rect x="104.1" y="315" width="26.7" height="22.2" rx="2.6" fill="#3f7bc6"/>
<g transform="translate(117.65 326.70000000000005) scale(0.87 0.957)"><path d="M-3.7 3.8 C-4.6 1.5 -4.6 -1 -4.3 -2.4 C-4 -4.2 -2.6 -4.9 -1 -4.9 C0.8 -4.9 1.8 -4 1.9 -2.2 C3 -2.6 4.6 -2 4.5 -0.6 C4.4 1 3 2.4 1.6 3.9 C0.6 5 -2.6 5.2 -3.7 3.8 Z" fill="#f6c344" stroke="#3a3320" stroke-width="0.9" stroke-linejoin="round"/></g>
<rect x="139.89999999999998" y="321.0" width="10.7" height="10.7" fill="#2d72b8" stroke="#1b467a" stroke-width="0.8"/>
<path d="M141.7 324.0 h1.8 l3.6 4.7 h1.6 M141.7 328.7 h1.8 l3.6 -4.7 h1.6 M147.79999999999998 322.7 l1.3 1.3 l-1.3 1.3 M147.79999999999998 327.4 l1.3 1.3 l-1.3 1.3" stroke="#fff" stroke-width="0.95" fill="none"/>
<rect x="168.4" y="323.00000000000006" width="6.2" height="6.4" fill="#fff" stroke="#a8a8a8" stroke-width="0.6"/>
<circle cx="180.4" cy="324.1" r="3.3" fill="#b5d5ee" stroke="#565c64" stroke-width="1"/>
<path d="M183.0 326.90000000000003 l3.9 3.9" stroke="#4c5158" stroke-width="2.2" stroke-linecap="round"/>
<path d="M190.20000000000002 326.50000000000006 h4.4 M192.4 324.3 v4.4" stroke="#555" stroke-width="0.8"/>
<rect x="204" y="315" width="143.8" height="22.2" rx="2.6" fill="#6c757d"/>
<text x="275.9" y="329.8" font-size="10.2" text-anchor="middle" fill="#fff" textLength="128.5" lengthAdjust="spacingAndGlyphs">chr3:186838233-186875378</text>
<rect x="357.1" y="321.0" width="10.8" height="10.8" fill="#2d72b8" stroke="#1b467a" stroke-width="0.8"/>
<path d="M360.3 328.4 v-3.4 q0 -0.9 0.9 -0.9 h2.6 M364.70000000000005 324.4 v3.4 q0 0.9 -0.9 0.9 h-2.6 M359.0 327.2 l1.3 1.4 l1.3 -1.4 M363.40000000000003 325.6 l1.3 -1.4 l1.3 1.4" stroke="#fff" stroke-width="0.85" fill="none"/>
<rect x="377.5" y="315.3" width="21.7" height="22.2" rx="2.6" fill="#fff" stroke="#7a7a7a" stroke-width="0.8"/>
<path d="M391.75 323.0 v6.6 l-6.2 -3.3 z" fill="#222"/>
<rect x="401" y="315.3" width="24.8" height="22.2" rx="2.6" fill="#fff" stroke="#7a7a7a" stroke-width="0.8"/>
<text x="413.4" y="329.4" font-size="9.4" text-anchor="middle" fill="#939393" style="font-family:'Liberation Serif',serif">+5</text>
<rect x="426.6" y="315.3" width="24.4" height="22.2" rx="2.6" fill="#fff" stroke="#7a7a7a" stroke-width="0.8"/>
<text x="438.8" y="329.4" font-size="9.4" text-anchor="middle" fill="#939393" style="font-family:'Liberation Serif',serif">+1</text>
<rect x="452" y="315.3" width="28.6" height="22.2" rx="2.6" fill="#fff" stroke="#7a7a7a" stroke-width="0.8"/>
<text x="466.3" y="329.4" font-size="9.4" text-anchor="middle" fill="#939393" style="font-family:'Liberation Serif',serif">+<tspan font-size="12.6">⅓</tspan></text>
<rect x="481.6" y="315.3" width="29.4" height="22.2" rx="2.6" fill="#fff" stroke="#7a7a7a" stroke-width="0.8"/>
<text x="496.3" y="329.4" font-size="9.4" text-anchor="middle" fill="#939393" style="font-family:'Liberation Serif',serif">−<tspan font-size="12.6">⅓</tspan></text>
<rect x="512" y="315.3" width="23.8" height="22.2" rx="2.6" fill="#fff" stroke="#7a7a7a" stroke-width="0.8"/>
<text x="523.9" y="329.4" font-size="9.4" text-anchor="middle" fill="#939393" style="font-family:'Liberation Serif',serif">−1</text>
<rect x="536.8" y="315.3" width="24.4" height="22.2" rx="2.6" fill="#fff" stroke="#7a7a7a" stroke-width="0.8"/>
<text x="549.0" y="329.4" font-size="9.4" text-anchor="middle" fill="#939393" style="font-family:'Liberation Serif',serif">−5</text>
<rect x="562.2" y="315.3" width="23.2" height="22.2" rx="2.6" fill="#fff" stroke="#7a7a7a" stroke-width="0.8"/>
<path d="M570.1999999999999 323.0 v6.6 l6.4 -3.3 z" fill="#222"/>
<g transform="translate(598.5 326.90000000000003) scale(1 1)"><path d="M-2.1 -2.1 A3 3 0 1 1 -3 0.4" fill="none" stroke="#3a3a3a" stroke-width="0.8"/><path d="M-3.7 -3.6 L-0.9 -3.2 L-3.1 -0.9 Z" fill="#3a3a3a"/></g>
<g transform="translate(622.3 326.90000000000003) scale(-1 1)"><path d="M-2.1 -2.1 A3 3 0 1 1 -3 0.4" fill="none" stroke="#8a8a8a" stroke-width="0.8"/><path d="M-3.7 -3.6 L-0.9 -3.2 L-3.1 -0.9 Z" fill="#8a8a8a"/></g>
<rect x="644.2" y="321.3" width="8.7" height="10.2" rx="0.8" fill="#2fb24c" stroke="#1f2a1f" stroke-width="0.9"/>
<rect x="645.1" y="328.90000000000003" width="6.9" height="1.6" fill="#cfeed6"/>
<text y="356" font-size="11.2" fill="#222" font-style="italic"><tspan x="73" textLength="125.0" lengthAdjust="spacingAndGlyphs">Viewing a 37.1 Kb region in</tspan> <tspan x="202.9" textLength="120.3" lengthAdjust="spacingAndGlyphs">880px, 1 pixel spans 42 bp</tspan></text>
<rect x="329" y="346.3" width="52.2" height="10.9" rx="2" fill="#28a745"/>
<text x="355.1" y="354.59999999999997" font-size="9.4" text-anchor="middle" fill="#fff" textLength="45.69999999999999" lengthAdjust="spacingAndGlyphs">Metadata »</text>
<text x="669.2" y="338" font-size="8.4" fill="#222" transform="rotate(90 669.2 338)" textLength="25.5" lengthAdjust="spacingAndGlyphs">Sample</text>
<rect x="72" y="367" width="604.6" height="203.0" fill="#fff"/>
<rect x="146.5" y="423" width="194.9" height="66.5" fill="#dadada"/>
<rect x="427.3" y="423" width="39.4" height="66.5" fill="#dadada"/>
<path d="M72 377.5H676.6M72 403.5H676.6M72 423H676.6M72 443H676.6M72 469.5H676.6M72 489.5H676.6M72 509.5H676.6M72 529H676.6M72 548.5H676.6" stroke="#c8c8c8" stroke-width="0.7" fill="none"/>
<path d="M666.8 367V570" stroke="#c4c4c4" stroke-width="0.7"/>
<rect x="667.0" y="404.1" width="9.2" height="18.6" fill="#f9a868"/>
<rect x="667.0" y="423.6" width="9.2" height="19.1" fill="#c8d820"/>
<rect x="667.0" y="443.6" width="9.2" height="25.6" fill="#c850b0"/>
<rect x="667.0" y="470.1" width="9.2" height="19.1" fill="#701010"/>
<rect x="667.0" y="490.1" width="9.2" height="19.1" fill="#141a55"/>
<rect x="667.0" y="510.1" width="9.2" height="18.6" fill="#f49080"/>
<rect x="667.0" y="529.6" width="9.2" height="18.6" fill="#4078c8"/>
<rect x="667.0" y="549.1" width="9.2" height="20.6" fill="#7a5020"/>
<text x="74" y="374.3" font-size="7.6" fill="#333" textLength="26.5" lengthAdjust="spacingAndGlyphs">refGene</text>
<text x="74" y="385.2" font-size="7.6" fill="#333" textLength="17" lengthAdjust="spacingAndGlyphs">Ruler</text>
<path d="M152.3 371.2H418.5" stroke="#3b4fa0" stroke-width="0.9"/>
<rect x="152.3" y="369.7" width="8.2" height="3" fill="#3b4fa0"/>
<rect x="253.8" y="369.7" width="1.4" height="3" fill="#3b4fa0"/>
<rect x="409" y="369.7" width="9.6" height="3" fill="#3b4fa0"/>
<rect x="155.5" y="368.7" width="4.5" height="5" fill="#3b4fa0"/>
<path d="M163.8 369.09999999999997l-2.4 2.1l2.4 2.1M171.0 369.09999999999997l-2.4 2.1l2.4 2.1M178.1 369.09999999999997l-2.4 2.1l2.4 2.1M185.2 369.09999999999997l-2.4 2.1l2.4 2.1M192.4 369.09999999999997l-2.4 2.1l2.4 2.1M199.6 369.09999999999997l-2.4 2.1l2.4 2.1M206.7 369.09999999999997l-2.4 2.1l2.4 2.1M213.9 369.09999999999997l-2.4 2.1l2.4 2.1M221.0 369.09999999999997l-2.4 2.1l2.4 2.1M228.2 369.09999999999997l-2.4 2.1l2.4 2.1M235.3 369.09999999999997l-2.4 2.1l2.4 2.1M242.5 369.09999999999997l-2.4 2.1l2.4 2.1M249.6 369.09999999999997l-2.4 2.1l2.4 2.1M256.8 369.09999999999997l-2.4 2.1l2.4 2.1M263.9 369.09999999999997l-2.4 2.1l2.4 2.1M271.1 369.09999999999997l-2.4 2.1l2.4 2.1M278.2 369.09999999999997l-2.4 2.1l2.4 2.1M285.4 369.09999999999997l-2.4 2.1l2.4 2.1M292.5 369.09999999999997l-2.4 2.1l2.4 2.1M299.6 369.09999999999997l-2.4 2.1l2.4 2.1M306.8 369.09999999999997l-2.4 2.1l2.4 2.1M314.0 369.09999999999997l-2.4 2.1l2.4 2.1M321.1 369.09999999999997l-2.4 2.1l2.4 2.1M328.2 369.09999999999997l-2.4 2.1l2.4 2.1M335.4 369.09999999999997l-2.4 2.1l2.4 2.1M342.6 369.09999999999997l-2.4 2.1l2.4 2.1M349.7 369.09999999999997l-2.4 2.1l2.4 2.1M356.9 369.09999999999997l-2.4 2.1l2.4 2.1M364.0 369.09999999999997l-2.4 2.1l2.4 2.1M371.2 369.09999999999997l-2.4 2.1l2.4 2.1M378.3 369.09999999999997l-2.4 2.1l2.4 2.1M385.5 369.09999999999997l-2.4 2.1l2.4 2.1M392.6 369.09999999999997l-2.4 2.1l2.4 2.1M399.8 369.09999999999997l-2.4 2.1l2.4 2.1M406.9 369.09999999999997l-2.4 2.1l2.4 2.1" stroke="#3b4fa0" stroke-width="1" fill="none"/>
<text x="421.8" y="373.9" font-size="7.6" fill="#3b4fa0" textLength="27.5" lengthAdjust="spacingAndGlyphs">RPL39L</text>
<path d="M146.5 381.5H666.3" stroke="#b0b0b0" stroke-width="0.8"/>
<path d="M146.5 390.7H666.3" stroke="#d4d4d4" stroke-width="0.7"/>
<path d="M157.2 387.7v3M185.8 387.7v3M200.1 387.7v3M214.3 387.7v3M228.6 387.7v3M242.9 387.7v3M257.2 387.7v3M271.5 387.7v3M285.7 387.7v3M300.0 387.7v3M328.6 387.7v3M342.9 387.7v3M357.1 387.7v3M371.4 387.7v3M385.7 387.7v3M400.0 387.7v3M414.3 387.7v3M428.5 387.7v3M442.8 387.7v3M471.4 387.7v3M485.7 387.7v3M499.9 387.7v3M514.2 387.7v3M528.5 387.7v3M542.8 387.7v3M557.1 387.7v3M571.3 387.7v3M585.6 387.7v3M614.2 387.7v3M628.5 387.7v3M642.7 387.7v3M657.0 387.7v3" stroke="#a0a0a0" stroke-width="0.7"/>
<path d="M171.5 384.5v6.2M314.3 384.5v6.2M457.2 384.5v6.2M600.2 384.5v6.2" stroke="#666" stroke-width="0.8"/>
<text x="171.5" y="399.9" font-size="6.6" text-anchor="middle" fill="#222" textLength="29.5" lengthAdjust="spacingAndGlyphs">186840K</text>
<text x="314.3" y="399.9" font-size="6.6" text-anchor="middle" fill="#222" textLength="29.5" lengthAdjust="spacingAndGlyphs">186850K</text>
<text x="457.2" y="399.9" font-size="6.6" text-anchor="middle" fill="#222" textLength="29.5" lengthAdjust="spacingAndGlyphs">186860K</text>
<text x="600.2" y="399.9" font-size="6.6" text-anchor="middle" fill="#222" textLength="29.5" lengthAdjust="spacingAndGlyphs">186870K</text>
<text x="145.5" y="400.7" font-size="6.8" text-anchor="end" fill="#333" textLength="13.6" lengthAdjust="spacingAndGlyphs">chr3</text>
<text x="404.2" y="387.3" font-size="6.2" fill="#333" textLength="15.4" lengthAdjust="spacingAndGlyphs">q27.3</text>
<text x="102.5" y="416.55" font-size="7.9" text-anchor="middle" fill="#222">GO</text>
<text x="140.9" y="408.9" font-size="6.2" text-anchor="end" fill="#333">1.0</text>
<text x="140.9" y="422.4" font-size="6.2" text-anchor="end" fill="#333">0.0</text>
<path d="M142.6 405.7H145.7V422.4H142.6" stroke="#222" stroke-width="0.95" fill="none"/>
<text x="102.5" y="435.65000000000003" font-size="7.9" text-anchor="middle" fill="#222">FGO</text>
<text x="140.9" y="428.4" font-size="6.2" text-anchor="end" fill="#333">1.0</text>
<text x="140.9" y="442.4" font-size="6.2" text-anchor="end" fill="#333">0.0</text>
<path d="M142.6 425.2H145.7V442.4H142.6" stroke="#222" stroke-width="0.95" fill="none"/>
<text x="102.5" y="455.85" font-size="7.9" text-anchor="middle" fill="#222">MI</text>
<text x="140.9" y="448.4" font-size="6.2" text-anchor="end" fill="#333">1.0</text>
<text x="140.9" y="468.9" font-size="6.2" text-anchor="end" fill="#333">0.0</text>
<path d="M142.6 445.2H145.7V468.9H142.6" stroke="#222" stroke-width="0.95" fill="none"/>
<text x="102.5" y="481.55" font-size="7.9" text-anchor="middle" fill="#222">MII</text>
<text x="140.9" y="474.9" font-size="6.2" text-anchor="end" fill="#333">1.0</text>
<text x="140.9" y="488.9" font-size="6.2" text-anchor="end" fill="#333">0.0</text>
<path d="M142.6 471.7H145.7V488.9H142.6" stroke="#222" stroke-width="0.95" fill="none"/>
<text x="102.5" y="502.25" font-size="7.9" text-anchor="middle" fill="#222">Granulosa</text>
<text x="140.9" y="494.9" font-size="6.2" text-anchor="end" fill="#333">1.0</text>
<text x="140.9" y="508.9" font-size="6.2" text-anchor="end" fill="#333">0.0</text>
<path d="M142.6 491.7H145.7V508.9H142.6" stroke="#222" stroke-width="0.95" fill="none"/>
<text x="102.5" y="520.75" font-size="7.9" text-anchor="middle" fill="#222">Stroma_C1</text>
<text x="140.9" y="514.9" font-size="6.2" text-anchor="end" fill="#333">1.0</text>
<text x="140.9" y="528.4" font-size="6.2" text-anchor="end" fill="#333">0.0</text>
<path d="M142.6 511.7H145.7V528.4H142.6" stroke="#222" stroke-width="0.95" fill="none"/>
<text x="102.5" y="541.85" font-size="7.9" text-anchor="middle" fill="#222">Stroma_C2</text>
<text x="140.9" y="534.4" font-size="6.2" text-anchor="end" fill="#333">1.0</text>
<text x="140.9" y="547.9" font-size="6.2" text-anchor="end" fill="#333">0.0</text>
<path d="M142.6 531.2H145.7V547.9H142.6" stroke="#222" stroke-width="0.95" fill="none"/>
<text x="102.5" y="560.25" font-size="7.9" text-anchor="middle" fill="#222">Immune</text>
<text x="140.9" y="553.9" font-size="6.2" text-anchor="end" fill="#333">1.0</text>
<text x="140.9" y="569.4" font-size="6.2" text-anchor="end" fill="#333">0.0</text>
<path d="M142.6 550.7H145.7V569.4H142.6" stroke="#222" stroke-width="0.95" fill="none"/>
<path d="M61.5 405.5V482M61.5 492V566.5" stroke="#333" stroke-width="1"/>
<text x="35.8" y="447.2" font-size="10.5" text-anchor="middle" fill="#111">Oocyte</text>
<text x="38.8" y="529" font-size="10.4" text-anchor="middle" fill="#111">Soma</text>
<path d="M146.9 422.6v-4.0h1.0v4.0zM148.6 422.6v-4.5h1.0v4.5zM152.8 422.6v-6.1h1.0v6.1zM154.9 422.6v-4.1h1.0v4.1zM156.3 422.6v-4.3h1.0v4.3zM158.0 422.6v-4.6h1.0v4.6zM159.4 422.6v-2.9h1.0v2.9zM163.1 422.6v-4.3h1.0v4.3zM168.9 422.6v-4.8h1.0v4.8zM171.3 422.6v-5.5h1.0v5.5zM187.1 422.6v-8.5h1.0v8.5zM201.7 422.6v-2.5h1.0v2.5zM204.2 422.6v-3.4h1.0v3.4zM213.0 422.6v-8.5h1.0v8.5zM218.1 422.6v-10.2h1.0v10.2zM219.6 422.6v-2.4h1.0v2.4zM221.0 422.6v-5.6h1.0v5.6zM222.6 422.6v-17.0h1.0v17.0zM229.2 422.6v-9.4h1.0v9.4zM230.9 422.6v-10.2h1.0v10.2zM231.9 422.6v-8.5h1.0v8.5zM246.3 422.6v-7.7h1.0v7.7zM248.3 422.6v-5.1h1.0v5.1zM257.1 422.6v-16.1h1.0v16.1zM262.7 422.6v-2.2h1.0v2.2zM264.3 422.6v-6.4h1.0v6.4zM265.8 422.6v-6.3h1.0v6.3zM267.8 422.6v-4.9h1.0v4.9zM271.9 422.6v-4.8h1.0v4.8zM273.4 422.6v-2.7h1.0v2.7zM275.0 422.6v-2.1h1.0v2.1zM276.2 422.6v-4.4h1.0v4.4zM285.9 422.6v-3.0h1.0v3.0zM288.0 422.6v-15.3h1.0v15.3zM289.6 422.6v-4.0h1.0v4.0zM298.9 422.6v-4.4h1.0v4.4zM300.7 422.6v-15.3h1.0v15.3zM302.3 422.6v-2.8h1.0v2.8zM304.0 422.6v-6.1h1.0v6.1zM311.6 422.6v-5.9h1.0v5.9zM319.2 422.6v-9.0h1.0v9.0zM320.8 422.6v-6.5h1.0v6.5zM322.5 422.6v-7.4h1.0v7.4zM328.0 422.6v-6.4h1.0v6.4zM330.1 422.6v-7.6h1.0v7.6zM332.1 422.6v-6.0h1.0v6.0zM334.2 422.6v-4.7h1.0v4.7zM335.6 422.6v-10.2h1.0v10.2zM336.8 422.6v-10.2h1.0v10.2zM345.5 422.6v-15.3h1.0v15.3zM348.5 422.6v-14.4h1.0v14.4zM352.6 422.6v-14.7h1.0v14.7zM354.7 422.6v-13.4h1.0v13.4zM357.8 422.6v-9.7h1.0v9.7zM359.8 422.6v-8.9h1.0v8.9zM361.9 422.6v-9.5h1.0v9.5zM363.1 422.6v-7.5h1.0v7.5zM364.4 422.6v-14.0h1.0v14.0zM365.6 422.6v-10.5h1.0v10.5zM366.9 422.6v-14.7h1.0v14.7zM368.1 422.6v-10.4h1.0v10.4zM369.4 422.6v-15.8h1.0v15.8zM370.6 422.6v-14.7h1.0v14.7zM371.9 422.6v-6.8h1.0v6.8zM377.3 422.6v-2.5h1.0v2.5zM382.4 422.6v-6.3h1.0v6.3zM387.5 422.6v-3.9h1.0v3.9zM388.6 422.6v-6.7h1.0v6.7zM389.6 422.6v-3.5h1.0v3.5zM390.6 422.6v-1.8h1.0v1.8zM391.7 422.6v-4.8h1.0v4.8zM392.8 422.6v-5.6h1.0v5.6zM393.8 422.6v-2.8h1.0v2.8zM394.9 422.6v-1.8h1.0v1.8zM395.9 422.6v-3.2h1.0v3.2zM396.9 422.6v-6.6h1.0v6.6zM398.0 422.6v-5.5h1.0v5.5zM400.9 422.6v-5.6h1.0v5.6zM401.9 422.6v-7.0h1.0v7.0zM403.0 422.6v-5.4h1.0v5.4zM404.1 422.6v-4.9h1.0v4.9zM405.1 422.6v-13.1h1.0v13.1zM406.1 422.6v-6.2h1.0v6.2zM407.2 422.6v-10.4h1.0v10.4zM408.2 422.6v-9.2h1.0v9.2zM409.3 422.6v-6.4h1.0v6.4zM410.4 422.6v-12.3h1.0v12.3zM411.4 422.6v-5.7h1.0v5.7zM412.4 422.6v-11.4h1.0v11.4zM413.5 422.6v-5.5h1.0v5.5zM417.0 422.6v-1.1h1.0v1.1zM419.8 422.6v-0.5h1.0v0.5zM423.0 422.6v-0.7h1.0v0.7zM426.2 422.6v-2.5h1.0v2.5zM427.7 422.6v-8.7h1.0v8.7zM429.2 422.6v-4.9h1.0v4.9zM430.7 422.6v-9.3h1.0v9.3zM432.2 422.6v-4.2h1.0v4.2zM433.7 422.6v-5.6h1.0v5.6zM435.2 422.6v-9.1h1.0v9.1zM436.7 422.6v-7.5h1.0v7.5zM438.2 422.6v-3.3h1.0v3.3zM440.5 422.6v-10.1h1.0v10.1zM442.2 422.6v-4.2h1.0v4.2zM443.9 422.6v-4.5h1.0v4.5zM445.6 422.6v-8.5h1.0v8.5zM447.3 422.6v-5.1h1.0v5.1zM449.0 422.6v-4.8h1.0v4.8zM453.9 422.6v-3.1h1.0v3.1zM456.0 422.6v-15.3h1.0v15.3zM461.1 422.6v-3.2h1.0v3.2zM462.4 422.6v-7.0h1.0v7.0zM463.7 422.6v-4.4h1.0v4.4zM465.0 422.6v-7.1h1.0v7.1zM473.8 422.6v-10.5h1.0v10.5zM484.1 422.6v-11.1h1.0v11.1zM491.3 422.6v-15.0h1.0v15.0zM492.9 422.6v-11.4h1.0v11.4zM496.4 422.6v-12.0h1.0v12.0zM497.6 422.6v-14.3h1.0v14.3zM498.8 422.6v-9.0h1.0v9.0zM500.0 422.6v-8.8h1.0v8.8zM519.2 422.6v-15.3h1.0v15.3zM521.0 422.6v-7.9h1.0v7.9zM530.3 422.6v-7.3h1.0v7.3zM532.9 422.6v-3.4h1.0v3.4zM535.4 422.6v-3.0h1.0v3.0zM538.1 422.6v-6.7h1.0v6.7zM539.8 422.6v-13.0h1.0v13.0zM541.3 422.6v-6.1h1.0v6.1zM542.8 422.6v-13.1h1.0v13.1zM544.3 422.6v-12.5h1.0v12.5zM545.8 422.6v-9.9h1.0v9.9zM550.0 422.6v-8.2h1.0v8.2zM551.1 422.6v-5.2h1.0v5.2zM552.3 422.6v-4.6h1.0v4.6zM553.5 422.6v-13.3h1.0v13.3zM554.6 422.6v-6.5h1.0v6.5zM555.8 422.6v-10.8h1.0v10.8zM556.9 422.6v-6.7h1.0v6.7zM558.0 422.6v-12.0h1.0v12.0zM559.2 422.6v-9.8h1.0v9.8zM560.4 422.6v-7.0h1.0v7.0zM565.5 422.6v-16.1h1.0v16.1zM566.7 422.6v-4.2h1.0v4.2zM567.9 422.6v-9.3h1.0v9.3zM569.1 422.6v-3.2h1.0v3.2zM573.0 422.6v-4.7h1.0v4.7zM574.7 422.6v-7.8h1.0v7.8zM580.8 422.6v-10.5h1.0v10.5zM582.5 422.6v-8.3h1.0v8.3zM588.0 422.6v-5.2h1.0v5.2zM593.1 422.6v-16.1h1.0v16.1zM595.2 422.6v-11.1h1.0v11.1zM598.9 422.6v-4.5h1.0v4.5zM600.3 422.6v-2.7h1.0v2.7zM605.9 422.6v-5.1h1.0v5.1zM607.5 422.6v-6.7h1.0v6.7zM620.5 422.6v-3.1h1.0v3.1zM626.0 422.6v-4.2h1.0v4.2zM627.5 422.6v-6.0h1.0v6.0zM632.8 422.6v-14.4h1.0v14.4zM640.0 422.6v-7.9h1.0v7.9zM642.5 422.6v-3.8h1.0v3.8zM649.2 422.6v-5.9h1.0v5.9zM651.7 422.6v-10.9h1.0v10.9zM655.1 422.6v-11.7h1.0v11.7zM656.7 422.6v-8.7h1.0v8.7zM660.9 422.6v-9.0h1.0v9.0zM662.1 422.6v-8.0h1.0v8.0zM663.3 422.6v-3.9h1.0v3.9zM664.5 422.6v-2.9h1.0v2.9z" fill="#f3b1b0"/>
<path d="M146.8 442.6v-17.5h1.1v17.5zM148.5 442.6v-14.3h1.1v14.3zM152.8 442.6v-8.9h1.1v8.9zM154.8 442.6v-17.5h1.1v17.5zM156.2 442.6v-17.5h1.1v17.5zM157.9 442.6v-17.5h1.1v17.5zM159.3 442.6v-17.5h1.1v17.5zM163.0 442.6v-9.3h1.1v9.3zM168.8 442.6v-17.5h1.1v17.5zM171.2 442.6v-17.5h1.1v17.5zM187.0 442.6v-14.6h1.1v14.6zM201.6 442.6v-17.5h1.1v17.5zM204.1 442.6v-17.5h1.1v17.5zM212.9 442.6v-11.5h1.1v11.5zM218.0 442.6v-13.9h1.1v13.9zM219.5 442.6v-12.9h1.1v12.9zM220.9 442.6v-11.3h1.1v11.3zM222.5 442.6v-10.9h1.1v10.9zM229.1 442.6v-17.5h1.1v17.5zM230.8 442.6v-17.5h1.1v17.5zM231.8 442.6v-17.5h1.1v17.5zM246.2 442.6v-15.7h1.1v15.7zM248.2 442.6v-17.5h1.1v17.5zM257.1 442.6v-17.5h1.1v17.5zM262.6 442.6v-17.5h1.1v17.5zM264.2 442.6v-17.5h1.1v17.5zM265.8 442.6v-17.5h1.1v17.5zM267.8 442.6v-17.5h1.1v17.5zM271.8 442.6v-17.5h1.1v17.5zM273.3 442.6v-17.5h1.1v17.5zM274.9 442.6v-17.5h1.1v17.5zM276.1 442.6v-17.5h1.1v17.5zM285.8 442.6v-17.5h1.1v17.5zM287.9 442.6v-17.5h1.1v17.5zM289.6 442.6v-17.5h1.1v17.5zM298.8 442.6v-17.5h1.1v17.5zM300.6 442.6v-17.5h1.1v17.5zM302.2 442.6v-10.8h1.1v10.8zM303.9 442.6v-17.5h1.1v17.5zM311.6 442.6v-17.5h1.1v17.5zM319.1 442.6v-17.5h1.1v17.5zM320.8 442.6v-17.5h1.1v17.5zM322.4 442.6v-17.5h1.1v17.5zM327.9 442.6v-13.9h1.1v13.9zM330.1 442.6v-17.5h1.1v17.5zM332.1 442.6v-11.3h1.1v11.3zM334.1 442.6v-17.5h1.1v17.5zM335.6 442.6v-17.5h1.1v17.5zM336.8 442.6v-17.5h1.1v17.5zM345.4 442.6v-16.3h1.1v16.3zM348.4 442.6v-17.0h1.1v17.0zM352.6 442.6v-16.8h1.1v16.8zM354.6 442.6v-13.7h1.1v13.7zM357.8 442.6v-14.9h1.1v14.9zM359.8 442.6v-13.3h1.1v13.3zM361.8 442.6v-12.2h1.1v12.2zM363.1 442.6v-14.4h1.1v14.4zM364.3 442.6v-16.5h1.1v16.5zM365.6 442.6v-16.6h1.1v16.6zM366.8 442.6v-15.7h1.1v15.7zM368.1 442.6v-17.2h1.1v17.2zM369.3 442.6v-13.1h1.1v13.1zM370.6 442.6v-12.4h1.1v12.4zM371.8 442.6v-14.1h1.1v14.1zM377.2 442.6v-3.7h1.1v3.7zM382.3 442.6v-3.2h1.1v3.2zM387.4 442.6v-2.0h1.1v2.0zM388.5 442.6v-3.1h1.1v3.1zM389.6 442.6v-2.4h1.1v2.4zM390.6 442.6v-1.5h1.1v1.5zM391.6 442.6v-4.1h1.1v4.1zM392.7 442.6v-4.8h1.1v4.8zM393.8 442.6v-2.2h1.1v2.2zM394.8 442.6v-0.4h1.1v0.4zM395.8 442.6v-0.2h1.1v0.2zM396.9 442.6v-4.3h1.1v4.3zM397.9 442.6v-0.2h1.1v0.2zM402.9 442.6v-1.7h1.1v1.7zM404.0 442.6v-0.3h1.1v0.3zM406.1 442.6v-1.7h1.1v1.7zM407.1 442.6v-0.3h1.1v0.3zM408.2 442.6v-1.3h1.1v1.3zM419.8 442.6v-1.0h1.1v1.0zM427.6 442.6v-15.2h1.1v15.2zM429.1 442.6v-11.0h1.1v11.0zM430.6 442.6v-11.8h1.1v11.8zM432.1 442.6v-12.3h1.1v12.3zM433.6 442.6v-15.1h1.1v15.1zM435.1 442.6v-13.7h1.1v13.7zM436.6 442.6v-14.5h1.1v14.5zM438.1 442.6v-15.6h1.1v15.6zM440.4 442.6v-12.7h1.1v12.7zM442.1 442.6v-15.9h1.1v15.9zM443.8 442.6v-16.8h1.1v16.8zM445.6 442.6v-10.3h1.1v10.3zM447.2 442.6v-17.0h1.1v17.0zM448.9 442.6v-15.3h1.1v15.3zM453.8 442.6v-10.6h1.1v10.6zM455.9 442.6v-13.2h1.1v13.2zM461.1 442.6v-14.6h1.1v14.6zM462.3 442.6v-16.8h1.1v16.8zM463.6 442.6v-12.6h1.1v12.6zM464.9 442.6v-14.1h1.1v14.1zM473.8 442.6v-17.1h1.1v17.1zM484.1 442.6v-16.8h1.1v16.8zM491.2 442.6v-17.3h1.1v17.3zM492.8 442.6v-15.6h1.1v15.6zM496.3 442.6v-16.3h1.1v16.3zM497.6 442.6v-14.7h1.1v14.7zM498.8 442.6v-16.5h1.1v16.5zM499.9 442.6v-16.9h1.1v16.9zM519.2 442.6v-11.8h1.1v11.8zM521.0 442.6v-13.2h1.1v13.2zM530.2 442.6v-13.8h1.1v13.8zM532.9 442.6v-12.4h1.1v12.4zM535.4 442.6v-13.3h1.1v13.3zM538.1 442.6v-8.9h1.1v8.9zM539.8 442.6v-6.3h1.1v6.3zM541.2 442.6v-10.7h1.1v10.7zM542.8 442.6v-12.0h1.1v12.0zM544.2 442.6v-14.7h1.1v14.7zM545.8 442.6v-11.2h1.1v11.2zM550.0 442.6v-5.6h1.1v5.6zM551.1 442.6v-15.2h1.1v15.2zM552.2 442.6v-6.0h1.1v6.0zM553.4 442.6v-15.0h1.1v15.0zM554.6 442.6v-7.4h1.1v7.4zM555.7 442.6v-9.4h1.1v9.4zM556.9 442.6v-14.9h1.1v14.9zM558.0 442.6v-7.0h1.1v7.0zM559.2 442.6v-7.1h1.1v7.1zM560.3 442.6v-11.6h1.1v11.6zM565.5 442.6v-14.1h1.1v14.1zM566.7 442.6v-15.5h1.1v15.5zM567.9 442.6v-13.7h1.1v13.7zM569.1 442.6v-16.8h1.1v16.8zM573.0 442.6v-11.3h1.1v11.3zM574.7 442.6v-16.9h1.1v16.9zM580.8 442.6v-6.3h1.1v6.3zM582.5 442.6v-8.0h1.1v8.0zM588.0 442.6v-11.7h1.1v11.7zM593.1 442.6v-8.8h1.1v8.8zM595.2 442.6v-14.2h1.1v14.2zM598.9 442.6v-13.1h1.1v13.1zM600.2 442.6v-11.7h1.1v11.7zM605.9 442.6v-15.6h1.1v15.6zM607.5 442.6v-12.1h1.1v12.1zM620.5 442.6v-9.1h1.1v9.1zM626.0 442.6v-9.9h1.1v9.9zM627.5 442.6v-15.6h1.1v15.6zM632.8 442.6v-16.3h1.1v16.3zM640.0 442.6v-7.8h1.1v7.8zM642.5 442.6v-15.7h1.1v15.7zM649.2 442.6v-17.1h1.1v17.1zM651.7 442.6v-11.7h1.1v11.7zM655.1 442.6v-12.3h1.1v12.3zM656.7 442.6v-7.7h1.1v7.7zM660.9 442.6v-11.8h1.1v11.8zM662.1 442.6v-11.4h1.1v11.4zM663.2 442.6v-12.7h1.1v12.7zM664.5 442.6v-5.6h1.1v5.6z" fill="#5d8b3c"/>
<path d="M146.8 469.1v-17.6h1.1v17.6zM148.5 469.1v-24.0h1.1v24.0zM152.8 469.1v-24.0h1.1v24.0zM154.8 469.1v-24.0h1.1v24.0zM156.2 469.1v-24.0h1.1v24.0zM157.9 469.1v-24.0h1.1v24.0zM159.3 469.1v-24.0h1.1v24.0zM163.0 469.1v-24.0h1.1v24.0zM168.8 469.1v-24.0h1.1v24.0zM171.2 469.1v-22.0h1.1v22.0zM187.0 469.1v-24.0h1.1v24.0zM201.6 469.1v-24.0h1.1v24.0zM204.1 469.1v-24.0h1.1v24.0zM212.9 469.1v-24.0h1.1v24.0zM218.0 469.1v-19.1h1.1v19.1zM219.5 469.1v-11.4h1.1v11.4zM220.9 469.1v-15.4h1.1v15.4zM222.5 469.1v-17.5h1.1v17.5zM229.1 469.1v-24.0h1.1v24.0zM230.8 469.1v-24.0h1.1v24.0zM231.8 469.1v-24.0h1.1v24.0zM246.2 469.1v-24.0h1.1v24.0zM248.2 469.1v-24.0h1.1v24.0zM257.1 469.1v-24.0h1.1v24.0zM262.6 469.1v-24.0h1.1v24.0zM264.2 469.1v-24.0h1.1v24.0zM265.8 469.1v-24.0h1.1v24.0zM267.8 469.1v-24.0h1.1v24.0zM271.8 469.1v-24.0h1.1v24.0zM273.3 469.1v-24.0h1.1v24.0zM274.9 469.1v-24.0h1.1v24.0zM276.1 469.1v-24.0h1.1v24.0zM285.8 469.1v-24.0h1.1v24.0zM287.9 469.1v-24.0h1.1v24.0zM289.6 469.1v-24.0h1.1v24.0zM298.8 469.1v-24.0h1.1v24.0zM300.6 469.1v-24.0h1.1v24.0zM302.2 469.1v-24.0h1.1v24.0zM303.9 469.1v-24.0h1.1v24.0zM311.6 469.1v-24.0h1.1v24.0zM319.1 469.1v-24.0h1.1v24.0zM320.8 469.1v-18.6h1.1v18.6zM322.4 469.1v-14.5h1.1v14.5zM327.9 469.1v-24.0h1.1v24.0zM330.1 469.1v-24.0h1.1v24.0zM332.1 469.1v-15.4h1.1v15.4zM334.1 469.1v-24.0h1.1v24.0zM335.6 469.1v-14.4h1.1v14.4zM336.8 469.1v-21.6h1.1v21.6zM345.4 469.1v-16.7h1.1v16.7zM348.4 469.1v-17.6h1.1v17.6zM352.6 469.1v-21.7h1.1v21.7zM354.6 469.1v-17.8h1.1v17.8zM357.8 469.1v-16.4h1.1v16.4zM359.8 469.1v-22.6h1.1v22.6zM361.8 469.1v-19.1h1.1v19.1zM363.1 469.1v-22.2h1.1v22.2zM364.3 469.1v-16.7h1.1v16.7zM365.6 469.1v-19.0h1.1v19.0zM366.8 469.1v-21.4h1.1v21.4zM368.1 469.1v-15.7h1.1v15.7zM369.3 469.1v-17.3h1.1v17.3zM370.6 469.1v-21.3h1.1v21.3zM371.8 469.1v-23.3h1.1v23.3zM377.2 469.1v-11.7h1.1v11.7zM382.3 469.1v-3.5h1.1v3.5zM391.6 469.1v-0.5h1.1v0.5zM392.7 469.1v-0.3h1.1v0.3zM396.9 469.1v-1.3h1.1v1.3zM397.9 469.1v-6.0h1.1v6.0zM402.9 469.1v-0.2h1.1v0.2zM407.1 469.1v-1.3h1.1v1.3zM411.3 469.1v-2.0h1.1v2.0zM413.4 469.1v-1.3h1.1v1.3zM422.9 469.1v-0.5h1.1v0.5zM427.6 469.1v-13.4h1.1v13.4zM429.1 469.1v-22.8h1.1v22.8zM430.6 469.1v-21.9h1.1v21.9zM432.1 469.1v-20.8h1.1v20.8zM433.6 469.1v-22.5h1.1v22.5zM435.1 469.1v-20.0h1.1v20.0zM436.6 469.1v-17.6h1.1v17.6zM438.1 469.1v-19.7h1.1v19.7zM440.4 469.1v-18.6h1.1v18.6zM442.1 469.1v-23.8h1.1v23.8zM443.8 469.1v-21.9h1.1v21.9zM445.6 469.1v-16.0h1.1v16.0zM447.2 469.1v-23.0h1.1v23.0zM448.9 469.1v-21.2h1.1v21.2zM453.8 469.1v-21.6h1.1v21.6zM455.9 469.1v-22.0h1.1v22.0zM461.1 469.1v-17.6h1.1v17.6zM462.3 469.1v-22.9h1.1v22.9zM463.6 469.1v-22.7h1.1v22.7zM464.9 469.1v-20.7h1.1v20.7zM473.8 469.1v-22.9h1.1v22.9zM484.1 469.1v-22.9h1.1v22.9zM491.2 469.1v-21.1h1.1v21.1zM492.8 469.1v-22.7h1.1v22.7zM496.3 469.1v-19.5h1.1v19.5zM497.6 469.1v-20.8h1.1v20.8zM498.8 469.1v-21.5h1.1v21.5zM499.9 469.1v-19.3h1.1v19.3zM519.2 469.1v-15.3h1.1v15.3zM521.0 469.1v-10.9h1.1v10.9zM530.2 469.1v-15.6h1.1v15.6zM532.9 469.1v-15.5h1.1v15.5zM535.4 469.1v-14.2h1.1v14.2zM538.1 469.1v-19.2h1.1v19.2zM539.8 469.1v-18.0h1.1v18.0zM541.2 469.1v-19.0h1.1v19.0zM542.8 469.1v-20.0h1.1v20.0zM544.2 469.1v-23.7h1.1v23.7zM545.8 469.1v-7.6h1.1v7.6zM550.0 469.1v-17.5h1.1v17.5zM551.1 469.1v-19.6h1.1v19.6zM552.2 469.1v-11.5h1.1v11.5zM553.4 469.1v-13.9h1.1v13.9zM554.6 469.1v-8.0h1.1v8.0zM555.7 469.1v-10.5h1.1v10.5zM556.9 469.1v-13.5h1.1v13.5zM558.0 469.1v-8.9h1.1v8.9zM559.2 469.1v-11.4h1.1v11.4zM560.3 469.1v-22.4h1.1v22.4zM565.5 469.1v-16.4h1.1v16.4zM566.7 469.1v-15.7h1.1v15.7zM567.9 469.1v-23.4h1.1v23.4zM569.1 469.1v-16.7h1.1v16.7zM573.0 469.1v-23.9h1.1v23.9zM574.7 469.1v-17.9h1.1v17.9zM580.8 469.1v-20.8h1.1v20.8zM582.5 469.1v-8.5h1.1v8.5zM588.0 469.1v-17.2h1.1v17.2zM593.1 469.1v-20.0h1.1v20.0zM595.2 469.1v-8.0h1.1v8.0zM598.9 469.1v-22.8h1.1v22.8zM600.2 469.1v-9.9h1.1v9.9zM605.9 469.1v-15.1h1.1v15.1zM607.5 469.1v-10.0h1.1v10.0zM620.5 469.1v-15.5h1.1v15.5zM626.0 469.1v-17.5h1.1v17.5zM627.5 469.1v-8.2h1.1v8.2zM632.8 469.1v-23.1h1.1v23.1zM640.0 469.1v-7.1h1.1v7.1zM642.5 469.1v-8.0h1.1v8.0zM649.2 469.1v-8.6h1.1v8.6zM651.7 469.1v-6.7h1.1v6.7zM655.1 469.1v-6.0h1.1v6.0zM656.7 469.1v-9.1h1.1v9.1zM660.9 469.1v-16.6h1.1v16.6zM662.1 469.1v-12.0h1.1v12.0zM663.2 469.1v-19.2h1.1v19.2zM664.5 469.1v-12.2h1.1v12.2z" fill="#5d8b3c"/>
<path d="M146.8 489.1v-17.5h1.1v17.5zM148.5 489.1v-17.5h1.1v17.5zM152.8 489.1v-17.5h1.1v17.5zM154.8 489.1v-17.5h1.1v17.5zM156.2 489.1v-17.5h1.1v17.5zM157.9 489.1v-17.5h1.1v17.5zM159.3 489.1v-14.6h1.1v14.6zM171.2 489.1v-17.5h1.1v17.5zM204.1 489.1v-16.2h1.1v16.2zM218.0 489.1v-14.0h1.1v14.0zM219.5 489.1v-9.8h1.1v9.8zM220.9 489.1v-10.3h1.1v10.3zM222.5 489.1v-9.8h1.1v9.8zM229.1 489.1v-15.2h1.1v15.2zM230.8 489.1v-17.5h1.1v17.5zM231.8 489.1v-17.5h1.1v17.5zM248.2 489.1v-17.5h1.1v17.5zM262.6 489.1v-17.5h1.1v17.5zM264.2 489.1v-17.5h1.1v17.5zM265.8 489.1v-17.5h1.1v17.5zM267.8 489.1v-17.5h1.1v17.5zM271.8 489.1v-17.5h1.1v17.5zM273.3 489.1v-17.5h1.1v17.5zM274.9 489.1v-17.5h1.1v17.5zM276.1 489.1v-17.5h1.1v17.5zM285.8 489.1v-17.5h1.1v17.5zM287.9 489.1v-17.5h1.1v17.5zM289.6 489.1v-17.5h1.1v17.5zM298.8 489.1v-17.5h1.1v17.5zM300.6 489.1v-17.5h1.1v17.5zM302.2 489.1v-16.3h1.1v16.3zM303.9 489.1v-17.5h1.1v17.5zM311.6 489.1v-17.5h1.1v17.5zM319.1 489.1v-17.5h1.1v17.5zM320.8 489.1v-14.9h1.1v14.9zM322.4 489.1v-17.5h1.1v17.5zM327.9 489.1v-17.5h1.1v17.5zM330.1 489.1v-17.5h1.1v17.5zM332.1 489.1v-17.5h1.1v17.5zM334.1 489.1v-17.5h1.1v17.5zM335.6 489.1v-17.5h1.1v17.5zM336.8 489.1v-17.5h1.1v17.5zM345.4 489.1v-12.7h1.1v12.7zM348.4 489.1v-7.8h1.1v7.8zM352.6 489.1v-8.3h1.1v8.3zM354.6 489.1v-14.7h1.1v14.7zM357.8 489.1v-14.1h1.1v14.1zM359.8 489.1v-13.8h1.1v13.8zM361.8 489.1v-6.5h1.1v6.5zM363.1 489.1v-6.7h1.1v6.7zM364.3 489.1v-8.5h1.1v8.5zM365.6 489.1v-9.8h1.1v9.8zM366.8 489.1v-11.6h1.1v11.6zM368.1 489.1v-7.0h1.1v7.0zM369.3 489.1v-10.9h1.1v10.9zM370.6 489.1v-6.8h1.1v6.8zM371.8 489.1v-6.9h1.1v6.9zM377.2 489.1v-1.4h1.1v1.4zM382.3 489.1v-5.6h1.1v5.6zM406.1 489.1v-0.7h1.1v0.7zM409.2 489.1v-0.3h1.1v0.3zM413.4 489.1v-0.9h1.1v0.9zM416.9 489.1v-1.7h1.1v1.7zM427.6 489.1v-12.2h1.1v12.2zM429.1 489.1v-13.9h1.1v13.9zM430.6 489.1v-15.5h1.1v15.5zM432.1 489.1v-16.9h1.1v16.9zM433.6 489.1v-13.0h1.1v13.0zM435.1 489.1v-12.5h1.1v12.5zM436.6 489.1v-10.4h1.1v10.4zM438.1 489.1v-16.5h1.1v16.5zM440.4 489.1v-10.2h1.1v10.2zM442.1 489.1v-10.3h1.1v10.3zM443.8 489.1v-14.1h1.1v14.1zM445.6 489.1v-13.4h1.1v13.4zM447.2 489.1v-15.0h1.1v15.0zM448.9 489.1v-12.0h1.1v12.0zM453.8 489.1v-15.7h1.1v15.7zM455.9 489.1v-10.2h1.1v10.2zM461.1 489.1v-11.3h1.1v11.3zM462.3 489.1v-14.8h1.1v14.8zM463.6 489.1v-10.3h1.1v10.3zM464.9 489.1v-12.0h1.1v12.0zM473.8 489.1v-16.5h1.1v16.5zM484.1 489.1v-16.4h1.1v16.4zM491.2 489.1v-15.0h1.1v15.0zM492.8 489.1v-14.5h1.1v14.5zM496.3 489.1v-15.3h1.1v15.3zM497.6 489.1v-16.5h1.1v16.5zM498.8 489.1v-15.3h1.1v15.3zM499.9 489.1v-14.4h1.1v14.4zM521.0 489.1v-10.6h1.1v10.6zM535.4 489.1v-13.5h1.1v13.5zM538.1 489.1v-9.6h1.1v9.6zM539.8 489.1v-9.0h1.1v9.0zM541.2 489.1v-10.1h1.1v10.1zM542.8 489.1v-16.2h1.1v16.2zM545.8 489.1v-9.7h1.1v9.7zM550.0 489.1v-10.1h1.1v10.1zM551.1 489.1v-7.6h1.1v7.6zM552.2 489.1v-15.0h1.1v15.0zM553.4 489.1v-15.5h1.1v15.5zM554.6 489.1v-7.4h1.1v7.4zM555.7 489.1v-16.0h1.1v16.0zM559.2 489.1v-11.9h1.1v11.9zM560.3 489.1v-17.1h1.1v17.1zM565.5 489.1v-15.1h1.1v15.1zM567.9 489.1v-14.9h1.1v14.9zM574.7 489.1v-16.3h1.1v16.3zM582.5 489.1v-7.0h1.1v7.0zM588.0 489.1v-13.2h1.1v13.2zM598.9 489.1v-11.6h1.1v11.6zM600.2 489.1v-10.1h1.1v10.1zM605.9 489.1v-17.1h1.1v17.1zM607.5 489.1v-11.3h1.1v11.3zM620.5 489.1v-14.1h1.1v14.1zM626.0 489.1v-16.5h1.1v16.5zM627.5 489.1v-15.4h1.1v15.4zM632.8 489.1v-15.7h1.1v15.7zM640.0 489.1v-15.5h1.1v15.5zM642.5 489.1v-17.0h1.1v17.0zM649.2 489.1v-11.7h1.1v11.7zM651.7 489.1v-15.1h1.1v15.1zM655.1 489.1v-10.4h1.1v10.4zM660.9 489.1v-17.4h1.1v17.4zM662.1 489.1v-7.3h1.1v7.3zM664.5 489.1v-8.8h1.1v8.8zM413.8 489.1v-5.2h1.1v5.2z" fill="#5d8b3c"/>
<path d="M146.8 509.1v-7.6h1.1v7.6zM148.5 509.1v-17.5h1.1v17.5zM152.8 509.1v-17.5h1.1v17.5zM154.8 509.1v-17.5h1.1v17.5zM156.2 509.1v-17.5h1.1v17.5zM157.9 509.1v-17.5h1.1v17.5zM159.3 509.1v-17.5h1.1v17.5zM163.0 509.1v-17.5h1.1v17.5zM168.8 509.1v-17.5h1.1v17.5zM171.2 509.1v-7.4h1.1v7.4zM187.0 509.1v-17.5h1.1v17.5zM201.6 509.1v-17.5h1.1v17.5zM204.1 509.1v-17.5h1.1v17.5zM212.9 509.1v-17.5h1.1v17.5zM218.0 509.1v-17.5h1.1v17.5zM219.5 509.1v-17.5h1.1v17.5zM220.9 509.1v-17.5h1.1v17.5zM222.5 509.1v-17.5h1.1v17.5zM229.1 509.1v-17.5h1.1v17.5zM230.8 509.1v-17.5h1.1v17.5zM231.8 509.1v-17.5h1.1v17.5zM246.2 509.1v-17.5h1.1v17.5zM248.2 509.1v-17.5h1.1v17.5zM257.1 509.1v-11.6h1.1v11.6zM262.6 509.1v-17.5h1.1v17.5zM264.2 509.1v-15.8h1.1v15.8zM265.8 509.1v-17.5h1.1v17.5zM267.8 509.1v-17.5h1.1v17.5zM271.8 509.1v-11.6h1.1v11.6zM273.3 509.1v-17.5h1.1v17.5zM274.9 509.1v-17.5h1.1v17.5zM276.1 509.1v-14.7h1.1v14.7zM285.8 509.1v-17.5h1.1v17.5zM287.9 509.1v-17.5h1.1v17.5zM289.6 509.1v-17.5h1.1v17.5zM298.8 509.1v-17.5h1.1v17.5zM300.6 509.1v-13.3h1.1v13.3zM302.2 509.1v-17.5h1.1v17.5zM303.9 509.1v-17.5h1.1v17.5zM311.6 509.1v-17.5h1.1v17.5zM319.1 509.1v-17.5h1.1v17.5zM320.8 509.1v-13.9h1.1v13.9zM322.4 509.1v-17.5h1.1v17.5zM327.9 509.1v-17.5h1.1v17.5zM330.1 509.1v-17.5h1.1v17.5zM332.1 509.1v-17.5h1.1v17.5zM334.1 509.1v-17.5h1.1v17.5zM335.6 509.1v-12.0h1.1v12.0zM336.8 509.1v-17.5h1.1v17.5zM345.4 509.1v-9.6h1.1v9.6zM348.4 509.1v-17.5h1.1v17.5zM352.6 509.1v-17.5h1.1v17.5zM354.6 509.1v-17.5h1.1v17.5zM357.8 509.1v-17.5h1.1v17.5zM359.8 509.1v-15.1h1.1v15.1zM361.8 509.1v-7.8h1.1v7.8zM363.1 509.1v-17.5h1.1v17.5zM364.3 509.1v-17.5h1.1v17.5zM365.6 509.1v-17.5h1.1v17.5zM366.8 509.1v-17.5h1.1v17.5zM368.1 509.1v-17.5h1.1v17.5zM369.3 509.1v-12.6h1.1v12.6zM370.6 509.1v-9.9h1.1v9.9zM371.8 509.1v-11.0h1.1v11.0zM377.2 509.1v-7.9h1.1v7.9zM382.3 509.1v-9.0h1.1v9.0zM387.4 509.1v-15.8h1.1v15.8zM388.5 509.1v-16.9h1.1v16.9zM389.6 509.1v-15.1h1.1v15.1zM390.6 509.1v-15.1h1.1v15.1zM391.6 509.1v-16.5h1.1v16.5zM392.7 509.1v-16.4h1.1v16.4zM393.8 509.1v-15.4h1.1v15.4zM394.8 509.1v-17.4h1.1v17.4zM395.8 509.1v-14.0h1.1v14.0zM396.9 509.1v-16.5h1.1v16.5zM397.9 509.1v-16.0h1.1v16.0zM400.8 509.1v-14.0h1.1v14.0zM401.9 509.1v-14.7h1.1v14.7zM402.9 509.1v-15.0h1.1v15.0zM404.0 509.1v-15.9h1.1v15.9zM405.1 509.1v-15.2h1.1v15.2zM406.1 509.1v-16.3h1.1v16.3zM407.1 509.1v-14.7h1.1v14.7zM408.2 509.1v-16.0h1.1v16.0zM409.2 509.1v-13.1h1.1v13.1zM410.3 509.1v-11.0h1.1v11.0zM411.3 509.1v-9.2h1.1v9.2zM412.4 509.1v-7.7h1.1v7.7zM413.4 509.1v-5.5h1.1v5.5zM419.8 509.1v-2.0h1.1v2.0zM422.9 509.1v-2.9h1.1v2.9zM426.1 509.1v-10.7h1.1v10.7zM427.6 509.1v-17.5h1.1v17.5zM429.1 509.1v-17.5h1.1v17.5zM430.6 509.1v-17.5h1.1v17.5zM432.1 509.1v-17.5h1.1v17.5zM433.6 509.1v-17.5h1.1v17.5zM435.1 509.1v-14.6h1.1v14.6zM436.6 509.1v-17.5h1.1v17.5zM438.1 509.1v-17.5h1.1v17.5zM440.4 509.1v-17.5h1.1v17.5zM442.1 509.1v-17.5h1.1v17.5zM443.8 509.1v-17.5h1.1v17.5zM445.6 509.1v-17.5h1.1v17.5zM447.2 509.1v-17.5h1.1v17.5zM448.9 509.1v-17.5h1.1v17.5zM453.8 509.1v-17.5h1.1v17.5zM455.9 509.1v-14.9h1.1v14.9zM461.1 509.1v-17.5h1.1v17.5zM462.3 509.1v-17.5h1.1v17.5zM463.6 509.1v-17.5h1.1v17.5zM464.9 509.1v-12.3h1.1v12.3zM491.2 509.1v-17.5h1.1v17.5zM492.8 509.1v-17.5h1.1v17.5zM496.3 509.1v-12.0h1.1v12.0zM497.6 509.1v-17.5h1.1v17.5zM498.8 509.1v-8.9h1.1v8.9zM499.9 509.1v-13.0h1.1v13.0zM519.2 509.1v-17.5h1.1v17.5zM521.0 509.1v-17.5h1.1v17.5zM530.2 509.1v-17.5h1.1v17.5zM532.9 509.1v-17.5h1.1v17.5zM535.4 509.1v-17.5h1.1v17.5zM538.1 509.1v-17.5h1.1v17.5zM539.8 509.1v-10.5h1.1v10.5zM541.2 509.1v-17.5h1.1v17.5zM542.8 509.1v-17.5h1.1v17.5zM544.2 509.1v-8.3h1.1v8.3zM545.8 509.1v-12.2h1.1v12.2zM550.0 509.1v-17.5h1.1v17.5zM551.1 509.1v-17.5h1.1v17.5zM552.2 509.1v-17.5h1.1v17.5zM553.4 509.1v-16.5h1.1v16.5zM554.6 509.1v-12.8h1.1v12.8zM555.7 509.1v-17.5h1.1v17.5zM556.9 509.1v-9.8h1.1v9.8zM558.0 509.1v-9.3h1.1v9.3zM559.2 509.1v-17.5h1.1v17.5zM560.3 509.1v-8.8h1.1v8.8zM565.5 509.1v-17.5h1.1v17.5zM566.7 509.1v-17.5h1.1v17.5zM567.9 509.1v-17.5h1.1v17.5zM569.1 509.1v-17.5h1.1v17.5zM573.0 509.1v-16.0h1.1v16.0zM574.7 509.1v-17.5h1.1v17.5zM580.8 509.1v-17.5h1.1v17.5zM582.5 509.1v-17.5h1.1v17.5zM588.0 509.1v-17.5h1.1v17.5zM593.1 509.1v-17.5h1.1v17.5zM595.2 509.1v-17.5h1.1v17.5zM598.9 509.1v-7.2h1.1v7.2zM600.2 509.1v-17.5h1.1v17.5zM605.9 509.1v-17.5h1.1v17.5zM607.5 509.1v-17.5h1.1v17.5zM620.5 509.1v-17.5h1.1v17.5zM626.0 509.1v-17.5h1.1v17.5zM627.5 509.1v-17.5h1.1v17.5zM632.8 509.1v-17.5h1.1v17.5zM640.0 509.1v-17.5h1.1v17.5zM642.5 509.1v-17.5h1.1v17.5zM649.2 509.1v-17.5h1.1v17.5zM651.7 509.1v-17.5h1.1v17.5zM655.1 509.1v-17.5h1.1v17.5zM656.7 509.1v-17.5h1.1v17.5zM660.9 509.1v-17.5h1.1v17.5zM662.1 509.1v-12.8h1.1v12.8zM663.2 509.1v-17.5h1.1v17.5zM664.5 509.1v-17.5h1.1v17.5z" fill="#ee6a66"/>
<path d="M146.8 528.6v-17.0h1.1v17.0zM148.5 528.6v-17.0h1.1v17.0zM152.8 528.6v-17.0h1.1v17.0zM154.8 528.6v-17.0h1.1v17.0zM156.2 528.6v-17.0h1.1v17.0zM157.9 528.6v-14.6h1.1v14.6zM159.3 528.6v-10.6h1.1v10.6zM163.0 528.6v-17.0h1.1v17.0zM168.8 528.6v-17.0h1.1v17.0zM171.2 528.6v-11.7h1.1v11.7zM187.0 528.6v-17.0h1.1v17.0zM201.6 528.6v-17.0h1.1v17.0zM204.1 528.6v-9.8h1.1v9.8zM212.9 528.6v-17.0h1.1v17.0zM218.0 528.6v-17.0h1.1v17.0zM219.5 528.6v-13.6h1.1v13.6zM220.9 528.6v-17.0h1.1v17.0zM222.5 528.6v-17.0h1.1v17.0zM229.1 528.6v-17.0h1.1v17.0zM230.8 528.6v-17.0h1.1v17.0zM231.8 528.6v-17.0h1.1v17.0zM246.2 528.6v-17.0h1.1v17.0zM248.2 528.6v-17.0h1.1v17.0zM257.1 528.6v-17.0h1.1v17.0zM262.6 528.6v-17.0h1.1v17.0zM264.2 528.6v-17.0h1.1v17.0zM265.8 528.6v-17.0h1.1v17.0zM267.8 528.6v-17.0h1.1v17.0zM271.8 528.6v-17.0h1.1v17.0zM273.3 528.6v-17.0h1.1v17.0zM274.9 528.6v-17.0h1.1v17.0zM276.1 528.6v-17.0h1.1v17.0zM285.8 528.6v-17.0h1.1v17.0zM287.9 528.6v-15.8h1.1v15.8zM289.6 528.6v-17.0h1.1v17.0zM298.8 528.6v-10.7h1.1v10.7zM300.6 528.6v-8.9h1.1v8.9zM302.2 528.6v-17.0h1.1v17.0zM303.9 528.6v-17.0h1.1v17.0zM311.6 528.6v-7.7h1.1v7.7zM319.1 528.6v-8.0h1.1v8.0zM320.8 528.6v-17.0h1.1v17.0zM322.4 528.6v-6.8h1.1v6.8zM327.9 528.6v-17.0h1.1v17.0zM330.1 528.6v-17.0h1.1v17.0zM332.1 528.6v-17.0h1.1v17.0zM334.1 528.6v-17.0h1.1v17.0zM335.6 528.6v-14.4h1.1v14.4zM336.8 528.6v-17.0h1.1v17.0zM345.4 528.6v-17.0h1.1v17.0zM348.4 528.6v-17.0h1.1v17.0zM352.6 528.6v-17.0h1.1v17.0zM354.6 528.6v-17.0h1.1v17.0zM357.8 528.6v-9.7h1.1v9.7zM359.8 528.6v-17.0h1.1v17.0zM361.8 528.6v-15.9h1.1v15.9zM363.1 528.6v-17.0h1.1v17.0zM364.3 528.6v-17.0h1.1v17.0zM365.6 528.6v-17.0h1.1v17.0zM366.8 528.6v-15.2h1.1v15.2zM368.1 528.6v-17.0h1.1v17.0zM369.3 528.6v-10.1h1.1v10.1zM370.6 528.6v-17.0h1.1v17.0zM371.8 528.6v-17.0h1.1v17.0zM377.2 528.6v-16.1h1.1v16.1zM382.3 528.6v-17.0h1.1v17.0zM387.4 528.6v-14.3h1.1v14.3zM388.5 528.6v-14.0h1.1v14.0zM389.6 528.6v-14.7h1.1v14.7zM390.6 528.6v-16.0h1.1v16.0zM391.6 528.6v-16.0h1.1v16.0zM392.7 528.6v-13.9h1.1v13.9zM393.8 528.6v-14.6h1.1v14.6zM394.8 528.6v-14.3h1.1v14.3zM395.8 528.6v-14.4h1.1v14.4zM396.9 528.6v-16.3h1.1v16.3zM397.9 528.6v-15.9h1.1v15.9zM400.8 528.6v-14.4h1.1v14.4zM401.9 528.6v-16.8h1.1v16.8zM402.9 528.6v-14.5h1.1v14.5zM404.0 528.6v-13.9h1.1v13.9zM405.1 528.6v-15.4h1.1v15.4zM406.1 528.6v-13.8h1.1v13.8zM407.1 528.6v-14.6h1.1v14.6zM408.2 528.6v-14.2h1.1v14.2zM409.2 528.6v-12.6h1.1v12.6zM410.3 528.6v-10.7h1.1v10.7zM411.3 528.6v-9.2h1.1v9.2zM412.4 528.6v-7.7h1.1v7.7zM413.4 528.6v-5.6h1.1v5.6zM419.8 528.6v-2.2h1.1v2.2zM422.9 528.6v-2.6h1.1v2.6zM426.1 528.6v-17.0h1.1v17.0zM427.6 528.6v-8.4h1.1v8.4zM429.1 528.6v-17.0h1.1v17.0zM430.6 528.6v-17.0h1.1v17.0zM432.1 528.6v-17.0h1.1v17.0zM433.6 528.6v-17.0h1.1v17.0zM435.1 528.6v-17.0h1.1v17.0zM436.6 528.6v-17.0h1.1v17.0zM438.1 528.6v-14.2h1.1v14.2zM440.4 528.6v-17.0h1.1v17.0zM442.1 528.6v-17.0h1.1v17.0zM443.8 528.6v-17.0h1.1v17.0zM445.6 528.6v-17.0h1.1v17.0zM447.2 528.6v-17.0h1.1v17.0zM448.9 528.6v-17.0h1.1v17.0zM453.8 528.6v-17.0h1.1v17.0zM455.9 528.6v-17.0h1.1v17.0zM461.1 528.6v-17.0h1.1v17.0zM462.3 528.6v-8.5h1.1v8.5zM463.6 528.6v-17.0h1.1v17.0zM464.9 528.6v-17.0h1.1v17.0zM473.8 528.6v-17.0h1.1v17.0zM484.1 528.6v-17.0h1.1v17.0zM491.2 528.6v-17.0h1.1v17.0zM492.8 528.6v-17.0h1.1v17.0zM496.3 528.6v-7.5h1.1v7.5zM497.6 528.6v-12.1h1.1v12.1zM498.8 528.6v-17.0h1.1v17.0zM499.9 528.6v-9.0h1.1v9.0zM519.2 528.6v-17.0h1.1v17.0zM521.0 528.6v-17.0h1.1v17.0zM530.2 528.6v-17.0h1.1v17.0zM532.9 528.6v-17.0h1.1v17.0zM535.4 528.6v-17.0h1.1v17.0zM538.1 528.6v-17.0h1.1v17.0zM539.8 528.6v-17.0h1.1v17.0zM541.2 528.6v-17.0h1.1v17.0zM542.8 528.6v-17.0h1.1v17.0zM544.2 528.6v-8.4h1.1v8.4zM545.8 528.6v-17.0h1.1v17.0zM550.0 528.6v-17.0h1.1v17.0zM551.1 528.6v-17.0h1.1v17.0zM552.2 528.6v-14.2h1.1v14.2zM553.4 528.6v-17.0h1.1v17.0zM554.6 528.6v-17.0h1.1v17.0zM555.7 528.6v-17.0h1.1v17.0zM556.9 528.6v-17.0h1.1v17.0zM558.0 528.6v-7.2h1.1v7.2zM559.2 528.6v-17.0h1.1v17.0zM560.3 528.6v-17.0h1.1v17.0zM565.5 528.6v-8.2h1.1v8.2zM566.7 528.6v-17.0h1.1v17.0zM567.9 528.6v-17.0h1.1v17.0zM569.1 528.6v-17.0h1.1v17.0zM573.0 528.6v-17.0h1.1v17.0zM574.7 528.6v-8.1h1.1v8.1zM580.8 528.6v-17.0h1.1v17.0zM582.5 528.6v-17.0h1.1v17.0zM588.0 528.6v-17.0h1.1v17.0zM593.1 528.6v-17.0h1.1v17.0zM595.2 528.6v-17.0h1.1v17.0zM598.9 528.6v-13.9h1.1v13.9zM600.2 528.6v-17.0h1.1v17.0zM605.9 528.6v-17.0h1.1v17.0zM607.5 528.6v-17.0h1.1v17.0zM620.5 528.6v-17.0h1.1v17.0zM626.0 528.6v-17.0h1.1v17.0zM627.5 528.6v-17.0h1.1v17.0zM632.8 528.6v-10.2h1.1v10.2zM640.0 528.6v-17.0h1.1v17.0zM642.5 528.6v-12.5h1.1v12.5zM649.2 528.6v-17.0h1.1v17.0zM651.7 528.6v-17.0h1.1v17.0zM655.1 528.6v-17.0h1.1v17.0zM656.7 528.6v-17.0h1.1v17.0zM660.9 528.6v-17.0h1.1v17.0zM662.1 528.6v-17.0h1.1v17.0zM663.2 528.6v-12.3h1.1v12.3zM664.5 528.6v-11.1h1.1v11.1z" fill="#ee6a66"/>
<path d="M146.8 548.1v-17.0h1.1v17.0zM148.5 548.1v-10.4h1.1v10.4zM152.8 548.1v-8.8h1.1v8.8zM154.8 548.1v-17.0h1.1v17.0zM156.2 548.1v-17.0h1.1v17.0zM157.9 548.1v-17.0h1.1v17.0zM159.3 548.1v-17.0h1.1v17.0zM163.0 548.1v-17.0h1.1v17.0zM168.8 548.1v-17.0h1.1v17.0zM171.2 548.1v-17.0h1.1v17.0zM187.0 548.1v-17.0h1.1v17.0zM201.6 548.1v-17.0h1.1v17.0zM204.1 548.1v-13.2h1.1v13.2zM212.9 548.1v-8.7h1.1v8.7zM218.0 548.1v-17.0h1.1v17.0zM219.5 548.1v-17.0h1.1v17.0zM220.9 548.1v-17.0h1.1v17.0zM222.5 548.1v-17.0h1.1v17.0zM229.1 548.1v-17.0h1.1v17.0zM230.8 548.1v-17.0h1.1v17.0zM231.8 548.1v-17.0h1.1v17.0zM246.2 548.1v-17.0h1.1v17.0zM248.2 548.1v-17.0h1.1v17.0zM257.1 548.1v-13.5h1.1v13.5zM262.6 548.1v-17.0h1.1v17.0zM264.2 548.1v-17.0h1.1v17.0zM265.8 548.1v-17.0h1.1v17.0zM267.8 548.1v-10.2h1.1v10.2zM271.8 548.1v-17.0h1.1v17.0zM273.3 548.1v-17.0h1.1v17.0zM274.9 548.1v-7.0h1.1v7.0zM276.1 548.1v-17.0h1.1v17.0zM285.8 548.1v-17.0h1.1v17.0zM287.9 548.1v-17.0h1.1v17.0zM289.6 548.1v-9.8h1.1v9.8zM298.8 548.1v-17.0h1.1v17.0zM300.6 548.1v-17.0h1.1v17.0zM302.2 548.1v-17.0h1.1v17.0zM303.9 548.1v-17.0h1.1v17.0zM311.6 548.1v-17.0h1.1v17.0zM319.1 548.1v-17.0h1.1v17.0zM320.8 548.1v-17.0h1.1v17.0zM322.4 548.1v-17.0h1.1v17.0zM327.9 548.1v-17.0h1.1v17.0zM330.1 548.1v-17.0h1.1v17.0zM332.1 548.1v-17.0h1.1v17.0zM334.1 548.1v-17.0h1.1v17.0zM335.6 548.1v-17.0h1.1v17.0zM336.8 548.1v-17.0h1.1v17.0zM345.4 548.1v-17.0h1.1v17.0zM348.4 548.1v-17.0h1.1v17.0zM352.6 548.1v-17.0h1.1v17.0zM354.6 548.1v-17.0h1.1v17.0zM357.8 548.1v-17.0h1.1v17.0zM359.8 548.1v-17.0h1.1v17.0zM361.8 548.1v-17.0h1.1v17.0zM363.1 548.1v-17.0h1.1v17.0zM364.3 548.1v-17.0h1.1v17.0zM365.6 548.1v-8.9h1.1v8.9zM366.8 548.1v-17.0h1.1v17.0zM368.1 548.1v-17.0h1.1v17.0zM369.3 548.1v-17.0h1.1v17.0zM370.6 548.1v-17.0h1.1v17.0zM371.8 548.1v-17.0h1.1v17.0zM377.2 548.1v-17.0h1.1v17.0zM382.3 548.1v-17.0h1.1v17.0zM387.4 548.1v-14.6h1.1v14.6zM388.5 548.1v-16.7h1.1v16.7zM389.6 548.1v-15.9h1.1v15.9zM390.6 548.1v-16.8h1.1v16.8zM391.6 548.1v-15.8h1.1v15.8zM392.7 548.1v-15.1h1.1v15.1zM393.8 548.1v-13.8h1.1v13.8zM394.8 548.1v-14.7h1.1v14.7zM395.8 548.1v-14.6h1.1v14.6zM396.9 548.1v-15.0h1.1v15.0zM397.9 548.1v-14.2h1.1v14.2zM400.8 548.1v-14.4h1.1v14.4zM401.9 548.1v-14.8h1.1v14.8zM402.9 548.1v-14.1h1.1v14.1zM404.0 548.1v-16.0h1.1v16.0zM405.1 548.1v-16.0h1.1v16.0zM406.1 548.1v-14.9h1.1v14.9zM407.1 548.1v-13.8h1.1v13.8zM408.2 548.1v-14.8h1.1v14.8zM409.2 548.1v-12.7h1.1v12.7zM410.3 548.1v-10.9h1.1v10.9zM411.3 548.1v-9.4h1.1v9.4zM412.4 548.1v-7.5h1.1v7.5zM413.4 548.1v-5.8h1.1v5.8zM416.9 548.1v-2.4h1.1v2.4zM422.9 548.1v-3.1h1.1v3.1zM426.1 548.1v-17.0h1.1v17.0zM427.6 548.1v-7.2h1.1v7.2zM429.1 548.1v-17.0h1.1v17.0zM430.6 548.1v-17.0h1.1v17.0zM432.1 548.1v-17.0h1.1v17.0zM433.6 548.1v-17.0h1.1v17.0zM435.1 548.1v-8.2h1.1v8.2zM436.6 548.1v-17.0h1.1v17.0zM438.1 548.1v-17.0h1.1v17.0zM440.4 548.1v-17.0h1.1v17.0zM442.1 548.1v-17.0h1.1v17.0zM443.8 548.1v-17.0h1.1v17.0zM445.6 548.1v-17.0h1.1v17.0zM447.2 548.1v-17.0h1.1v17.0zM448.9 548.1v-17.0h1.1v17.0zM453.8 548.1v-17.0h1.1v17.0zM455.9 548.1v-17.0h1.1v17.0zM461.1 548.1v-17.0h1.1v17.0zM462.3 548.1v-17.0h1.1v17.0zM463.6 548.1v-17.0h1.1v17.0zM464.9 548.1v-15.9h1.1v15.9zM473.8 548.1v-17.0h1.1v17.0zM484.1 548.1v-17.0h1.1v17.0zM491.2 548.1v-9.7h1.1v9.7zM492.8 548.1v-17.0h1.1v17.0zM496.3 548.1v-17.0h1.1v17.0zM497.6 548.1v-17.0h1.1v17.0zM498.8 548.1v-14.5h1.1v14.5zM499.9 548.1v-17.0h1.1v17.0zM519.2 548.1v-17.0h1.1v17.0zM521.0 548.1v-17.0h1.1v17.0zM530.2 548.1v-17.0h1.1v17.0zM532.9 548.1v-17.0h1.1v17.0zM535.4 548.1v-17.0h1.1v17.0zM538.1 548.1v-17.0h1.1v17.0zM539.8 548.1v-17.0h1.1v17.0zM541.2 548.1v-17.0h1.1v17.0zM542.8 548.1v-17.0h1.1v17.0zM544.2 548.1v-17.0h1.1v17.0zM545.8 548.1v-17.0h1.1v17.0zM550.0 548.1v-17.0h1.1v17.0zM551.1 548.1v-17.0h1.1v17.0zM552.2 548.1v-17.0h1.1v17.0zM553.4 548.1v-17.0h1.1v17.0zM554.6 548.1v-17.0h1.1v17.0zM555.7 548.1v-17.0h1.1v17.0zM556.9 548.1v-17.0h1.1v17.0zM558.0 548.1v-17.0h1.1v17.0zM559.2 548.1v-17.0h1.1v17.0zM560.3 548.1v-17.0h1.1v17.0zM565.5 548.1v-17.0h1.1v17.0zM566.7 548.1v-14.9h1.1v14.9zM567.9 548.1v-17.0h1.1v17.0zM569.1 548.1v-17.0h1.1v17.0zM573.0 548.1v-17.0h1.1v17.0zM574.7 548.1v-10.5h1.1v10.5zM580.8 548.1v-17.0h1.1v17.0zM582.5 548.1v-17.0h1.1v17.0zM588.0 548.1v-17.0h1.1v17.0zM593.1 548.1v-17.0h1.1v17.0zM595.2 548.1v-17.0h1.1v17.0zM598.9 548.1v-17.0h1.1v17.0zM600.2 548.1v-14.5h1.1v14.5zM605.9 548.1v-17.0h1.1v17.0zM607.5 548.1v-17.0h1.1v17.0zM620.5 548.1v-17.0h1.1v17.0zM626.0 548.1v-17.0h1.1v17.0zM627.5 548.1v-14.3h1.1v14.3zM632.8 548.1v-17.0h1.1v17.0zM640.0 548.1v-17.0h1.1v17.0zM642.5 548.1v-17.0h1.1v17.0zM649.2 548.1v-17.0h1.1v17.0zM651.7 548.1v-17.0h1.1v17.0zM655.1 548.1v-17.0h1.1v17.0zM656.7 548.1v-17.0h1.1v17.0zM660.9 548.1v-15.9h1.1v15.9zM662.1 548.1v-17.0h1.1v17.0zM663.2 548.1v-17.0h1.1v17.0zM664.5 548.1v-17.0h1.1v17.0z" fill="#ee6a66"/>
<path d="M146.8 569.6v-19.0h1.1v19.0zM148.5 569.6v-19.0h1.1v19.0zM152.8 569.6v-17.9h1.1v17.9zM154.8 569.6v-19.0h1.1v19.0zM156.2 569.6v-19.0h1.1v19.0zM157.9 569.6v-19.0h1.1v19.0zM159.3 569.6v-19.0h1.1v19.0zM163.0 569.6v-19.0h1.1v19.0zM168.8 569.6v-19.0h1.1v19.0zM171.2 569.6v-8.9h1.1v8.9zM187.0 569.6v-19.0h1.1v19.0zM201.6 569.6v-19.0h1.1v19.0zM204.1 569.6v-19.0h1.1v19.0zM212.9 569.6v-19.0h1.1v19.0zM218.0 569.6v-19.0h1.1v19.0zM219.5 569.6v-19.0h1.1v19.0zM220.9 569.6v-16.4h1.1v16.4zM222.5 569.6v-19.0h1.1v19.0zM229.1 569.6v-19.0h1.1v19.0zM230.8 569.6v-19.0h1.1v19.0zM231.8 569.6v-19.0h1.1v19.0zM246.2 569.6v-11.7h1.1v11.7zM248.2 569.6v-19.0h1.1v19.0zM257.1 569.6v-19.0h1.1v19.0zM262.6 569.6v-9.1h1.1v9.1zM264.2 569.6v-19.0h1.1v19.0zM265.8 569.6v-19.0h1.1v19.0zM267.8 569.6v-10.2h1.1v10.2zM271.8 569.6v-19.0h1.1v19.0zM273.3 569.6v-19.0h1.1v19.0zM274.9 569.6v-19.0h1.1v19.0zM276.1 569.6v-19.0h1.1v19.0zM285.8 569.6v-19.0h1.1v19.0zM287.9 569.6v-19.0h1.1v19.0zM289.6 569.6v-19.0h1.1v19.0zM298.8 569.6v-19.0h1.1v19.0zM300.6 569.6v-19.0h1.1v19.0zM302.2 569.6v-19.0h1.1v19.0zM303.9 569.6v-19.0h1.1v19.0zM311.6 569.6v-19.0h1.1v19.0zM319.1 569.6v-19.0h1.1v19.0zM320.8 569.6v-19.0h1.1v19.0zM322.4 569.6v-10.8h1.1v10.8zM327.9 569.6v-19.0h1.1v19.0zM330.1 569.6v-19.0h1.1v19.0zM332.1 569.6v-19.0h1.1v19.0zM334.1 569.6v-9.7h1.1v9.7zM335.6 569.6v-12.7h1.1v12.7zM336.8 569.6v-19.0h1.1v19.0zM345.4 569.6v-11.7h1.1v11.7zM348.4 569.6v-19.0h1.1v19.0zM352.6 569.6v-19.0h1.1v19.0zM354.6 569.6v-19.0h1.1v19.0zM357.8 569.6v-19.0h1.1v19.0zM359.8 569.6v-19.0h1.1v19.0zM361.8 569.6v-16.6h1.1v16.6zM363.1 569.6v-12.2h1.1v12.2zM364.3 569.6v-15.2h1.1v15.2zM365.6 569.6v-19.0h1.1v19.0zM366.8 569.6v-19.0h1.1v19.0zM368.1 569.6v-19.0h1.1v19.0zM369.3 569.6v-19.0h1.1v19.0zM370.6 569.6v-19.0h1.1v19.0zM371.8 569.6v-19.0h1.1v19.0zM377.2 569.6v-19.0h1.1v19.0zM382.3 569.6v-19.0h1.1v19.0zM387.4 569.6v-15.2h1.1v15.2zM388.5 569.6v-18.8h1.1v18.8zM389.6 569.6v-17.2h1.1v17.2zM390.6 569.6v-18.0h1.1v18.0zM391.6 569.6v-18.3h1.1v18.3zM392.7 569.6v-18.9h1.1v18.9zM393.8 569.6v-18.8h1.1v18.8zM394.8 569.6v-17.9h1.1v17.9zM395.8 569.6v-18.7h1.1v18.7zM396.9 569.6v-17.4h1.1v17.4zM397.9 569.6v-16.7h1.1v16.7zM400.8 569.6v-17.7h1.1v17.7zM401.9 569.6v-17.6h1.1v17.6zM402.9 569.6v-16.3h1.1v16.3zM404.0 569.6v-15.6h1.1v15.6zM405.1 569.6v-18.0h1.1v18.0zM406.1 569.6v-18.0h1.1v18.0zM407.1 569.6v-17.8h1.1v17.8zM408.2 569.6v-15.9h1.1v15.9zM409.2 569.6v-13.7h1.1v13.7zM410.3 569.6v-12.2h1.1v12.2zM411.3 569.6v-10.0h1.1v10.0zM412.4 569.6v-7.9h1.1v7.9zM413.4 569.6v-6.0h1.1v6.0zM416.9 569.6v-1.5h1.1v1.5zM419.8 569.6v-3.7h1.1v3.7zM426.1 569.6v-19.0h1.1v19.0zM427.6 569.6v-9.1h1.1v9.1zM429.1 569.6v-19.0h1.1v19.0zM430.6 569.6v-19.0h1.1v19.0zM432.1 569.6v-19.0h1.1v19.0zM433.6 569.6v-19.0h1.1v19.0zM435.1 569.6v-19.0h1.1v19.0zM436.6 569.6v-16.5h1.1v16.5zM438.1 569.6v-19.0h1.1v19.0zM440.4 569.6v-19.0h1.1v19.0zM442.1 569.6v-19.0h1.1v19.0zM443.8 569.6v-19.0h1.1v19.0zM445.6 569.6v-14.8h1.1v14.8zM447.2 569.6v-19.0h1.1v19.0zM448.9 569.6v-19.0h1.1v19.0zM453.8 569.6v-19.0h1.1v19.0zM455.9 569.6v-19.0h1.1v19.0zM461.1 569.6v-19.0h1.1v19.0zM462.3 569.6v-19.0h1.1v19.0zM463.6 569.6v-19.0h1.1v19.0zM464.9 569.6v-19.0h1.1v19.0zM473.8 569.6v-19.0h1.1v19.0zM484.1 569.6v-19.0h1.1v19.0zM491.2 569.6v-19.0h1.1v19.0zM492.8 569.6v-19.0h1.1v19.0zM496.3 569.6v-19.0h1.1v19.0zM497.6 569.6v-9.2h1.1v9.2zM498.8 569.6v-19.0h1.1v19.0zM499.9 569.6v-15.3h1.1v15.3zM519.2 569.6v-19.0h1.1v19.0zM521.0 569.6v-19.0h1.1v19.0zM530.2 569.6v-11.8h1.1v11.8zM532.9 569.6v-8.9h1.1v8.9zM535.4 569.6v-12.7h1.1v12.7zM538.1 569.6v-19.0h1.1v19.0zM539.8 569.6v-14.4h1.1v14.4zM541.2 569.6v-16.3h1.1v16.3zM542.8 569.6v-12.9h1.1v12.9zM544.2 569.6v-8.3h1.1v8.3zM545.8 569.6v-15.0h1.1v15.0zM550.0 569.6v-19.0h1.1v19.0zM551.1 569.6v-12.3h1.1v12.3zM552.2 569.6v-19.0h1.1v19.0zM553.4 569.6v-9.6h1.1v9.6zM554.6 569.6v-19.0h1.1v19.0zM555.7 569.6v-19.0h1.1v19.0zM556.9 569.6v-19.0h1.1v19.0zM558.0 569.6v-19.0h1.1v19.0zM559.2 569.6v-12.7h1.1v12.7zM560.3 569.6v-19.0h1.1v19.0zM565.5 569.6v-16.5h1.1v16.5zM566.7 569.6v-19.0h1.1v19.0zM567.9 569.6v-19.0h1.1v19.0zM569.1 569.6v-15.9h1.1v15.9zM573.0 569.6v-19.0h1.1v19.0zM574.7 569.6v-19.0h1.1v19.0zM580.8 569.6v-19.0h1.1v19.0zM582.5 569.6v-19.0h1.1v19.0zM588.0 569.6v-19.0h1.1v19.0zM593.1 569.6v-16.3h1.1v16.3zM595.2 569.6v-19.0h1.1v19.0zM598.9 569.6v-19.0h1.1v19.0zM600.2 569.6v-19.0h1.1v19.0zM605.9 569.6v-14.0h1.1v14.0zM607.5 569.6v-8.4h1.1v8.4zM620.5 569.6v-9.8h1.1v9.8zM626.0 569.6v-19.0h1.1v19.0zM627.5 569.6v-15.2h1.1v15.2zM632.8 569.6v-19.0h1.1v19.0zM640.0 569.6v-19.0h1.1v19.0zM642.5 569.6v-19.0h1.1v19.0zM649.2 569.6v-19.0h1.1v19.0zM651.7 569.6v-19.0h1.1v19.0zM655.1 569.6v-19.0h1.1v19.0zM656.7 569.6v-19.0h1.1v19.0zM660.9 569.6v-19.0h1.1v19.0zM662.1 569.6v-19.0h1.1v19.0zM663.2 569.6v-19.0h1.1v19.0zM664.5 569.6v-19.0h1.1v19.0z" fill="#ee6a66"/>
<rect x="72" y="367" width="604.6" height="203.0" fill="none" stroke="#484848" stroke-width="0.85"/>
<circle cx="41" cy="607.5" r="5.2" fill="#3b55ae"/>
<text x="54.5" y="612.2" font-size="13" fill="#111">Chromatin accessibility</text>
<rect x="107" y="636.8" width="555.2" height="22.6" fill="#f6f7f8"/>
<text x="75.5" y="651.6999999999999" font-size="10.6" fill="#333" textLength="25.2" lengthAdjust="spacingAndGlyphs">Tools:</text>
<rect x="107" y="636.8" width="26.2" height="22.6" rx="2.6" fill="#3f7bc6"/>
<g transform="translate(120.3 648.6999999999999) scale(0.87 0.957)"><path d="M-3.7 3.8 C-4.6 1.5 -4.6 -1 -4.3 -2.4 C-4 -4.2 -2.6 -4.9 -1 -4.9 C0.8 -4.9 1.8 -4 1.9 -2.2 C3 -2.6 4.6 -2 4.5 -0.6 C4.4 1 3 2.4 1.6 3.9 C0.6 5 -2.6 5.2 -3.7 3.8 Z" fill="#f6c344" stroke="#3a3320" stroke-width="0.9" stroke-linejoin="round"/></g>
<rect x="142.2" y="642.9999999999999" width="10.7" height="10.7" fill="#2d72b8" stroke="#1b467a" stroke-width="0.8"/>
<path d="M144.0 645.9999999999999 h1.8 l3.6 4.7 h1.6 M144.0 650.6999999999999 h1.8 l3.6 -4.7 h1.6 M150.1 644.6999999999999 l1.3 1.3 l-1.3 1.3 M150.1 649.3999999999999 l1.3 1.3 l-1.3 1.3" stroke="#fff" stroke-width="0.95" fill="none"/>
<rect x="170.6" y="644.9999999999999" width="6.2" height="6.4" fill="#fff" stroke="#a8a8a8" stroke-width="0.6"/>
<circle cx="182.6" cy="646.0999999999999" r="3.3" fill="#b5d5ee" stroke="#565c64" stroke-width="1"/>
<path d="M185.2 648.8999999999999 l3.9 3.9" stroke="#4c5158" stroke-width="2.2" stroke-linecap="round"/>
<path d="M192.4 648.4999999999999 h4.4 M194.6 646.2999999999998 v4.4" stroke="#555" stroke-width="0.8"/>
<rect x="206.6" y="636.8" width="143.4" height="22.6" rx="2.6" fill="#6c757d"/>
<text x="278.3" y="651.8" font-size="10.2" text-anchor="middle" fill="#fff" textLength="128" lengthAdjust="spacingAndGlyphs">chr3:186855180-186859659</text>
<rect x="359.0" y="642.9999999999999" width="10.8" height="10.8" fill="#2d72b8" stroke="#1b467a" stroke-width="0.8"/>
<path d="M362.2 650.3999999999999 v-3.4 q0 -0.9 0.9 -0.9 h2.6 M366.6 646.3999999999999 v3.4 q0 0.9 -0.9 0.9 h-2.6 M360.9 649.1999999999999 l1.3 1.4 l1.3 -1.4 M365.3 647.5999999999999 l1.3 -1.4 l1.3 1.4" stroke="#fff" stroke-width="0.85" fill="none"/>
<rect x="379.8" y="637.0999999999999" width="22.2" height="22.6" rx="2.6" fill="#fff" stroke="#7a7a7a" stroke-width="0.8"/>
<path d="M394.29999999999995 644.9999999999999 v6.6 l-6.2 -3.3 z" fill="#222"/>
<rect x="403" y="637.0999999999999" width="24.0" height="22.6" rx="2.6" fill="#fff" stroke="#7a7a7a" stroke-width="0.8"/>
<text x="415.0" y="651.3999999999999" font-size="9.4" text-anchor="middle" fill="#939393" style="font-family:'Liberation Serif',serif">+5</text>
<rect x="427.8" y="637.0999999999999" width="24.6" height="22.6" rx="2.6" fill="#fff" stroke="#7a7a7a" stroke-width="0.8"/>
<text x="440.1" y="651.3999999999999" font-size="9.4" text-anchor="middle" fill="#939393" style="font-family:'Liberation Serif',serif">+1</text>
<rect x="453.2" y="637.0999999999999" width="29.2" height="22.6" rx="2.6" fill="#fff" stroke="#7a7a7a" stroke-width="0.8"/>
<text x="467.79999999999995" y="651.3999999999999" font-size="9.4" text-anchor="middle" fill="#939393" style="font-family:'Liberation Serif',serif">+<tspan font-size="12.6">⅓</tspan></text>
<rect x="483.2" y="637.0999999999999" width="28.6" height="22.6" rx="2.6" fill="#fff" stroke="#7a7a7a" stroke-width="0.8"/>
<text x="497.5" y="651.3999999999999" font-size="9.4" text-anchor="middle" fill="#939393" style="font-family:'Liberation Serif',serif">−<tspan font-size="12.6">⅓</tspan></text>
<rect x="512.8" y="637.0999999999999" width="25.0" height="22.6" rx="2.6" fill="#fff" stroke="#7a7a7a" stroke-width="0.8"/>
<text x="525.3" y="651.3999999999999" font-size="9.4" text-anchor="middle" fill="#939393" style="font-family:'Liberation Serif',serif">−1</text>
<rect x="538.6" y="637.0999999999999" width="23.8" height="22.6" rx="2.6" fill="#fff" stroke="#7a7a7a" stroke-width="0.8"/>
<text x="550.5" y="651.3999999999999" font-size="9.4" text-anchor="middle" fill="#939393" style="font-family:'Liberation Serif',serif">−5</text>
<rect x="563.2" y="637.0999999999999" width="23.4" height="22.6" rx="2.6" fill="#fff" stroke="#7a7a7a" stroke-width="0.8"/>
<path d="M571.3000000000001 644.9999999999999 v6.6 l6.4 -3.3 z" fill="#222"/>
<g transform="translate(599.0 648.8999999999999) scale(1 1)"><path d="M-2.1 -2.1 A3 3 0 1 1 -3 0.4" fill="none" stroke="#3a3a3a" stroke-width="0.8"/><path d="M-3.7 -3.6 L-0.9 -3.2 L-3.1 -0.9 Z" fill="#3a3a3a"/></g>
<g transform="translate(624.0999999999999 648.8999999999999) scale(-1 1)"><path d="M-2.1 -2.1 A3 3 0 1 1 -3 0.4" fill="none" stroke="#8a8a8a" stroke-width="0.8"/><path d="M-3.7 -3.6 L-0.9 -3.2 L-3.1 -0.9 Z" fill="#8a8a8a"/></g>
<rect x="644.8000000000001" y="643.3" width="8.7" height="10.2" rx="0.8" fill="#2fb24c" stroke="#1f2a1f" stroke-width="0.9"/>
<rect x="645.7" y="650.9" width="6.9" height="1.6" fill="#cfeed6"/>
<text y="678" font-size="11.2" fill="#222" font-style="italic"><tspan x="75.9" textLength="128.7" lengthAdjust="spacingAndGlyphs">Viewing a 4480 bp region in</tspan> <tspan x="208.6" textLength="114.8" lengthAdjust="spacingAndGlyphs">880px, 1 pixel spans 5 bp</tspan></text>
<rect x="329" y="668.3" width="51.4" height="11.1" rx="2" fill="#28a745"/>
<text x="354.7" y="676.8" font-size="9.4" text-anchor="middle" fill="#fff" textLength="44.89999999999998" lengthAdjust="spacingAndGlyphs">Metadata »</text>
<text x="669.4" y="660" font-size="8.4" fill="#222" transform="rotate(90 669.4 660)" textLength="25.5" lengthAdjust="spacingAndGlyphs">Sample</text>
<rect x="75.5" y="688.5" width="600.9" height="198.0" fill="#fff"/>
<rect x="149" y="745" width="195.5" height="60.0" fill="#dadada"/>
<rect x="389.1" y="745" width="125.9" height="60.0" fill="#dadada"/>
<rect x="570.8" y="745" width="95.6" height="60.0" fill="#dadada"/>
<path d="M75.5 699H676.4M75.5 725.5H676.4M75.5 745H676.4M75.5 765H676.4M75.5 785H676.4M75.5 805H676.4M75.5 825H676.4M75.5 844.5H676.4M75.5 864H676.4" stroke="#c8c8c8" stroke-width="0.7" fill="none"/>
<path d="M667.3 688.5V886.5" stroke="#c4c4c4" stroke-width="0.7"/>
<rect x="667.5" y="726.1" width="8.5" height="18.6" fill="#b06040"/>
<rect x="667.5" y="745.6" width="8.5" height="19.1" fill="#380830"/>
<rect x="667.5" y="765.6" width="8.5" height="19.1" fill="#e068b8"/>
<rect x="667.5" y="785.6" width="8.5" height="19.1" fill="#58c038"/>
<rect x="667.5" y="805.6" width="8.5" height="19.1" fill="#b4dcc4"/>
<rect x="667.5" y="825.6" width="8.5" height="18.6" fill="#688068"/>
<rect x="667.5" y="845.1" width="8.5" height="18.6" fill="#c09030"/>
<rect x="667.5" y="864.6" width="8.5" height="21.6" fill="#6cc860"/>
<text x="77.5" y="696" font-size="7.6" fill="#333" textLength="26.5" lengthAdjust="spacingAndGlyphs">refGene</text>
<text x="77.5" y="707" font-size="7.6" fill="#333" textLength="17" lengthAdjust="spacingAndGlyphs">Ruler</text>
<path d="M148.5 693.2H400.2" stroke="#3b4fa0" stroke-width="0.9"/>
<rect x="363" y="691.7" width="37.2" height="3" fill="#3b4fa0"/>
<path d="M153.6 691.1l-2.4 2.1l2.4 2.1M160.8 691.1l-2.4 2.1l2.4 2.1M168.0 691.1l-2.4 2.1l2.4 2.1M175.2 691.1l-2.4 2.1l2.4 2.1M182.4 691.1l-2.4 2.1l2.4 2.1M189.6 691.1l-2.4 2.1l2.4 2.1M196.8 691.1l-2.4 2.1l2.4 2.1M204.0 691.1l-2.4 2.1l2.4 2.1M211.2 691.1l-2.4 2.1l2.4 2.1M218.4 691.1l-2.4 2.1l2.4 2.1M225.6 691.1l-2.4 2.1l2.4 2.1M232.8 691.1l-2.4 2.1l2.4 2.1M240.0 691.1l-2.4 2.1l2.4 2.1M247.2 691.1l-2.4 2.1l2.4 2.1M254.4 691.1l-2.4 2.1l2.4 2.1M261.6 691.1l-2.4 2.1l2.4 2.1M268.8 691.1l-2.4 2.1l2.4 2.1M276.0 691.1l-2.4 2.1l2.4 2.1M283.2 691.1l-2.4 2.1l2.4 2.1M290.4 691.1l-2.4 2.1l2.4 2.1M297.6 691.1l-2.4 2.1l2.4 2.1M304.8 691.1l-2.4 2.1l2.4 2.1M312.0 691.1l-2.4 2.1l2.4 2.1M319.2 691.1l-2.4 2.1l2.4 2.1M326.4 691.1l-2.4 2.1l2.4 2.1M333.6 691.1l-2.4 2.1l2.4 2.1M340.8 691.1l-2.4 2.1l2.4 2.1M348.0 691.1l-2.4 2.1l2.4 2.1M355.2 691.1l-2.4 2.1l2.4 2.1" stroke="#3b4fa0" stroke-width="1" fill="none"/>
<text x="403.4" y="695.9000000000001" font-size="7.6" fill="#3b4fa0" textLength="27.5" lengthAdjust="spacingAndGlyphs">RPL39L</text>
<path d="M149 703.5H666.8" stroke="#b0b0b0" stroke-width="0.8"/>
<path d="M149 712.7H666.8" stroke="#d4d4d4" stroke-width="0.7"/>
<path d="M151.1 709.7v3M163.0 709.7v3M174.8 709.7v3M186.6 709.7v3M198.4 709.7v3M210.2 709.7v3M222.1 709.7v3M233.9 709.7v3M257.5 709.7v3M269.3 709.7v3M281.2 709.7v3M293.0 709.7v3M304.8 709.7v3M316.6 709.7v3M328.4 709.7v3M340.3 709.7v3M352.1 709.7v3M375.7 709.7v3M387.5 709.7v3M399.4 709.7v3M411.2 709.7v3M423.0 709.7v3M434.8 709.7v3M446.6 709.7v3M458.5 709.7v3M470.3 709.7v3M493.9 709.7v3M505.7 709.7v3M517.6 709.7v3M529.4 709.7v3M541.2 709.7v3M553.0 709.7v3M564.8 709.7v3M576.7 709.7v3M588.5 709.7v3M612.1 709.7v3M623.9 709.7v3M635.8 709.7v3M647.6 709.7v3M659.4 709.7v3" stroke="#a0a0a0" stroke-width="0.7"/>
<path d="M245.7 706.5v6.2M363.8 706.5v6.2M482.0 706.5v6.2M600.2 706.5v6.2" stroke="#666" stroke-width="0.8"/>
<text x="245.7" y="721.9" font-size="6.6" text-anchor="middle" fill="#222" textLength="37.5" lengthAdjust="spacingAndGlyphs">186856000</text>
<text x="363.8" y="721.9" font-size="6.6" text-anchor="middle" fill="#222" textLength="37.5" lengthAdjust="spacingAndGlyphs">186857000</text>
<text x="482" y="721.9" font-size="6.6" text-anchor="middle" fill="#222" textLength="37.5" lengthAdjust="spacingAndGlyphs">186858000</text>
<text x="600.2" y="721.9" font-size="6.6" text-anchor="middle" fill="#222" textLength="37.5" lengthAdjust="spacingAndGlyphs">186859000</text>
<text x="148" y="722.7" font-size="6.8" text-anchor="end" fill="#333" textLength="13.6" lengthAdjust="spacingAndGlyphs">chr3</text>
<text x="404" y="710.5" font-size="6.2" fill="#333" textLength="15.4" lengthAdjust="spacingAndGlyphs">q27.3</text>
<text x="105" y="739.95" font-size="8.3" text-anchor="middle" fill="#222">GO</text>
<text x="143.4" y="730.9" font-size="6.2" text-anchor="end" fill="#333">1.0</text>
<text x="143.4" y="744.4" font-size="6.2" text-anchor="end" fill="#333">0.0</text>
<path d="M145.1 727.7H148.2V744.4H145.1" stroke="#222" stroke-width="0.95" fill="none"/>
<text x="105" y="758.45" font-size="8.3" text-anchor="middle" fill="#222">FGO</text>
<text x="143.4" y="750.4" font-size="6.2" text-anchor="end" fill="#333">1.0</text>
<text x="143.4" y="764.4" font-size="6.2" text-anchor="end" fill="#333">0.0</text>
<path d="M145.1 747.2H148.2V764.4H145.1" stroke="#222" stroke-width="0.95" fill="none"/>
<text x="105" y="777.85" font-size="8.3" text-anchor="middle" fill="#222">MI</text>
<text x="143.4" y="770.4" font-size="6.2" text-anchor="end" fill="#333">1.0</text>
<text x="143.4" y="784.4" font-size="6.2" text-anchor="end" fill="#333">0.0</text>
<path d="M145.1 767.2H148.2V784.4H145.1" stroke="#222" stroke-width="0.95" fill="none"/>
<text x="105" y="798.85" font-size="8.3" text-anchor="middle" fill="#222">MII</text>
<text x="143.4" y="790.4" font-size="6.2" text-anchor="end" fill="#333">1.0</text>
<text x="143.4" y="804.4" font-size="6.2" text-anchor="end" fill="#333">0.0</text>
<path d="M145.1 787.2H148.2V804.4H145.1" stroke="#222" stroke-width="0.95" fill="none"/>
<text x="105" y="816.75" font-size="8.3" text-anchor="middle" fill="#222">Granulosa</text>
<text x="143.4" y="810.4" font-size="6.2" text-anchor="end" fill="#333">1.0</text>
<text x="143.4" y="824.4" font-size="6.2" text-anchor="end" fill="#333">0.0</text>
<path d="M145.1 807.2H148.2V824.4H145.1" stroke="#222" stroke-width="0.95" fill="none"/>
<text x="105" y="835.95" font-size="8.3" text-anchor="middle" fill="#222">Stroma_C1</text>
<text x="143.4" y="830.4" font-size="6.2" text-anchor="end" fill="#333">1.0</text>
<text x="143.4" y="843.9" font-size="6.2" text-anchor="end" fill="#333">0.0</text>
<path d="M145.1 827.2H148.2V843.9H145.1" stroke="#222" stroke-width="0.95" fill="none"/>
<text x="105" y="855.85" font-size="8.3" text-anchor="middle" fill="#222">Stroma_C2</text>
<text x="143.4" y="849.9" font-size="6.2" text-anchor="end" fill="#333">1.0</text>
<text x="143.4" y="863.4" font-size="6.2" text-anchor="end" fill="#333">0.0</text>
<path d="M145.1 846.7H148.2V863.4H145.1" stroke="#222" stroke-width="0.95" fill="none"/>
<text x="105" y="877.85" font-size="8.3" text-anchor="middle" fill="#222">Immune</text>
<text x="143.4" y="869.4" font-size="6.2" text-anchor="end" fill="#333">1.0</text>
<text x="143.4" y="885.9" font-size="6.2" text-anchor="end" fill="#333">0.0</text>
<path d="M145.1 866.2H148.2V885.9H145.1" stroke="#222" stroke-width="0.95" fill="none"/>
<path d="M62.5 726V803M62.5 813V889" stroke="#333" stroke-width="1"/>
<text x="35.8" y="768" font-size="10.5" text-anchor="middle" fill="#111">Oocyte</text>
<text x="38.8" y="849.8" font-size="10.4" text-anchor="middle" fill="#111">Soma</text>
<path d="M149.3 744.6v-9.1h0.95v9.1zM150.2 744.6v-9.2h0.95v9.2zM151.1 744.6v-9.0h0.95v9.0zM154.4 744.6v-1.8h0.95v1.8zM155.3 744.6v-7.8h0.95v7.8zM156.2 744.6v-0.6h0.95v0.6zM157.1 744.6v-7.7h0.95v7.7zM158.0 744.6v-6.3h0.95v6.3zM158.9 744.6v-2.1h0.95v2.1zM159.8 744.6v-4.8h0.95v4.8zM164.6 744.6v-5.1h0.95v5.1zM165.5 744.6v-3.0h0.95v3.0zM166.4 744.6v-9.6h0.95v9.6zM167.3 744.6v-12.0h0.95v12.0zM168.2 744.6v-10.8h0.95v10.8zM169.1 744.6v-9.2h0.95v9.2zM170.0 744.6v-6.8h0.95v6.8zM170.9 744.6v-1.8h0.95v1.8zM175.9 744.6v-5.1h0.95v5.1zM176.8 744.6v-4.8h0.95v4.8zM177.7 744.6v-4.4h0.95v4.4zM181.1 744.6v-3.6h0.95v3.6zM182.0 744.6v-0.8h0.95v0.8zM182.9 744.6v-6.2h0.95v6.2zM183.8 744.6v-0.3h0.95v0.3zM184.7 744.6v-0.7h0.95v0.7zM185.6 744.6v-8.9h0.95v8.9zM186.5 744.6v-5.9h0.95v5.9zM187.4 744.6v-3.9h0.95v3.9zM191.3 744.6v-3.7h0.95v3.7zM192.2 744.6v-4.1h0.95v4.1zM193.1 744.6v-7.1h0.95v7.1zM194.0 744.6v-5.6h0.95v5.6zM194.9 744.6v-7.7h0.95v7.7zM195.8 744.6v-6.5h0.95v6.5zM196.7 744.6v-1.7h0.95v1.7zM203.6 744.6v-1.9h0.95v1.9zM204.5 744.6v-3.8h0.95v3.8zM205.4 744.6v-11.7h0.95v11.7zM206.3 744.6v-12.9h0.95v12.9zM207.2 744.6v-14.1h0.95v14.1zM208.1 744.6v-10.4h0.95v10.4zM209.0 744.6v-10.9h0.95v10.9zM209.9 744.6v-8.9h0.95v8.9zM210.8 744.6v-9.7h0.95v9.7zM211.7 744.6v-14.4h0.95v14.4zM212.6 744.6v-8.3h0.95v8.3zM213.5 744.6v-8.1h0.95v8.1zM214.4 744.6v-10.6h0.95v10.6zM215.3 744.6v-7.3h0.95v7.3zM216.2 744.6v-5.4h0.95v5.4zM219.0 744.6v-13.3h0.95v13.3zM219.9 744.6v-14.3h0.95v14.3zM222.7 744.6v-16.9h0.95v16.9zM223.6 744.6v-17.0h0.95v17.0zM225.8 744.6v-2.7h0.95v2.7zM226.7 744.6v-2.5h0.95v2.5zM240.6 744.6v-11.9h0.95v11.9zM241.5 744.6v-12.0h0.95v12.0zM243.7 744.6v-4.4h0.95v4.4zM244.6 744.6v-6.9h0.95v6.9zM245.5 744.6v-8.9h0.95v8.9zM246.4 744.6v-11.5h0.95v11.5zM247.3 744.6v-2.1h0.95v2.1zM248.2 744.6v-11.1h0.95v11.1zM249.1 744.6v-9.2h0.95v9.2zM250.0 744.6v-8.0h0.95v8.0zM250.9 744.6v-10.3h0.95v10.3zM251.8 744.6v-9.6h0.95v9.6zM252.7 744.6v-7.8h0.95v7.8zM253.6 744.6v-4.6h0.95v4.6zM254.5 744.6v-5.1h0.95v5.1zM257.0 744.6v-7.0h0.95v7.0zM257.9 744.6v-16.7h0.95v16.7zM258.8 744.6v-3.6h0.95v3.6zM259.7 744.6v-16.2h0.95v16.2zM260.6 744.6v-16.6h0.95v16.6zM261.5 744.6v-16.6h0.95v16.6zM262.4 744.6v-16.6h0.95v16.6zM263.3 744.6v-16.9h0.95v16.9zM268.3 744.6v-4.4h0.95v4.4zM269.2 744.6v-5.7h0.95v5.7zM270.1 744.6v-5.7h0.95v5.7zM271.4 744.6v-6.8h0.95v6.8zM272.3 744.6v-7.3h0.95v7.3zM273.2 744.6v-7.1h0.95v7.1zM275.5 744.6v-9.7h0.95v9.7zM276.4 744.6v-9.1h0.95v9.1zM277.3 744.6v-9.2h0.95v9.2zM272.1 744.6v-4.7h0.95v4.7zM273.0 744.6v-4.6h0.95v4.6zM275.1 744.6v-7.6h0.95v7.6zM276.0 744.6v-6.5h0.95v6.5zM276.9 744.6v-6.6h0.95v6.6zM282.3 744.6v-12.7h0.95v12.7zM283.2 744.6v-15.1h0.95v15.1zM284.1 744.6v-13.0h0.95v13.0zM286.0 744.6v-5.0h0.95v5.0zM286.9 744.6v-6.0h0.95v6.0zM287.8 744.6v-7.4h0.95v7.4zM288.7 744.6v-8.0h0.95v8.0zM289.6 744.6v-1.8h0.95v1.8zM292.2 744.6v-6.2h0.95v6.2zM297.1 744.6v-3.3h0.95v3.3zM298.0 744.6v-4.5h0.95v4.5zM298.9 744.6v-5.3h0.95v5.3zM299.8 744.6v-7.1h0.95v7.1zM300.7 744.6v-1.4h0.95v1.4zM301.6 744.6v-5.3h0.95v5.3zM302.5 744.6v-1.4h0.95v1.4zM303.4 744.6v-1.3h0.95v1.3zM307.0 744.6v-5.2h0.95v5.2zM307.9 744.6v-5.0h0.95v5.0zM308.8 744.6v-8.7h0.95v8.7zM309.7 744.6v-2.9h0.95v2.9zM310.6 744.6v-8.0h0.95v8.0zM311.5 744.6v-1.8h0.95v1.8zM312.4 744.6v-2.2h0.95v2.2zM313.3 744.6v-11.8h0.95v11.8zM314.2 744.6v-11.9h0.95v11.9zM315.1 744.6v-10.4h0.95v10.4zM316.0 744.6v-8.2h0.95v8.2zM316.9 744.6v-0.3h0.95v0.3zM317.8 744.6v-5.7h0.95v5.7zM318.7 744.6v-4.5h0.95v4.5zM319.6 744.6v-4.1h0.95v4.1zM328.5 744.6v-6.2h0.95v6.2zM329.4 744.6v-9.5h0.95v9.5zM330.3 744.6v-12.9h0.95v12.9zM331.2 744.6v-14.1h0.95v14.1zM332.1 744.6v-15.8h0.95v15.8zM333.0 744.6v-1.8h0.95v1.8zM333.9 744.6v-15.7h0.95v15.7zM334.8 744.6v-1.8h0.95v1.8zM335.7 744.6v-14.7h0.95v14.7zM336.6 744.6v-10.1h0.95v10.1zM337.5 744.6v-8.3h0.95v8.3zM338.4 744.6v-9.5h0.95v9.5zM339.3 744.6v-8.6h0.95v8.6zM340.2 744.6v-4.9h0.95v4.9zM341.9 744.6v-7.6h0.95v7.6zM342.8 744.6v-8.5h0.95v8.5zM354.2 744.6v-2.4h0.95v2.4zM355.1 744.6v-4.5h0.95v4.5zM356.0 744.6v-5.2h0.95v5.2zM356.9 744.6v-5.0h0.95v5.0zM357.8 744.6v-6.2h0.95v6.2zM358.7 744.6v-4.5h0.95v4.5zM359.6 744.6v-1.9h0.95v1.9zM364.0 744.6v-2.9h0.95v2.9zM364.9 744.6v-3.2h0.95v3.2zM365.8 744.6v-0.8h0.95v0.8zM366.7 744.6v-6.5h0.95v6.5zM367.6 744.6v-6.7h0.95v6.7zM368.5 744.6v-5.2h0.95v5.2zM369.4 744.6v-4.9h0.95v4.9zM370.3 744.6v-6.6h0.95v6.6zM371.2 744.6v-5.0h0.95v5.0zM372.1 744.6v-1.0h0.95v1.0zM373.0 744.6v-1.4h0.95v1.4zM373.9 744.6v-5.5h0.95v5.5zM374.8 744.6v-4.7h0.95v4.7zM375.7 744.6v-2.7h0.95v2.7zM376.6 744.6v-3.5h0.95v3.5zM380.9 744.6v-2.2h0.95v2.2zM381.8 744.6v-3.7h0.95v3.7zM382.7 744.6v-3.5h0.95v3.5zM383.6 744.6v-2.6h0.95v2.6zM384.5 744.6v-2.6h0.95v2.6zM389.5 744.6v-5.3h0.95v5.3zM390.4 744.6v-11.5h0.95v11.5zM391.3 744.6v-8.3h0.95v8.3zM392.2 744.6v-14.8h0.95v14.8zM393.1 744.6v-3.9h0.95v3.9zM394.0 744.6v-0.4h0.95v0.4zM394.9 744.6v-12.9h0.95v12.9zM395.8 744.6v-11.2h0.95v11.2zM396.7 744.6v-7.6h0.95v7.6zM397.6 744.6v-7.7h0.95v7.7zM399.3 744.6v-13.5h0.95v13.5zM400.2 744.6v-14.1h0.95v14.1zM401.1 744.6v-12.4h0.95v12.4zM402.4 744.6v-7.8h0.95v7.8zM403.3 744.6v-3.8h0.95v3.8zM404.2 744.6v-1.0h0.95v1.0zM405.1 744.6v-3.1h0.95v3.1zM406.0 744.6v-4.6h0.95v4.6zM406.9 744.6v-3.8h0.95v3.8zM407.8 744.6v-10.5h0.95v10.5zM408.7 744.6v-9.5h0.95v9.5zM409.6 744.6v-4.3h0.95v4.3zM401.0 744.6v-6.2h0.95v6.2zM401.9 744.6v-9.4h0.95v9.4zM402.8 744.6v-10.3h0.95v10.3zM403.7 744.6v-8.9h0.95v8.9zM404.6 744.6v-13.3h0.95v13.3zM405.5 744.6v-14.2h0.95v14.2zM406.4 744.6v-13.0h0.95v13.0zM407.3 744.6v-7.6h0.95v7.6zM408.2 744.6v-2.7h0.95v2.7zM409.1 744.6v-5.9h0.95v5.9zM411.3 744.6v-6.7h0.95v6.7zM412.2 744.6v-6.8h0.95v6.8zM419.5 744.6v-1.4h0.95v1.4zM420.4 744.6v-2.3h0.95v2.3zM421.3 744.6v-3.0h0.95v3.0zM422.2 744.6v-2.3h0.95v2.3zM423.1 744.6v-2.9h0.95v2.9zM424.0 744.6v-2.6h0.95v2.6zM424.9 744.6v-1.0h0.95v1.0zM428.7 744.6v-5.6h0.95v5.6zM429.6 744.6v-8.7h0.95v8.7zM430.5 744.6v-12.0h0.95v12.0zM431.4 744.6v-0.9h0.95v0.9zM432.3 744.6v-14.7h0.95v14.7zM433.2 744.6v-9.7h0.95v9.7zM434.1 744.6v-9.9h0.95v9.9zM435.0 744.6v-2.3h0.95v2.3zM435.9 744.6v-10.7h0.95v10.7zM436.8 744.6v-5.5h0.95v5.5zM437.7 744.6v-5.3h0.95v5.3zM440.0 744.6v-6.1h0.95v6.1zM440.9 744.6v-3.5h0.95v3.5zM441.8 744.6v-8.4h0.95v8.4zM442.7 744.6v-4.9h0.95v4.9zM444.8 744.6v-15.0h0.95v15.0zM445.7 744.6v-14.6h0.95v14.6zM446.6 744.6v-15.2h0.95v15.2zM449.3 744.6v-5.1h0.95v5.1zM450.2 744.6v-5.6h0.95v5.6zM454.4 744.6v-3.9h0.95v3.9zM455.3 744.6v-4.3h0.95v4.3zM461.2 744.6v-3.9h0.95v3.9zM462.1 744.6v-4.4h0.95v4.4zM463.0 744.6v-3.6h0.95v3.6zM478.0 744.6v-6.4h0.95v6.4zM478.9 744.6v-6.6h0.95v6.6zM479.8 744.6v-3.5h0.95v3.5zM483.1 744.6v-4.1h0.95v4.1zM484.0 744.6v-3.5h0.95v3.5zM484.9 744.6v-4.8h0.95v4.8zM485.8 744.6v-3.0h0.95v3.0zM487.3 744.6v-7.5h0.95v7.5zM488.2 744.6v-7.3h0.95v7.3zM489.1 744.6v-8.4h0.95v8.4zM490.0 744.6v-5.5h0.95v5.5zM493.4 744.6v-12.1h0.95v12.1zM494.3 744.6v-12.1h0.95v12.1zM498.5 744.6v-4.9h0.95v4.9zM499.4 744.6v-6.6h0.95v6.6zM500.3 744.6v-6.6h0.95v6.6zM501.2 744.6v-6.1h0.95v6.1zM502.1 744.6v-0.7h0.95v0.7zM503.0 744.6v-5.8h0.95v5.8zM503.9 744.6v-6.5h0.95v6.5zM504.8 744.6v-7.0h0.95v7.0zM505.7 744.6v-5.1h0.95v5.1zM506.6 744.6v-2.3h0.95v2.3zM507.8 744.6v-5.7h0.95v5.7zM508.7 744.6v-9.7h0.95v9.7zM509.6 744.6v-10.3h0.95v10.3zM510.5 744.6v-2.1h0.95v2.1zM511.4 744.6v-11.2h0.95v11.2zM512.3 744.6v-15.4h0.95v15.4zM513.2 744.6v-12.9h0.95v12.9zM514.1 744.6v-5.3h0.95v5.3zM530.4 744.6v-6.3h0.95v6.3zM531.3 744.6v-6.4h0.95v6.4zM530.0 744.6v-6.3h0.95v6.3zM530.9 744.6v-5.7h0.95v5.7zM571.2 744.6v-2.6h0.95v2.6zM572.1 744.6v-2.6h0.95v2.6zM576.4 744.6v-6.5h0.95v6.5zM577.3 744.6v-5.2h0.95v5.2zM582.4 744.6v-3.6h0.95v3.6zM583.3 744.6v-4.9h0.95v4.9zM584.2 744.6v-0.2h0.95v0.2zM585.1 744.6v-0.7h0.95v0.7zM586.0 744.6v-7.3h0.95v7.3zM586.9 744.6v-1.1h0.95v1.1zM587.8 744.6v-5.4h0.95v5.4zM588.7 744.6v-2.7h0.95v2.7zM593.1 744.6v-3.8h0.95v3.8zM594.0 744.6v-3.6h0.95v3.6zM600.2 744.6v-2.9h0.95v2.9zM601.1 744.6v-3.9h0.95v3.9zM602.0 744.6v-3.9h0.95v3.9zM602.9 744.6v-4.6h0.95v4.6zM603.8 744.6v-4.3h0.95v4.3zM604.7 744.6v-2.8h0.95v2.8zM605.6 744.6v-1.4h0.95v1.4zM608.0 744.6v-4.2h0.95v4.2zM608.9 744.6v-4.6h0.95v4.6zM623.2 744.6v-16.0h0.95v16.0zM624.1 744.6v-15.9h0.95v15.9zM626.9 744.6v-1.7h0.95v1.7zM627.8 744.6v-1.5h0.95v1.5zM631.4 744.6v-5.3h0.95v5.3zM632.3 744.6v-5.4h0.95v5.4zM633.2 744.6v-9.3h0.95v9.3zM634.1 744.6v-2.1h0.95v2.1zM635.0 744.6v-10.6h0.95v10.6zM635.9 744.6v-7.0h0.95v7.0zM636.8 744.6v-5.0h0.95v5.0zM637.7 744.6v-3.1h0.95v3.1zM647.0 744.6v-5.6h0.95v5.6zM647.9 744.6v-4.4h0.95v4.4zM648.8 744.6v-4.6h0.95v4.6zM651.5 744.6v-8.3h0.95v8.3zM652.4 744.6v-7.7h0.95v7.7zM653.7 744.6v-1.6h0.95v1.6zM665.5 744.6v-3.0h0.95v3.0z" fill="#f3b1b0"/>
<path d="M149.3 764.6v-2.0h0.95v2.0zM155.4 764.6v-2.9h0.95v2.9zM156.3 764.6v-4.1h0.95v4.1zM181.1 764.6v-1.4h0.95v1.4zM182.0 764.6v-2.0h0.95v2.0zM182.9 764.6v-1.8h0.95v1.8zM183.8 764.6v-0.2h0.95v0.2zM184.7 764.6v-0.8h0.95v0.8zM204.1 764.6v-1.6h0.95v1.6zM205.0 764.6v-2.0h0.95v2.0zM205.9 764.6v-3.8h0.95v3.8zM206.8 764.6v-0.4h0.95v0.4zM207.7 764.6v-3.1h0.95v3.1zM208.6 764.6v-1.8h0.95v1.8zM209.5 764.6v-1.2h0.95v1.2zM214.9 764.6v-1.3h0.95v1.3zM215.8 764.6v-0.2h0.95v0.2zM216.7 764.6v-0.2h0.95v0.2zM218.5 764.6v-2.3h0.95v2.3zM219.4 764.6v-1.3h0.95v1.3zM229.9 764.6v-2.0h0.95v2.0zM241.5 764.6v-2.6h0.95v2.6zM242.4 764.6v-4.3h0.95v4.3zM243.3 764.6v-2.8h0.95v2.8zM244.2 764.6v-3.0h0.95v3.0zM245.1 764.6v-1.5h0.95v1.5zM247.8 764.6v-17.4h0.95v17.4zM248.7 764.6v-17.5h0.95v17.5zM262.2 764.6v-8.0h0.95v8.0zM263.1 764.6v-8.2h0.95v8.2zM268.3 764.6v-9.3h0.95v9.3zM269.2 764.6v-9.4h0.95v9.4zM272.0 764.6v-9.3h0.95v9.3zM272.9 764.6v-8.7h0.95v8.7zM275.5 764.6v-4.5h0.95v4.5zM276.4 764.6v-5.8h0.95v5.8zM271.6 764.6v-7.6h0.95v7.6zM272.5 764.6v-7.4h0.95v7.4zM275.1 764.6v-4.9h0.95v4.9zM276.0 764.6v-6.1h0.95v6.1zM284.4 764.6v-2.8h0.95v2.8zM285.3 764.6v-2.4h0.95v2.4zM289.5 764.6v-1.1h0.95v1.1zM290.4 764.6v-2.4h0.95v2.4zM291.3 764.6v-0.6h0.95v0.6zM292.2 764.6v-1.8h0.95v1.8zM293.1 764.6v-1.1h0.95v1.1zM299.8 764.6v-6.7h0.95v6.7zM300.7 764.6v-6.4h0.95v6.4zM301.2 764.6v-2.6h0.95v2.6zM302.1 764.6v-2.1h0.95v2.1zM310.0 764.6v-1.7h0.95v1.7zM310.9 764.6v-1.5h0.95v1.5zM314.1 764.6v-0.3h0.95v0.3zM315.9 764.6v-1.2h0.95v1.2zM316.8 764.6v-2.0h0.95v2.0zM317.7 764.6v-0.4h0.95v0.4zM318.6 764.6v-0.4h0.95v0.4zM328.5 764.6v-1.3h0.95v1.3zM329.4 764.6v-4.1h0.95v4.1zM330.3 764.6v-0.6h0.95v0.6zM331.2 764.6v-2.5h0.95v2.5zM333.2 764.6v-5.5h0.95v5.5zM334.1 764.6v-6.8h0.95v6.8zM335.0 764.6v-6.5h0.95v6.5zM337.3 764.6v-3.6h0.95v3.6zM338.2 764.6v-1.0h0.95v1.0zM339.1 764.6v-0.3h0.95v0.3zM340.0 764.6v-2.2h0.95v2.2zM341.9 764.6v-5.6h0.95v5.6zM342.8 764.6v-5.9h0.95v5.9zM352.1 764.6v-1.2h0.95v1.2zM353.0 764.6v-1.4h0.95v1.4zM353.9 764.6v-1.0h0.95v1.0zM354.8 764.6v-0.6h0.95v0.6zM374.7 764.6v-1.6h0.95v1.6zM375.6 764.6v-1.3h0.95v1.3zM378.4 764.6v-0.9h0.95v0.9zM379.3 764.6v-1.8h0.95v1.8zM380.2 764.6v-2.4h0.95v2.4zM381.1 764.6v-2.3h0.95v2.3zM382.0 764.6v-2.5h0.95v2.5zM382.9 764.6v-1.6h0.95v1.6zM383.8 764.6v-1.0h0.95v1.0zM384.7 764.6v-0.8h0.95v0.8zM387.0 764.6v-3.0h0.95v3.0zM387.9 764.6v-3.1h0.95v3.1zM388.8 764.6v-1.3h0.95v1.3zM389.7 764.6v-3.3h0.95v3.3zM390.6 764.6v-2.0h0.95v2.0zM398.3 764.6v-4.3h0.95v4.3zM399.2 764.6v-5.2h0.95v5.2zM400.1 764.6v-5.2h0.95v5.2zM401.0 764.6v-5.5h0.95v5.5zM401.9 764.6v-2.4h0.95v2.4zM407.1 764.6v-4.7h0.95v4.7zM408.0 764.6v-5.9h0.95v5.9zM408.9 764.6v-5.2h0.95v5.2zM409.8 764.6v-3.4h0.95v3.4zM401.0 764.6v-7.6h0.95v7.6zM401.9 764.6v-6.4h0.95v6.4zM407.2 764.6v-8.0h0.95v8.0zM408.1 764.6v-7.3h0.95v7.3zM409.0 764.6v-7.6h0.95v7.6zM420.1 764.6v-2.3h0.95v2.3zM421.0 764.6v-0.6h0.95v0.6zM421.9 764.6v-3.9h0.95v3.9zM422.8 764.6v-2.9h0.95v2.9zM423.7 764.6v-1.8h0.95v1.8zM430.4 764.6v-0.2h0.95v0.2zM431.3 764.6v-2.5h0.95v2.5zM432.2 764.6v-3.0h0.95v3.0zM433.1 764.6v-4.8h0.95v4.8zM434.0 764.6v-0.6h0.95v0.6zM434.9 764.6v-5.8h0.95v5.8zM435.8 764.6v-6.4h0.95v6.4zM436.7 764.6v-6.0h0.95v6.0zM437.6 764.6v-4.5h0.95v4.5zM438.5 764.6v-5.2h0.95v5.2zM439.4 764.6v-3.2h0.95v3.2zM440.3 764.6v-2.9h0.95v2.9zM441.2 764.6v-1.8h0.95v1.8zM461.2 764.6v-5.7h0.95v5.7zM462.1 764.6v-4.6h0.95v4.6zM570.8 764.6v-5.9h0.95v5.9zM571.7 764.6v-5.3h0.95v5.3zM575.7 764.6v-10.0h0.95v10.0zM576.6 764.6v-9.8h0.95v9.8zM583.0 764.6v-4.5h0.95v4.5zM583.9 764.6v-9.4h0.95v9.4zM584.8 764.6v-7.5h0.95v7.5zM585.7 764.6v-3.5h0.95v3.5zM586.6 764.6v-4.8h0.95v4.8zM587.5 764.6v-3.4h0.95v3.4zM605.3 764.6v-5.3h0.95v5.3zM606.2 764.6v-6.0h0.95v6.0zM623.2 764.6v-3.0h0.95v3.0zM624.1 764.6v-2.7h0.95v2.7zM625.0 764.6v-3.7h0.95v3.7zM634.3 764.6v-4.5h0.95v4.5zM635.2 764.6v-4.1h0.95v4.1zM642.5 764.6v-2.8h0.95v2.8zM643.4 764.6v-2.1h0.95v2.1zM647.0 764.6v-3.1h0.95v3.1zM647.9 764.6v-2.8h0.95v2.8zM648.8 764.6v-3.0h0.95v3.0z" fill="#5d8b3c"/>
<path d="M150.3 784.6v-6.7h0.95v6.7zM151.2 784.6v-6.1h0.95v6.1zM153.3 784.6v-12.7h0.95v12.7zM154.2 784.6v-12.9h0.95v12.9zM154.8 784.6v-2.7h0.95v2.7zM155.7 784.6v-3.1h0.95v3.1zM156.6 784.6v-5.7h0.95v5.7zM157.5 784.6v-4.3h0.95v4.3zM158.4 784.6v-4.7h0.95v4.7zM159.3 784.6v-2.4h0.95v2.4zM165.7 784.6v-1.7h0.95v1.7zM166.6 784.6v-2.4h0.95v2.4zM167.5 784.6v-3.0h0.95v3.0zM168.4 784.6v-2.8h0.95v2.8zM169.3 784.6v-2.3h0.95v2.3zM170.2 784.6v-1.5h0.95v1.5zM174.9 784.6v-4.1h0.95v4.1zM175.8 784.6v-4.4h0.95v4.4zM176.7 784.6v-3.6h0.95v3.6zM177.6 784.6v-2.0h0.95v2.0zM181.1 784.6v-1.2h0.95v1.2zM182.0 784.6v-0.5h0.95v0.5zM182.9 784.6v-2.2h0.95v2.2zM183.8 784.6v-2.9h0.95v2.9zM184.7 784.6v-2.7h0.95v2.7zM185.6 784.6v-2.2h0.95v2.2zM186.5 784.6v-2.4h0.95v2.4zM187.4 784.6v-1.4h0.95v1.4zM188.3 784.6v-1.0h0.95v1.0zM189.2 784.6v-0.3h0.95v0.3zM190.9 784.6v-3.3h0.95v3.3zM191.8 784.6v-3.4h0.95v3.4zM206.1 784.6v-2.0h0.95v2.0zM207.0 784.6v-2.1h0.95v2.1zM222.1 784.6v-6.0h0.95v6.0zM223.0 784.6v-5.8h0.95v5.8zM225.8 784.6v-1.6h0.95v1.6zM240.6 784.6v-2.3h0.95v2.3zM242.4 784.6v-4.1h0.95v4.1zM243.3 784.6v-3.0h0.95v3.0zM244.2 784.6v-3.0h0.95v3.0zM245.1 784.6v-1.9h0.95v1.9zM249.8 784.6v-2.7h0.95v2.7zM250.7 784.6v-3.0h0.95v3.0zM251.6 784.6v-4.0h0.95v4.0zM253.9 784.6v-1.8h0.95v1.8zM254.8 784.6v-0.8h0.95v0.8zM255.7 784.6v-2.4h0.95v2.4zM256.6 784.6v-2.9h0.95v2.9zM257.5 784.6v-2.4h0.95v2.4zM258.4 784.6v-2.4h0.95v2.4zM259.3 784.6v-2.2h0.95v2.2zM260.2 784.6v-0.3h0.95v0.3zM261.1 784.6v-0.4h0.95v0.4zM262.0 784.6v-1.2h0.95v1.2zM262.9 784.6v-1.0h0.95v1.0zM267.7 784.6v-10.9h0.95v10.9zM268.6 784.6v-11.4h0.95v11.4zM268.9 784.6v-2.7h0.95v2.7zM269.8 784.6v-6.4h0.95v6.4zM270.7 784.6v-5.9h0.95v5.9zM271.6 784.6v-4.3h0.95v4.3zM272.5 784.6v-3.2h0.95v3.2zM275.5 784.6v-3.1h0.95v3.1zM276.4 784.6v-3.4h0.95v3.4zM270.0 784.6v-0.4h0.95v0.4zM270.9 784.6v-5.4h0.95v5.4zM271.8 784.6v-5.4h0.95v5.4zM272.7 784.6v-2.5h0.95v2.5zM276.2 784.6v-4.1h0.95v4.1zM277.1 784.6v-5.1h0.95v5.1zM292.6 784.6v-2.4h0.95v2.4zM293.5 784.6v-3.0h0.95v3.0zM297.1 784.6v-7.4h0.95v7.4zM298.0 784.6v-8.0h0.95v8.0zM300.8 784.6v-1.8h0.95v1.8zM301.7 784.6v-2.4h0.95v2.4zM302.6 784.6v-2.5h0.95v2.5zM307.0 784.6v-0.2h0.95v0.2zM309.7 784.6v-1.8h0.95v1.8zM310.6 784.6v-2.2h0.95v2.2zM311.5 784.6v-1.9h0.95v1.9zM312.4 784.6v-2.1h0.95v2.1zM313.3 784.6v-1.6h0.95v1.6zM314.2 784.6v-2.6h0.95v2.6zM315.1 784.6v-0.3h0.95v0.3zM316.0 784.6v-2.1h0.95v2.1zM316.9 784.6v-0.3h0.95v0.3zM317.8 784.6v-1.2h0.95v1.2zM318.7 784.6v-0.5h0.95v0.5zM328.5 784.6v-0.6h0.95v0.6zM329.4 784.6v-2.2h0.95v2.2zM330.3 784.6v-1.9h0.95v1.9zM331.2 784.6v-1.9h0.95v1.9zM332.1 784.6v-1.6h0.95v1.6zM333.0 784.6v-0.9h0.95v0.9zM336.1 784.6v-6.7h0.95v6.7zM337.0 784.6v-5.4h0.95v5.4zM337.9 784.6v-5.4h0.95v5.4zM339.8 784.6v-1.4h0.95v1.4zM340.7 784.6v-2.6h0.95v2.6zM341.6 784.6v-1.4h0.95v1.4zM342.5 784.6v-0.9h0.95v0.9zM349.0 784.6v-1.5h0.95v1.5zM349.9 784.6v-3.2h0.95v3.2zM350.8 784.6v-2.8h0.95v2.8zM351.7 784.6v-2.6h0.95v2.6zM352.6 784.6v-0.7h0.95v0.7zM353.1 784.6v-4.3h0.95v4.3zM354.0 784.6v-11.1h0.95v11.1zM354.9 784.6v-13.1h0.95v13.1zM355.8 784.6v-12.7h0.95v12.7zM356.7 784.6v-13.9h0.95v13.9zM357.6 784.6v-10.9h0.95v10.9zM358.5 784.6v-10.8h0.95v10.8zM359.4 784.6v-1.8h0.95v1.8zM360.3 784.6v-0.6h0.95v0.6zM361.2 784.6v-3.2h0.95v3.2zM364.4 784.6v-1.4h0.95v1.4zM365.3 784.6v-2.2h0.95v2.2zM366.2 784.6v-1.8h0.95v1.8zM367.1 784.6v-2.1h0.95v2.1zM368.0 784.6v-2.8h0.95v2.8zM368.9 784.6v-2.1h0.95v2.1zM369.8 784.6v-2.4h0.95v2.4zM370.7 784.6v-3.4h0.95v3.4zM371.6 784.6v-2.7h0.95v2.7zM372.5 784.6v-0.3h0.95v0.3zM373.4 784.6v-1.9h0.95v1.9zM374.3 784.6v-1.4h0.95v1.4zM380.9 784.6v-1.1h0.95v1.1zM381.8 784.6v-1.2h0.95v1.2zM390.1 784.6v-1.4h0.95v1.4zM391.0 784.6v-2.5h0.95v2.5zM391.9 784.6v-2.5h0.95v2.5zM392.8 784.6v-2.2h0.95v2.2zM393.7 784.6v-1.6h0.95v1.6zM394.6 784.6v-0.9h0.95v0.9zM398.9 784.6v-2.9h0.95v2.9zM399.8 784.6v-2.4h0.95v2.4zM400.7 784.6v-1.8h0.95v1.8zM402.4 784.6v-3.7h0.95v3.7zM403.3 784.6v-5.5h0.95v5.5zM404.2 784.6v-6.4h0.95v6.4zM405.1 784.6v-7.3h0.95v7.3zM406.0 784.6v-5.9h0.95v5.9zM406.9 784.6v-5.2h0.95v5.2zM407.8 784.6v-5.4h0.95v5.4zM408.7 784.6v-3.0h0.95v3.0zM409.6 784.6v-0.3h0.95v0.3zM401.0 784.6v-0.7h0.95v0.7zM401.9 784.6v-3.7h0.95v3.7zM402.8 784.6v-4.3h0.95v4.3zM403.7 784.6v-0.8h0.95v0.8zM404.6 784.6v-4.4h0.95v4.4zM405.5 784.6v-6.3h0.95v6.3zM406.4 784.6v-4.5h0.95v4.5zM407.3 784.6v-5.0h0.95v5.0zM408.2 784.6v-5.7h0.95v5.7zM409.1 784.6v-0.4h0.95v0.4zM410.0 784.6v-2.4h0.95v2.4zM410.9 784.6v-0.8h0.95v0.8zM420.1 784.6v-0.9h0.95v0.9zM421.0 784.6v-1.0h0.95v1.0zM421.9 784.6v-1.1h0.95v1.1zM422.8 784.6v-1.1h0.95v1.1zM428.7 784.6v-2.1h0.95v2.1zM429.6 784.6v-3.0h0.95v3.0zM430.5 784.6v-4.8h0.95v4.8zM432.3 784.6v-4.4h0.95v4.4zM433.2 784.6v-4.8h0.95v4.8zM434.1 784.6v-6.2h0.95v6.2zM435.0 784.6v-5.9h0.95v5.9zM435.9 784.6v-6.1h0.95v6.1zM436.8 784.6v-5.8h0.95v5.8zM437.7 784.6v-7.6h0.95v7.6zM438.6 784.6v-5.0h0.95v5.0zM439.5 784.6v-5.0h0.95v5.0zM440.4 784.6v-6.3h0.95v6.3zM441.3 784.6v-6.6h0.95v6.6zM442.2 784.6v-0.7h0.95v0.7zM444.0 784.6v-4.4h0.95v4.4zM445.8 784.6v-2.1h0.95v2.1zM438.2 784.6v-9.7h0.95v9.7zM439.1 784.6v-11.3h0.95v11.3zM449.3 784.6v-1.4h0.95v1.4zM450.2 784.6v-1.9h0.95v1.9zM462.2 784.6v-2.9h0.95v2.9zM463.1 784.6v-2.3h0.95v2.3zM483.8 784.6v-8.4h0.95v8.4zM484.7 784.6v-7.3h0.95v7.3zM487.9 784.6v-2.3h0.95v2.3zM493.4 784.6v-1.4h0.95v1.4zM494.3 784.6v-1.6h0.95v1.6zM499.0 784.6v-1.8h0.95v1.8zM499.9 784.6v-1.9h0.95v1.9zM501.7 784.6v-2.3h0.95v2.3zM502.6 784.6v-1.7h0.95v1.7zM503.5 784.6v-0.8h0.95v0.8zM510.9 784.6v-6.3h0.95v6.3zM511.8 784.6v-9.7h0.95v9.7zM512.7 784.6v-8.6h0.95v8.6zM513.6 784.6v-5.8h0.95v5.8zM514.5 784.6v-4.6h0.95v4.6zM570.8 784.6v-4.1h0.95v4.1zM571.7 784.6v-3.8h0.95v3.8zM575.7 784.6v-5.3h0.95v5.3zM576.6 784.6v-4.9h0.95v4.9zM582.4 784.6v-1.4h0.95v1.4zM583.3 784.6v-4.8h0.95v4.8zM584.2 784.6v-4.2h0.95v4.2zM585.1 784.6v-4.0h0.95v4.0zM586.0 784.6v-4.6h0.95v4.6zM586.9 784.6v-3.2h0.95v3.2zM587.8 784.6v-1.6h0.95v1.6zM588.7 784.6v-1.3h0.95v1.3zM612.5 784.6v-1.3h0.95v1.3zM613.4 784.6v-1.7h0.95v1.7zM617.4 784.6v-2.0h0.95v2.0zM618.3 784.6v-1.7h0.95v1.7zM623.2 784.6v-8.0h0.95v8.0zM624.1 784.6v-8.2h0.95v8.2zM624.7 784.6v-1.7h0.95v1.7zM625.6 784.6v-2.0h0.95v2.0zM626.5 784.6v-2.9h0.95v2.9zM627.4 784.6v-1.0h0.95v1.0zM632.5 784.6v-2.0h0.95v2.0zM634.3 784.6v-4.2h0.95v4.2zM635.2 784.6v-3.0h0.95v3.0zM636.1 784.6v-3.8h0.95v3.8zM637.0 784.6v-2.0h0.95v2.0zM637.9 784.6v-1.1h0.95v1.1zM641.4 784.6v-3.6h0.95v3.6zM642.3 784.6v-2.8h0.95v2.8zM646.3 784.6v-3.5h0.95v3.5zM647.2 784.6v-2.8h0.95v2.8z" fill="#5d8b3c"/>
<path d="M159.5 804.6v-3.6h0.95v3.6zM160.4 804.6v-4.8h0.95v4.8zM167.1 804.6v-2.5h0.95v2.5zM174.9 804.6v-0.7h0.95v0.7zM175.8 804.6v-4.3h0.95v4.3zM176.7 804.6v-4.2h0.95v4.2zM177.6 804.6v-2.3h0.95v2.3zM181.1 804.6v-2.0h0.95v2.0zM182.0 804.6v-3.5h0.95v3.5zM182.9 804.6v-2.5h0.95v2.5zM183.8 804.6v-2.9h0.95v2.9zM184.7 804.6v-1.1h0.95v1.1zM268.3 804.6v-1.0h0.95v1.0zM269.2 804.6v-2.6h0.95v2.6zM270.1 804.6v-2.5h0.95v2.5zM271.0 804.6v-0.2h0.95v0.2zM270.0 804.6v-3.5h0.95v3.5zM270.9 804.6v-3.8h0.95v3.8zM300.8 804.6v-6.9h0.95v6.9zM301.7 804.6v-7.1h0.95v7.1zM307.4 804.6v-2.3h0.95v2.3zM308.3 804.6v-3.5h0.95v3.5zM309.2 804.6v-2.8h0.95v2.8zM310.1 804.6v-3.3h0.95v3.3zM311.0 804.6v-4.5h0.95v4.5zM311.9 804.6v-0.2h0.95v0.2zM312.8 804.6v-2.8h0.95v2.8zM313.7 804.6v-1.1h0.95v1.1zM329.1 804.6v-2.3h0.95v2.3zM338.8 804.6v-2.3h0.95v2.3zM339.7 804.6v-3.0h0.95v3.0zM340.6 804.6v-2.5h0.95v2.5zM342.3 804.6v-10.1h0.95v10.1zM343.2 804.6v-9.8h0.95v9.8zM351.1 804.6v-1.7h0.95v1.7zM352.0 804.6v-2.0h0.95v2.0zM352.9 804.6v-2.0h0.95v2.0zM353.8 804.6v-0.8h0.95v0.8zM357.3 804.6v-7.8h0.95v7.8zM358.2 804.6v-10.7h0.95v10.7zM359.1 804.6v-0.2h0.95v0.2zM360.0 804.6v-0.2h0.95v0.2zM360.9 804.6v-5.4h0.95v5.4zM364.0 804.6v-5.1h0.95v5.1zM369.0 804.6v-7.5h0.95v7.5zM369.9 804.6v-10.6h0.95v10.6zM370.8 804.6v-13.7h0.95v13.7zM372.6 804.6v-11.7h0.95v11.7zM373.5 804.6v-15.6h0.95v15.6zM374.4 804.6v-11.3h0.95v11.3zM375.3 804.6v-9.4h0.95v9.4zM376.2 804.6v-3.9h0.95v3.9zM383.9 804.6v-1.9h0.95v1.9zM384.8 804.6v-1.1h0.95v1.1zM391.1 804.6v-1.5h0.95v1.5zM392.0 804.6v-1.9h0.95v1.9zM392.9 804.6v-2.0h0.95v2.0zM394.2 804.6v-5.0h0.95v5.0zM395.1 804.6v-5.0h0.95v5.0zM396.0 804.6v-4.3h0.95v4.3zM398.9 804.6v-15.6h0.95v15.6zM399.8 804.6v-15.7h0.95v15.7zM400.2 804.6v-7.0h0.95v7.0zM401.1 804.6v-6.5h0.95v6.5zM402.4 804.6v-5.6h0.95v5.6zM403.3 804.6v-1.3h0.95v1.3zM404.2 804.6v-1.2h0.95v1.2zM405.1 804.6v-0.4h0.95v0.4zM406.0 804.6v-14.0h0.95v14.0zM406.9 804.6v-13.3h0.95v13.3zM407.8 804.6v-9.6h0.95v9.6zM408.7 804.6v-7.5h0.95v7.5zM409.6 804.6v-4.6h0.95v4.6zM400.0 804.6v-7.9h0.95v7.9zM400.9 804.6v-9.1h0.95v9.1zM402.1 804.6v-6.8h0.95v6.8zM403.0 804.6v-8.3h0.95v8.3zM403.9 804.6v-9.2h0.95v9.2zM404.8 804.6v-14.5h0.95v14.5zM405.7 804.6v-14.5h0.95v14.5zM406.6 804.6v-13.4h0.95v13.4zM407.5 804.6v-1.1h0.95v1.1zM408.4 804.6v-7.0h0.95v7.0zM409.3 804.6v-2.7h0.95v2.7zM420.5 804.6v-3.0h0.95v3.0zM421.4 804.6v-4.1h0.95v4.1zM422.3 804.6v-4.9h0.95v4.9zM423.2 804.6v-4.1h0.95v4.1zM424.1 804.6v-1.5h0.95v1.5zM429.6 804.6v-1.7h0.95v1.7zM430.5 804.6v-2.5h0.95v2.5zM431.4 804.6v-3.1h0.95v3.1zM432.3 804.6v-3.4h0.95v3.4zM433.2 804.6v-3.2h0.95v3.2zM434.1 804.6v-3.5h0.95v3.5zM435.0 804.6v-5.0h0.95v5.0zM435.9 804.6v-5.0h0.95v5.0zM436.8 804.6v-2.9h0.95v2.9zM437.7 804.6v-2.8h0.95v2.8zM438.6 804.6v-2.5h0.95v2.5zM439.5 804.6v-2.3h0.95v2.3zM440.4 804.6v-1.1h0.95v1.1zM449.3 804.6v-1.9h0.95v1.9zM450.2 804.6v-2.1h0.95v2.1zM479.0 804.6v-16.2h0.95v16.2zM479.9 804.6v-15.4h0.95v15.4zM483.8 804.6v-7.8h0.95v7.8zM484.7 804.6v-6.3h0.95v6.3zM493.4 804.6v-14.9h0.95v14.9zM494.3 804.6v-15.3h0.95v15.3zM507.8 804.6v-5.8h0.95v5.8zM508.7 804.6v-11.3h0.95v11.3zM509.6 804.6v-10.0h0.95v10.0zM510.5 804.6v-11.7h0.95v11.7zM511.4 804.6v-11.7h0.95v11.7zM512.3 804.6v-12.3h0.95v12.3zM513.2 804.6v-7.9h0.95v7.9zM514.1 804.6v-0.8h0.95v0.8zM593.1 804.6v-8.5h0.95v8.5zM594.0 804.6v-8.6h0.95v8.6zM600.2 804.6v-7.7h0.95v7.7zM601.1 804.6v-7.1h0.95v7.1zM632.1 804.6v-3.8h0.95v3.8zM633.0 804.6v-0.4h0.95v0.4zM633.9 804.6v-0.5h0.95v0.5zM634.8 804.6v-4.4h0.95v4.4zM635.7 804.6v-1.6h0.95v1.6zM651.5 804.6v-3.0h0.95v3.0zM652.4 804.6v-3.7h0.95v3.7zM653.3 804.6v-2.8h0.95v2.8zM654.2 804.6v-1.6h0.95v1.6z" fill="#5d8b3c"/>
<path d="M151.3 824.6v-1.1h0.95v1.1zM152.2 824.6v-1.2h0.95v1.2zM154.4 824.6v-3.8h0.95v3.8zM155.3 824.6v-6.2h0.95v6.2zM156.2 824.6v-6.0h0.95v6.0zM157.1 824.6v-0.5h0.95v0.5zM158.0 824.6v-7.2h0.95v7.2zM158.9 824.6v-7.3h0.95v7.3zM159.8 824.6v-5.2h0.95v5.2zM160.7 824.6v-2.5h0.95v2.5zM164.6 824.6v-2.9h0.95v2.9zM165.5 824.6v-4.0h0.95v4.0zM166.4 824.6v-7.1h0.95v7.1zM167.3 824.6v-6.2h0.95v6.2zM168.2 824.6v-6.0h0.95v6.0zM169.1 824.6v-7.5h0.95v7.5zM170.0 824.6v-0.5h0.95v0.5zM170.9 824.6v-4.5h0.95v4.5zM171.8 824.6v-0.6h0.95v0.6zM172.7 824.6v-2.2h0.95v2.2zM175.9 824.6v-5.6h0.95v5.6zM176.8 824.6v-6.6h0.95v6.6zM177.7 824.6v-6.4h0.95v6.4zM182.1 824.6v-3.5h0.95v3.5zM183.0 824.6v-7.2h0.95v7.2zM183.9 824.6v-6.5h0.95v6.5zM184.8 824.6v-5.7h0.95v5.7zM185.7 824.6v-5.8h0.95v5.8zM186.6 824.6v-4.5h0.95v4.5zM187.2 824.6v-14.5h0.95v14.5zM188.1 824.6v-14.6h0.95v14.6zM189.0 824.6v-14.0h0.95v14.0zM190.9 824.6v-4.1h0.95v4.1zM191.8 824.6v-3.6h0.95v3.6zM203.2 824.6v-13.2h0.95v13.2zM204.1 824.6v-14.3h0.95v14.3zM206.1 824.6v-3.6h0.95v3.6zM207.0 824.6v-7.0h0.95v7.0zM207.9 824.6v-0.6h0.95v0.6zM208.8 824.6v-4.9h0.95v4.9zM209.7 824.6v-8.3h0.95v8.3zM210.6 824.6v-5.5h0.95v5.5zM211.5 824.6v-7.0h0.95v7.0zM212.4 824.6v-5.5h0.95v5.5zM213.3 824.6v-5.1h0.95v5.1zM214.2 824.6v-4.4h0.95v4.4zM215.1 824.6v-3.4h0.95v3.4zM216.0 824.6v-3.8h0.95v3.8zM222.5 824.6v-17.3h0.95v17.3zM223.4 824.6v-17.3h0.95v17.3zM240.6 824.6v-7.9h0.95v7.9zM241.5 824.6v-9.3h0.95v9.3zM243.7 824.6v-3.6h0.95v3.6zM244.6 824.6v-4.7h0.95v4.7zM245.5 824.6v-4.9h0.95v4.9zM246.4 824.6v-2.7h0.95v2.7zM247.8 824.6v-8.4h0.95v8.4zM248.7 824.6v-12.9h0.95v12.9zM249.6 824.6v-16.4h0.95v16.4zM250.5 824.6v-2.0h0.95v2.0zM251.4 824.6v-4.2h0.95v4.2zM252.9 824.6v-4.9h0.95v4.9zM253.8 824.6v-8.3h0.95v8.3zM254.7 824.6v-6.6h0.95v6.6zM255.6 824.6v-3.6h0.95v3.6zM257.0 824.6v-7.6h0.95v7.6zM257.9 824.6v-8.1h0.95v8.1zM258.8 824.6v-11.5h0.95v11.5zM259.7 824.6v-5.9h0.95v5.9zM260.6 824.6v-3.7h0.95v3.7zM262.2 824.6v-4.8h0.95v4.8zM263.1 824.6v-5.5h0.95v5.5zM272.0 824.6v-1.9h0.95v1.9zM272.9 824.6v-1.4h0.95v1.4zM275.1 824.6v-2.6h0.95v2.6zM276.0 824.6v-2.1h0.95v2.1zM276.9 824.6v-1.7h0.95v1.7zM272.1 824.6v-1.8h0.95v1.8zM273.0 824.6v-1.2h0.95v1.2zM275.7 824.6v-1.2h0.95v1.2zM276.6 824.6v-1.4h0.95v1.4zM281.9 824.6v-6.0h0.95v6.0zM282.8 824.6v-14.3h0.95v14.3zM283.7 824.6v-11.4h0.95v11.4zM284.6 824.6v-5.6h0.95v5.6zM286.0 824.6v-9.7h0.95v9.7zM286.9 824.6v-11.8h0.95v11.8zM287.8 824.6v-8.7h0.95v8.7zM288.7 824.6v-9.4h0.95v9.4zM289.6 824.6v-1.8h0.95v1.8zM290.5 824.6v-5.1h0.95v5.1zM291.4 824.6v-6.1h0.95v6.1zM292.3 824.6v-4.7h0.95v4.7zM293.2 824.6v-2.5h0.95v2.5zM297.1 824.6v-16.2h0.95v16.2zM298.0 824.6v-17.0h0.95v17.0zM299.8 824.6v-2.4h0.95v2.4zM300.7 824.6v-3.0h0.95v3.0zM307.4 824.6v-1.6h0.95v1.6zM308.3 824.6v-1.5h0.95v1.5zM310.6 824.6v-3.4h0.95v3.4zM311.5 824.6v-6.2h0.95v6.2zM312.4 824.6v-7.1h0.95v7.1zM313.3 824.6v-7.4h0.95v7.4zM314.2 824.6v-1.1h0.95v1.1zM317.6 824.6v-5.1h0.95v5.1zM318.5 824.6v-5.0h0.95v5.0zM319.4 824.6v-4.7h0.95v4.7zM328.5 824.6v-1.9h0.95v1.9zM329.4 824.6v-1.2h0.95v1.2zM330.3 824.6v-1.3h0.95v1.3zM331.6 824.6v-1.7h0.95v1.7zM332.5 824.6v-3.0h0.95v3.0zM333.4 824.6v-1.5h0.95v1.5zM336.7 824.6v-17.2h0.95v17.2zM337.6 824.6v-17.2h0.95v17.2zM351.1 824.6v-2.2h0.95v2.2zM352.0 824.6v-0.2h0.95v0.2zM352.9 824.6v-2.9h0.95v2.9zM353.8 824.6v-5.1h0.95v5.1zM354.7 824.6v-5.1h0.95v5.1zM355.6 824.6v-5.8h0.95v5.8zM356.5 824.6v-4.9h0.95v4.9zM357.4 824.6v-5.0h0.95v5.0zM358.3 824.6v-3.8h0.95v3.8zM359.2 824.6v-3.2h0.95v3.2zM360.1 824.6v-2.8h0.95v2.8zM361.0 824.6v-1.4h0.95v1.4zM364.0 824.6v-4.4h0.95v4.4zM364.9 824.6v-5.6h0.95v5.6zM365.8 824.6v-0.6h0.95v0.6zM366.7 824.6v-6.4h0.95v6.4zM367.6 824.6v-9.7h0.95v9.7zM368.5 824.6v-8.4h0.95v8.4zM369.4 824.6v-0.9h0.95v0.9zM370.3 824.6v-9.9h0.95v9.9zM371.2 824.6v-6.0h0.95v6.0zM372.1 824.6v-8.2h0.95v8.2zM373.0 824.6v-7.3h0.95v7.3zM373.9 824.6v-4.1h0.95v4.1zM374.8 824.6v-2.3h0.95v2.3zM375.1 824.6v-17.4h0.95v17.4zM376.0 824.6v-17.5h0.95v17.5zM382.5 824.6v-1.4h0.95v1.4zM383.4 824.6v-1.5h0.95v1.5zM384.3 824.6v-1.7h0.95v1.7zM385.2 824.6v-0.5h0.95v0.5zM389.5 824.6v-5.0h0.95v5.0zM390.4 824.6v-8.5h0.95v8.5zM391.3 824.6v-3.5h0.95v3.5zM392.2 824.6v-13.2h0.95v13.2zM393.1 824.6v-2.0h0.95v2.0zM394.0 824.6v-13.8h0.95v13.8zM394.9 824.6v-16.1h0.95v16.1zM395.8 824.6v-9.9h0.95v9.9zM396.7 824.6v-11.7h0.95v11.7zM397.6 824.6v-5.4h0.95v5.4zM398.9 824.6v-7.0h0.95v7.0zM399.8 824.6v-10.4h0.95v10.4zM400.7 824.6v-6.3h0.95v6.3zM402.4 824.6v-4.4h0.95v4.4zM403.3 824.6v-4.3h0.95v4.3zM404.2 824.6v-2.2h0.95v2.2zM405.1 824.6v-3.1h0.95v3.1zM407.1 824.6v-10.4h0.95v10.4zM408.0 824.6v-11.7h0.95v11.7zM408.9 824.6v-9.6h0.95v9.6zM409.8 824.6v-6.5h0.95v6.5zM400.0 824.6v-9.2h0.95v9.2zM400.9 824.6v-9.5h0.95v9.5zM402.1 824.6v-8.3h0.95v8.3zM403.0 824.6v-8.7h0.95v8.7zM406.6 824.6v-16.8h0.95v16.8zM407.5 824.6v-17.1h0.95v17.1zM408.4 824.6v-16.6h0.95v16.6zM409.3 824.6v-0.5h0.95v0.5zM411.3 824.6v-15.8h0.95v15.8zM412.2 824.6v-16.6h0.95v16.6zM420.5 824.6v-2.7h0.95v2.7zM421.4 824.6v-5.5h0.95v5.5zM422.3 824.6v-4.6h0.95v4.6zM423.2 824.6v-5.2h0.95v5.2zM424.1 824.6v-3.7h0.95v3.7zM429.2 824.6v-3.6h0.95v3.6zM430.1 824.6v-6.2h0.95v6.2zM431.0 824.6v-6.0h0.95v6.0zM431.9 824.6v-4.8h0.95v4.8zM432.8 824.6v-7.8h0.95v7.8zM433.7 824.6v-7.1h0.95v7.1zM434.6 824.6v-1.4h0.95v1.4zM435.5 824.6v-1.1h0.95v1.1zM436.4 824.6v-1.5h0.95v1.5zM437.3 824.6v-9.3h0.95v9.3zM438.2 824.6v-9.1h0.95v9.1zM439.1 824.6v-6.3h0.95v6.3zM440.0 824.6v-5.8h0.95v5.8zM440.9 824.6v-7.5h0.95v7.5zM441.8 824.6v-1.5h0.95v1.5zM442.7 824.6v-3.2h0.95v3.2zM443.6 824.6v-3.2h0.95v3.2zM437.6 824.6v-15.8h0.95v15.8zM438.5 824.6v-16.0h0.95v16.0zM444.8 824.6v-7.5h0.95v7.5zM445.7 824.6v-6.6h0.95v6.6zM448.9 824.6v-8.5h0.95v8.5zM449.8 824.6v-7.7h0.95v7.7zM487.3 824.6v-17.4h0.95v17.4zM488.2 824.6v-17.3h0.95v17.3zM489.1 824.6v-17.2h0.95v17.2zM499.0 824.6v-1.8h0.95v1.8zM507.8 824.6v-3.2h0.95v3.2zM508.7 824.6v-4.2h0.95v4.2zM509.6 824.6v-2.9h0.95v2.9zM510.5 824.6v-2.4h0.95v2.4zM510.9 824.6v-5.6h0.95v5.6zM511.8 824.6v-5.4h0.95v5.4zM512.7 824.6v-8.2h0.95v8.2zM513.6 824.6v-6.5h0.95v6.5zM514.5 824.6v-3.8h0.95v3.8zM570.8 824.6v-16.1h0.95v16.1zM571.5 824.6v-6.7h0.95v6.7zM583.5 824.6v-4.3h0.95v4.3zM584.4 824.6v-1.8h0.95v1.8zM585.3 824.6v-7.5h0.95v7.5zM586.2 824.6v-6.4h0.95v6.4zM587.1 824.6v-2.4h0.95v2.4zM587.5 824.6v-13.1h0.95v13.1zM588.4 824.6v-12.7h0.95v12.7zM593.1 824.6v-10.4h0.95v10.4zM594.0 824.6v-9.9h0.95v9.9zM600.2 824.6v-5.3h0.95v5.3zM601.1 824.6v-7.1h0.95v7.1zM602.0 824.6v-2.1h0.95v2.1zM602.9 824.6v-6.1h0.95v6.1zM603.8 824.6v-7.4h0.95v7.4zM604.7 824.6v-0.7h0.95v0.7zM605.6 824.6v-3.7h0.95v3.7zM605.8 824.6v-0.9h0.95v0.9zM606.7 824.6v-5.6h0.95v5.6zM607.6 824.6v-6.1h0.95v6.1zM609.4 824.6v-0.4h0.95v0.4zM612.5 824.6v-2.9h0.95v2.9zM613.4 824.6v-2.2h0.95v2.2zM623.2 824.6v-10.7h0.95v10.7zM624.1 824.6v-10.3h0.95v10.3zM624.5 824.6v-4.0h0.95v4.0zM625.4 824.6v-4.3h0.95v4.3zM641.4 824.6v-2.2h0.95v2.2zM642.3 824.6v-2.2h0.95v2.2zM643.2 824.6v-2.4h0.95v2.4zM646.3 824.6v-10.8h0.95v10.8zM647.2 824.6v-10.4h0.95v10.4zM650.8 824.6v-12.6h0.95v12.6zM651.7 824.6v-11.5h0.95v11.5zM653.0 824.6v-5.8h0.95v5.8zM653.9 824.6v-4.5h0.95v4.5zM661.9 824.6v-13.0h0.95v13.0zM662.8 824.6v-12.6h0.95v12.6zM665.1 824.6v-5.1h0.95v5.1zM666.0 824.6v-4.6h0.95v4.6z" fill="#ee6a66"/>
<path d="M153.3 844.1v-0.8h0.95v0.8zM154.2 844.1v-0.9h0.95v0.9zM155.1 844.1v-1.1h0.95v1.1zM156.0 844.1v-1.0h0.95v1.0zM156.9 844.1v-0.5h0.95v0.5zM164.6 844.1v-0.7h0.95v0.7zM165.5 844.1v-0.7h0.95v0.7zM166.4 844.1v-0.8h0.95v0.8zM167.3 844.1v-0.3h0.95v0.3zM169.8 844.1v-3.4h0.95v3.4zM170.7 844.1v-4.8h0.95v4.8zM171.6 844.1v-6.0h0.95v6.0zM172.5 844.1v-2.8h0.95v2.8zM175.3 844.1v-2.7h0.95v2.7zM176.2 844.1v-5.6h0.95v5.6zM177.1 844.1v-4.2h0.95v4.2zM183.1 844.1v-0.9h0.95v0.9zM184.0 844.1v-1.3h0.95v1.3zM184.9 844.1v-1.3h0.95v1.3zM185.8 844.1v-1.5h0.95v1.5zM186.7 844.1v-0.8h0.95v0.8zM187.6 844.1v-0.6h0.95v0.6zM190.9 844.1v-2.3h0.95v2.3zM191.8 844.1v-3.5h0.95v3.5zM192.7 844.1v-3.7h0.95v3.7zM193.6 844.1v-4.0h0.95v4.0zM194.5 844.1v-0.3h0.95v0.3zM203.2 844.1v-7.4h0.95v7.4zM204.1 844.1v-8.9h0.95v8.9zM205.0 844.1v-5.5h0.95v5.5zM205.7 844.1v-5.8h0.95v5.8zM206.6 844.1v-5.2h0.95v5.2zM207.5 844.1v-4.5h0.95v4.5zM208.4 844.1v-1.2h0.95v1.2zM209.3 844.1v-4.0h0.95v4.0zM210.8 844.1v-0.3h0.95v0.3zM211.7 844.1v-2.6h0.95v2.6zM212.6 844.1v-3.5h0.95v3.5zM213.5 844.1v-4.9h0.95v4.9zM214.4 844.1v-3.3h0.95v3.3zM215.3 844.1v-2.7h0.95v2.7zM216.2 844.1v-1.5h0.95v1.5zM217.6 844.1v-3.5h0.95v3.5zM218.5 844.1v-4.7h0.95v4.7zM219.4 844.1v-2.6h0.95v2.6zM222.1 844.1v-6.9h0.95v6.9zM223.0 844.1v-7.5h0.95v7.5zM223.9 844.1v-7.5h0.95v7.5zM225.2 844.1v-6.1h0.95v6.1zM226.1 844.1v-6.7h0.95v6.7zM227.0 844.1v-5.3h0.95v5.3zM229.5 844.1v-3.0h0.95v3.0zM230.4 844.1v-2.7h0.95v2.7zM240.6 844.1v-1.9h0.95v1.9zM241.5 844.1v-2.6h0.95v2.6zM249.8 844.1v-7.0h0.95v7.0zM250.7 844.1v-6.9h0.95v6.9zM263.2 844.1v-2.1h0.95v2.1zM267.7 844.1v-1.1h0.95v1.1zM268.6 844.1v-4.3h0.95v4.3zM269.5 844.1v-4.8h0.95v4.8zM270.4 844.1v-1.5h0.95v1.5zM271.3 844.1v-3.9h0.95v3.9zM272.2 844.1v-2.5h0.95v2.5zM273.1 844.1v-1.7h0.95v1.7zM275.5 844.1v-5.9h0.95v5.9zM276.4 844.1v-4.5h0.95v4.5zM270.0 844.1v-1.4h0.95v1.4zM270.9 844.1v-4.2h0.95v4.2zM271.8 844.1v-0.7h0.95v0.7zM272.7 844.1v-1.4h0.95v1.4zM275.7 844.1v-3.9h0.95v3.9zM276.6 844.1v-3.6h0.95v3.6zM280.7 844.1v-7.1h0.95v7.1zM281.6 844.1v-8.1h0.95v8.1zM282.5 844.1v-7.9h0.95v7.9zM284.0 844.1v-15.8h0.95v15.8zM284.9 844.1v-15.4h0.95v15.4zM285.4 844.1v-2.1h0.95v2.1zM286.3 844.1v-2.3h0.95v2.3zM287.2 844.1v-3.1h0.95v3.1zM288.1 844.1v-4.6h0.95v4.6zM289.0 844.1v-2.9h0.95v2.9zM289.9 844.1v-4.4h0.95v4.4zM290.8 844.1v-0.3h0.95v0.3zM291.7 844.1v-3.0h0.95v3.0zM292.6 844.1v-2.0h0.95v2.0zM293.5 844.1v-1.5h0.95v1.5zM297.1 844.1v-1.7h0.95v1.7zM298.0 844.1v-0.2h0.95v0.2zM299.8 844.1v-2.8h0.95v2.8zM300.7 844.1v-0.5h0.95v0.5zM301.6 844.1v-2.8h0.95v2.8zM302.5 844.1v-0.2h0.95v0.2zM307.0 844.1v-0.4h0.95v0.4zM307.9 844.1v-2.2h0.95v2.2zM308.8 844.1v-2.8h0.95v2.8zM309.7 844.1v-0.4h0.95v0.4zM310.6 844.1v-0.2h0.95v0.2zM311.5 844.1v-2.4h0.95v2.4zM312.4 844.1v-0.7h0.95v0.7zM313.3 844.1v-0.4h0.95v0.4zM314.2 844.1v-0.4h0.95v0.4zM315.1 844.1v-1.8h0.95v1.8zM316.0 844.1v-2.0h0.95v2.0zM317.6 844.1v-9.2h0.95v9.2zM318.5 844.1v-9.8h0.95v9.8zM328.5 844.1v-1.0h0.95v1.0zM329.4 844.1v-0.6h0.95v0.6zM332.6 844.1v-1.0h0.95v1.0zM333.5 844.1v-0.8h0.95v0.8zM338.2 844.1v-0.5h0.95v0.5zM339.1 844.1v-3.9h0.95v3.9zM340.0 844.1v-3.3h0.95v3.3zM341.8 844.1v-3.3h0.95v3.3zM342.7 844.1v-1.7h0.95v1.7zM361.4 844.1v-1.0h0.95v1.0zM362.3 844.1v-0.8h0.95v0.8zM364.9 844.1v-0.5h0.95v0.5zM365.8 844.1v-3.0h0.95v3.0zM366.7 844.1v-6.1h0.95v6.1zM367.6 844.1v-6.8h0.95v6.8zM368.5 844.1v-4.7h0.95v4.7zM369.4 844.1v-7.1h0.95v7.1zM370.3 844.1v-4.3h0.95v4.3zM371.2 844.1v-0.5h0.95v0.5zM372.1 844.1v-4.4h0.95v4.4zM373.0 844.1v-4.6h0.95v4.6zM373.9 844.1v-3.7h0.95v3.7zM374.8 844.1v-4.0h0.95v4.0zM375.7 844.1v-1.7h0.95v1.7zM376.6 844.1v-1.4h0.95v1.4zM381.9 844.1v-1.1h0.95v1.1zM383.7 844.1v-2.6h0.95v2.6zM384.6 844.1v-1.8h0.95v1.8zM387.4 844.1v-2.1h0.95v2.1zM389.2 844.1v-7.4h0.95v7.4zM390.1 844.1v-8.1h0.95v8.1zM391.0 844.1v-6.4h0.95v6.4zM391.9 844.1v-3.9h0.95v3.9zM392.8 844.1v-2.6h0.95v2.6zM393.2 844.1v-8.0h0.95v8.0zM394.1 844.1v-13.3h0.95v13.3zM395.0 844.1v-13.2h0.95v13.2zM395.9 844.1v-0.7h0.95v0.7zM396.8 844.1v-0.2h0.95v0.2zM397.3 844.1v-2.4h0.95v2.4zM398.2 844.1v-7.1h0.95v7.1zM399.1 844.1v-5.5h0.95v5.5zM400.0 844.1v-4.3h0.95v4.3zM400.9 844.1v-2.2h0.95v2.2zM402.4 844.1v-2.8h0.95v2.8zM403.3 844.1v-4.5h0.95v4.5zM404.2 844.1v-1.5h0.95v1.5zM405.1 844.1v-4.7h0.95v4.7zM406.0 844.1v-0.4h0.95v0.4zM406.9 844.1v-5.2h0.95v5.2zM407.8 844.1v-5.5h0.95v5.5zM408.7 844.1v-3.2h0.95v3.2zM409.6 844.1v-1.9h0.95v1.9zM400.0 844.1v-2.5h0.95v2.5zM400.9 844.1v-4.3h0.95v4.3zM401.8 844.1v-4.5h0.95v4.5zM402.7 844.1v-6.0h0.95v6.0zM403.6 844.1v-4.7h0.95v4.7zM404.5 844.1v-5.8h0.95v5.8zM405.4 844.1v-4.1h0.95v4.1zM406.3 844.1v-5.2h0.95v5.2zM407.2 844.1v-3.1h0.95v3.1zM408.1 844.1v-3.6h0.95v3.6zM409.0 844.1v-2.0h0.95v2.0zM419.5 844.1v-0.2h0.95v0.2zM420.4 844.1v-0.8h0.95v0.8zM421.3 844.1v-0.8h0.95v0.8zM422.2 844.1v-0.7h0.95v0.7zM423.1 844.1v-0.2h0.95v0.2zM424.0 844.1v-0.4h0.95v0.4zM428.7 844.1v-3.8h0.95v3.8zM429.6 844.1v-4.2h0.95v4.2zM430.5 844.1v-5.3h0.95v5.3zM431.4 844.1v-7.3h0.95v7.3zM432.3 844.1v-6.8h0.95v6.8zM433.2 844.1v-8.8h0.95v8.8zM434.1 844.1v-9.1h0.95v9.1zM435.0 844.1v-7.2h0.95v7.2zM435.9 844.1v-6.2h0.95v6.2zM436.8 844.1v-3.0h0.95v3.0zM440.0 844.1v-9.1h0.95v9.1zM440.9 844.1v-9.6h0.95v9.6zM441.8 844.1v-9.0h0.95v9.0zM449.3 844.1v-0.6h0.95v0.6zM450.2 844.1v-0.7h0.95v0.7zM454.4 844.1v-8.3h0.95v8.3zM455.3 844.1v-8.5h0.95v8.5zM461.2 844.1v-0.8h0.95v0.8zM462.1 844.1v-1.3h0.95v1.3zM463.0 844.1v-0.7h0.95v0.7zM477.6 844.1v-1.6h0.95v1.6zM478.5 844.1v-1.7h0.95v1.7zM479.4 844.1v-2.1h0.95v2.1zM499.0 844.1v-2.7h0.95v2.7zM499.9 844.1v-5.0h0.95v5.0zM500.8 844.1v-4.8h0.95v4.8zM501.7 844.1v-0.2h0.95v0.2zM502.6 844.1v-0.9h0.95v0.9zM503.5 844.1v-5.9h0.95v5.9zM504.4 844.1v-0.5h0.95v0.5zM505.3 844.1v-3.0h0.95v3.0zM506.2 844.1v-2.4h0.95v2.4zM508.8 844.1v-5.2h0.95v5.2zM509.7 844.1v-7.6h0.95v7.6zM510.6 844.1v-7.1h0.95v7.1zM511.5 844.1v-5.9h0.95v5.9zM512.4 844.1v-6.9h0.95v6.9zM513.3 844.1v-5.4h0.95v5.4zM514.2 844.1v-5.0h0.95v5.0zM587.5 844.1v-1.0h0.95v1.0zM588.4 844.1v-0.8h0.95v0.8zM589.3 844.1v-1.1h0.95v1.1zM593.5 844.1v-1.1h0.95v1.1zM594.4 844.1v-0.8h0.95v0.8zM600.2 844.1v-3.8h0.95v3.8zM601.1 844.1v-4.9h0.95v4.9zM602.0 844.1v-4.6h0.95v4.6zM602.9 844.1v-1.2h0.95v1.2zM603.8 844.1v-5.3h0.95v5.3zM604.7 844.1v-2.8h0.95v2.8zM605.6 844.1v-1.9h0.95v1.9zM608.0 844.1v-3.8h0.95v3.8zM608.9 844.1v-5.0h0.95v5.0zM612.0 844.1v-2.1h0.95v2.1zM612.9 844.1v-2.9h0.95v2.9zM617.4 844.1v-1.0h0.95v1.0zM618.3 844.1v-1.1h0.95v1.1zM624.7 844.1v-15.0h0.95v15.0zM625.6 844.1v-14.5h0.95v14.5zM627.6 844.1v-15.5h0.95v15.5zM628.5 844.1v-15.4h0.95v15.4zM633.0 844.1v-1.2h0.95v1.2zM633.9 844.1v-1.2h0.95v1.2zM634.8 844.1v-1.8h0.95v1.8zM635.7 844.1v-0.2h0.95v0.2zM637.5 844.1v-1.0h0.95v1.0zM638.4 844.1v-0.5h0.95v0.5zM642.5 844.1v-0.7h0.95v0.7zM643.4 844.1v-6.6h0.95v6.6zM644.3 844.1v-7.6h0.95v7.6zM645.2 844.1v-0.5h0.95v0.5zM646.1 844.1v-5.0h0.95v5.0zM647.0 844.1v-6.0h0.95v6.0zM647.9 844.1v-3.4h0.95v3.4zM648.8 844.1v-0.3h0.95v0.3zM650.3 844.1v-2.1h0.95v2.1zM651.2 844.1v-2.1h0.95v2.1zM652.1 844.1v-2.2h0.95v2.2zM653.0 844.1v-1.5h0.95v1.5zM653.9 844.1v-1.1h0.95v1.1zM661.9 844.1v-0.9h0.95v0.9zM662.8 844.1v-1.1h0.95v1.1zM665.1 844.1v-0.9h0.95v0.9zM666.0 844.1v-1.4h0.95v1.4z" fill="#ee6a66"/>
<path d="M164.6 863.6v-0.5h0.95v0.5zM165.5 863.6v-1.7h0.95v1.7zM166.4 863.6v-1.7h0.95v1.7zM167.3 863.6v-0.7h0.95v0.7zM169.8 863.6v-2.4h0.95v2.4zM170.7 863.6v-2.9h0.95v2.9zM171.6 863.6v-3.1h0.95v3.1zM172.5 863.6v-1.1h0.95v1.1zM174.9 863.6v-4.5h0.95v4.5zM175.8 863.6v-6.4h0.95v6.4zM176.7 863.6v-5.4h0.95v5.4zM177.6 863.6v-3.2h0.95v3.2zM181.1 863.6v-1.7h0.95v1.7zM182.0 863.6v-0.4h0.95v0.4zM182.9 863.6v-2.9h0.95v2.9zM183.8 863.6v-3.1h0.95v3.1zM185.6 863.6v-2.7h0.95v2.7zM186.5 863.6v-0.6h0.95v0.6zM187.4 863.6v-1.2h0.95v1.2zM191.3 863.6v-0.9h0.95v0.9zM192.2 863.6v-1.4h0.95v1.4zM193.1 863.6v-1.7h0.95v1.7zM194.0 863.6v-1.3h0.95v1.3zM194.9 863.6v-0.5h0.95v0.5zM206.1 863.6v-1.5h0.95v1.5zM207.0 863.6v-1.9h0.95v1.9zM214.9 863.6v-3.4h0.95v3.4zM215.8 863.6v-3.4h0.95v3.4zM225.8 863.6v-2.4h0.95v2.4zM226.7 863.6v-2.4h0.95v2.4zM229.5 863.6v-9.3h0.95v9.3zM230.4 863.6v-8.9h0.95v8.9zM240.6 863.6v-2.2h0.95v2.2zM241.5 863.6v-1.9h0.95v1.9zM249.8 863.6v-0.8h0.95v0.8zM250.7 863.6v-1.3h0.95v1.3zM257.0 863.6v-6.0h0.95v6.0zM257.9 863.6v-8.1h0.95v8.1zM258.8 863.6v-6.7h0.95v6.7zM259.7 863.6v-3.2h0.95v3.2zM262.6 863.6v-3.6h0.95v3.6zM263.5 863.6v-3.1h0.95v3.1zM267.7 863.6v-1.3h0.95v1.3zM268.6 863.6v-2.6h0.95v2.6zM269.5 863.6v-3.4h0.95v3.4zM270.4 863.6v-0.6h0.95v0.6zM271.3 863.6v-3.1h0.95v3.1zM272.2 863.6v-2.1h0.95v2.1zM273.1 863.6v-1.0h0.95v1.0zM270.0 863.6v-2.4h0.95v2.4zM270.9 863.6v-2.4h0.95v2.4zM271.8 863.6v-2.3h0.95v2.3zM272.7 863.6v-0.5h0.95v0.5zM282.8 863.6v-4.8h0.95v4.8zM283.7 863.6v-6.4h0.95v6.4zM284.6 863.6v-1.1h0.95v1.1zM292.2 863.6v-2.3h0.95v2.3zM293.1 863.6v-1.8h0.95v1.8zM299.8 863.6v-0.3h0.95v0.3zM300.7 863.6v-4.2h0.95v4.2zM301.6 863.6v-2.8h0.95v2.8zM302.5 863.6v-1.3h0.95v1.3zM307.0 863.6v-1.4h0.95v1.4zM307.9 863.6v-2.6h0.95v2.6zM308.8 863.6v-3.1h0.95v3.1zM309.7 863.6v-3.1h0.95v3.1zM310.6 863.6v-3.6h0.95v3.6zM311.5 863.6v-4.1h0.95v4.1zM312.4 863.6v-4.2h0.95v4.2zM313.3 863.6v-3.8h0.95v3.8zM314.2 863.6v-2.8h0.95v2.8zM315.1 863.6v-3.4h0.95v3.4zM316.0 863.6v-3.5h0.95v3.5zM316.9 863.6v-2.5h0.95v2.5zM317.8 863.6v-0.3h0.95v0.3zM318.7 863.6v-0.7h0.95v0.7zM319.6 863.6v-1.4h0.95v1.4zM328.1 863.6v-2.2h0.95v2.2zM329.0 863.6v-3.0h0.95v3.0zM329.9 863.6v-4.9h0.95v4.9zM330.8 863.6v-4.6h0.95v4.6zM331.7 863.6v-0.3h0.95v0.3zM332.6 863.6v-4.8h0.95v4.8zM333.5 863.6v-3.8h0.95v3.8zM334.4 863.6v-0.7h0.95v0.7zM338.8 863.6v-0.8h0.95v0.8zM339.7 863.6v-1.8h0.95v1.8zM340.6 863.6v-1.6h0.95v1.6zM341.5 863.6v-1.2h0.95v1.2zM342.4 863.6v-0.4h0.95v0.4zM349.7 863.6v-1.8h0.95v1.8zM356.6 863.6v-2.1h0.95v2.1zM364.0 863.6v-15.9h0.95v15.9zM364.9 863.6v-16.6h0.95v16.6zM365.8 863.6v-15.9h0.95v15.9zM366.7 863.6v-16.2h0.95v16.2zM368.1 863.6v-2.0h0.95v2.0zM369.0 863.6v-7.5h0.95v7.5zM369.9 863.6v-6.3h0.95v6.3zM370.8 863.6v-1.4h0.95v1.4zM371.7 863.6v-2.7h0.95v2.7zM373.7 863.6v-3.2h0.95v3.2zM374.6 863.6v-5.6h0.95v5.6zM375.5 863.6v-0.6h0.95v0.6zM376.4 863.6v-0.8h0.95v0.8zM378.4 863.6v-3.9h0.95v3.9zM379.3 863.6v-7.2h0.95v7.2zM380.2 863.6v-6.7h0.95v6.7zM381.1 863.6v-3.3h0.95v3.3zM381.9 863.6v-2.3h0.95v2.3zM382.8 863.6v-3.0h0.95v3.0zM383.7 863.6v-3.4h0.95v3.4zM384.6 863.6v-1.6h0.95v1.6zM388.0 863.6v-3.6h0.95v3.6zM389.8 863.6v-0.4h0.95v0.4zM390.7 863.6v-0.5h0.95v0.5zM391.6 863.6v-6.0h0.95v6.0zM392.5 863.6v-8.1h0.95v8.1zM393.4 863.6v-5.7h0.95v5.7zM394.3 863.6v-6.5h0.95v6.5zM396.1 863.6v-5.0h0.95v5.0zM397.0 863.6v-4.3h0.95v4.3zM397.9 863.6v-1.0h0.95v1.0zM398.3 863.6v-11.8h0.95v11.8zM399.2 863.6v-11.9h0.95v11.9zM400.1 863.6v-11.6h0.95v11.6zM402.4 863.6v-2.5h0.95v2.5zM403.3 863.6v-3.0h0.95v3.0zM404.2 863.6v-2.7h0.95v2.7zM405.1 863.6v-0.3h0.95v0.3zM406.9 863.6v-3.4h0.95v3.4zM407.8 863.6v-2.8h0.95v2.8zM408.7 863.6v-2.6h0.95v2.6zM409.6 863.6v-1.6h0.95v1.6zM400.0 863.6v-2.2h0.95v2.2zM400.9 863.6v-0.3h0.95v0.3zM401.8 863.6v-4.3h0.95v4.3zM402.7 863.6v-3.6h0.95v3.6zM403.6 863.6v-5.3h0.95v5.3zM404.5 863.6v-0.8h0.95v0.8zM406.3 863.6v-0.7h0.95v0.7zM407.2 863.6v-4.1h0.95v4.1zM408.1 863.6v-2.0h0.95v2.0zM409.0 863.6v-1.4h0.95v1.4zM418.9 863.6v-16.6h0.95v16.6zM419.8 863.6v-16.5h0.95v16.5zM420.5 863.6v-2.9h0.95v2.9zM421.4 863.6v-0.5h0.95v0.5zM422.3 863.6v-6.8h0.95v6.8zM423.2 863.6v-5.3h0.95v5.3zM424.1 863.6v-1.8h0.95v1.8zM429.2 863.6v-9.7h0.95v9.7zM430.1 863.6v-8.6h0.95v8.6zM430.8 863.6v-11.6h0.95v11.6zM431.7 863.6v-13.8h0.95v13.8zM432.6 863.6v-8.5h0.95v8.5zM433.9 863.6v-3.5h0.95v3.5zM434.8 863.6v-6.2h0.95v6.2zM435.7 863.6v-5.4h0.95v5.4zM436.6 863.6v-2.5h0.95v2.5zM439.0 863.6v-1.3h0.95v1.3zM439.9 863.6v-2.8h0.95v2.8zM440.8 863.6v-2.7h0.95v2.7zM441.7 863.6v-1.1h0.95v1.1zM445.2 863.6v-7.8h0.95v7.8zM446.1 863.6v-16.0h0.95v16.0zM449.3 863.6v-1.4h0.95v1.4zM450.2 863.6v-2.1h0.95v2.1zM462.2 863.6v-8.4h0.95v8.4zM477.6 863.6v-9.0h0.95v9.0zM478.5 863.6v-9.2h0.95v9.2zM483.8 863.6v-5.8h0.95v5.8zM487.9 863.6v-3.0h0.95v3.0zM488.8 863.6v-2.9h0.95v2.9zM493.4 863.6v-7.7h0.95v7.7zM494.3 863.6v-7.8h0.95v7.8zM499.0 863.6v-4.1h0.95v4.1zM499.9 863.6v-6.9h0.95v6.9zM500.8 863.6v-6.5h0.95v6.5zM501.7 863.6v-5.1h0.95v5.1zM502.6 863.6v-4.0h0.95v4.0zM503.5 863.6v-0.9h0.95v0.9zM509.8 863.6v-6.0h0.95v6.0zM510.7 863.6v-5.8h0.95v5.8zM511.6 863.6v-6.3h0.95v6.3zM512.5 863.6v-4.3h0.95v4.3zM526.3 863.6v-4.3h0.95v4.3zM527.2 863.6v-4.6h0.95v4.6zM529.7 863.6v-4.0h0.95v4.0zM530.6 863.6v-5.0h0.95v5.0zM530.0 863.6v-2.6h0.95v2.6zM530.9 863.6v-4.2h0.95v4.2zM560.3 863.6v-2.1h0.95v2.1zM585.3 863.6v-5.6h0.95v5.6zM586.2 863.6v-9.0h0.95v9.0zM587.1 863.6v-7.0h0.95v7.0zM587.9 863.6v-15.2h0.95v15.2zM588.8 863.6v-12.0h0.95v12.0zM593.1 863.6v-8.3h0.95v8.3zM594.0 863.6v-7.4h0.95v7.4zM600.2 863.6v-1.1h0.95v1.1zM601.1 863.6v-1.2h0.95v1.2zM602.0 863.6v-2.3h0.95v2.3zM602.9 863.6v-2.3h0.95v2.3zM603.8 863.6v-0.2h0.95v0.2zM604.7 863.6v-0.3h0.95v0.3zM605.6 863.6v-0.7h0.95v0.7zM606.9 863.6v-4.5h0.95v4.5zM607.8 863.6v-6.9h0.95v6.9zM608.7 863.6v-5.0h0.95v5.0zM612.5 863.6v-2.8h0.95v2.8zM613.4 863.6v-3.1h0.95v3.1zM617.4 863.6v-1.4h0.95v1.4zM618.3 863.6v-1.3h0.95v1.3zM624.7 863.6v-2.0h0.95v2.0zM625.6 863.6v-1.9h0.95v1.9zM626.5 863.6v-2.5h0.95v2.5zM627.4 863.6v-1.0h0.95v1.0zM631.4 863.6v-3.3h0.95v3.3zM632.3 863.6v-4.7h0.95v4.7zM633.2 863.6v-5.9h0.95v5.9zM634.1 863.6v-2.7h0.95v2.7zM642.5 863.6v-1.7h0.95v1.7zM643.4 863.6v-2.3h0.95v2.3zM648.1 863.6v-1.9h0.95v1.9zM649.0 863.6v-2.3h0.95v2.3zM653.0 863.6v-2.4h0.95v2.4zM653.9 863.6v-1.7h0.95v1.7zM665.1 863.6v-4.0h0.95v4.0zM666.0 863.6v-2.7h0.95v2.7z" fill="#ee6a66"/>
<path d="M150.7 886.1v-2.5h0.95v2.5zM151.6 886.1v-2.6h0.95v2.6zM159.5 886.1v-12.1h0.95v12.1zM160.4 886.1v-12.3h0.95v12.3zM166.3 886.1v-2.9h0.95v2.9zM167.2 886.1v-2.6h0.95v2.6zM184.8 886.1v-0.2h0.95v0.2zM185.7 886.1v-3.1h0.95v3.1zM186.6 886.1v-3.1h0.95v3.1zM187.5 886.1v-2.4h0.95v2.4zM191.3 886.1v-1.5h0.95v1.5zM192.2 886.1v-2.0h0.95v2.0zM193.1 886.1v-1.9h0.95v1.9zM194.0 886.1v-2.6h0.95v2.6zM194.9 886.1v-0.7h0.95v0.7zM203.6 886.1v-1.7h0.95v1.7zM204.5 886.1v-1.5h0.95v1.5zM219.2 886.1v-4.9h0.95v4.9zM244.7 886.1v-7.6h0.95v7.6zM245.6 886.1v-6.6h0.95v6.6zM257.4 886.1v-8.0h0.95v8.0zM258.3 886.1v-8.0h0.95v8.0zM262.2 886.1v-10.5h0.95v10.5zM263.1 886.1v-9.3h0.95v9.3zM286.0 886.1v-4.1h0.95v4.1zM286.9 886.1v-5.9h0.95v5.9zM302.4 886.1v-3.6h0.95v3.6zM303.3 886.1v-3.0h0.95v3.0zM308.0 886.1v-2.3h0.95v2.3zM308.9 886.1v-3.5h0.95v3.5zM309.8 886.1v-4.2h0.95v4.2zM310.7 886.1v-6.6h0.95v6.6zM311.6 886.1v-5.4h0.95v5.4zM312.5 886.1v-3.4h0.95v3.4zM338.8 886.1v-0.9h0.95v0.9zM339.7 886.1v-1.4h0.95v1.4zM340.6 886.1v-2.1h0.95v2.1zM341.5 886.1v-1.2h0.95v1.2zM342.4 886.1v-0.8h0.95v0.8zM351.1 886.1v-1.2h0.95v1.2zM352.0 886.1v-1.9h0.95v1.9zM352.9 886.1v-0.4h0.95v0.4zM353.8 886.1v-2.3h0.95v2.3zM354.7 886.1v-1.5h0.95v1.5zM355.6 886.1v-0.8h0.95v0.8zM358.7 886.1v-2.1h0.95v2.1zM359.6 886.1v-2.2h0.95v2.2zM371.6 886.1v-10.0h0.95v10.0zM372.5 886.1v-9.7h0.95v9.7zM373.1 886.1v-2.9h0.95v2.9zM374.0 886.1v-3.4h0.95v3.4zM389.1 886.1v-1.9h0.95v1.9zM390.0 886.1v-5.6h0.95v5.6zM390.9 886.1v-6.2h0.95v6.2zM391.8 886.1v-10.3h0.95v10.3zM392.7 886.1v-7.3h0.95v7.3zM393.6 886.1v-10.4h0.95v10.4zM394.5 886.1v-7.1h0.95v7.1zM395.4 886.1v-7.6h0.95v7.6zM396.3 886.1v-8.3h0.95v8.3zM397.2 886.1v-5.4h0.95v5.4zM398.1 886.1v-2.4h0.95v2.4zM399.3 886.1v-10.1h0.95v10.1zM400.2 886.1v-11.9h0.95v11.9zM402.4 886.1v-3.4h0.95v3.4zM403.3 886.1v-3.8h0.95v3.8zM404.2 886.1v-6.0h0.95v6.0zM405.1 886.1v-5.9h0.95v5.9zM406.0 886.1v-5.9h0.95v5.9zM406.9 886.1v-4.6h0.95v4.6zM407.8 886.1v-3.8h0.95v3.8zM408.7 886.1v-3.5h0.95v3.5zM409.6 886.1v-1.6h0.95v1.6zM400.0 886.1v-1.8h0.95v1.8zM400.9 886.1v-3.3h0.95v3.3zM401.8 886.1v-5.2h0.95v5.2zM402.7 886.1v-5.7h0.95v5.7zM403.6 886.1v-6.6h0.95v6.6zM404.5 886.1v-5.0h0.95v5.0zM405.4 886.1v-0.5h0.95v0.5zM406.3 886.1v-3.7h0.95v3.7zM407.2 886.1v-4.8h0.95v4.8zM408.1 886.1v-3.0h0.95v3.0zM409.0 886.1v-2.5h0.95v2.5zM420.5 886.1v-0.4h0.95v0.4zM421.4 886.1v-3.4h0.95v3.4zM422.3 886.1v-3.5h0.95v3.5zM423.2 886.1v-3.0h0.95v3.0zM424.1 886.1v-3.1h0.95v3.1zM429.2 886.1v-4.6h0.95v4.6zM430.1 886.1v-6.1h0.95v6.1zM431.0 886.1v-9.3h0.95v9.3zM431.9 886.1v-11.7h0.95v11.7zM432.8 886.1v-12.5h0.95v12.5zM433.7 886.1v-7.2h0.95v7.2zM434.6 886.1v-11.2h0.95v11.2zM435.5 886.1v-0.7h0.95v0.7zM436.4 886.1v-6.8h0.95v6.8zM437.3 886.1v-3.4h0.95v3.4zM593.1 886.1v-4.9h0.95v4.9zM594.0 886.1v-3.3h0.95v3.3zM600.2 886.1v-4.6h0.95v4.6zM601.1 886.1v-4.9h0.95v4.9zM634.7 886.1v-1.4h0.95v1.4zM642.5 886.1v-2.6h0.95v2.6zM643.4 886.1v-2.2h0.95v2.2zM644.3 886.1v-2.6h0.95v2.6zM647.0 886.1v-2.1h0.95v2.1zM647.9 886.1v-1.5h0.95v1.5zM648.8 886.1v-1.3h0.95v1.3zM652.6 886.1v-1.7h0.95v1.7zM653.5 886.1v-1.8h0.95v1.8z" fill="#ee6a66"/>
<rect x="75.5" y="688.5" width="600.9" height="198.0" fill="none" stroke="#484848" stroke-width="0.85"/>
</svg>
</body></html>
